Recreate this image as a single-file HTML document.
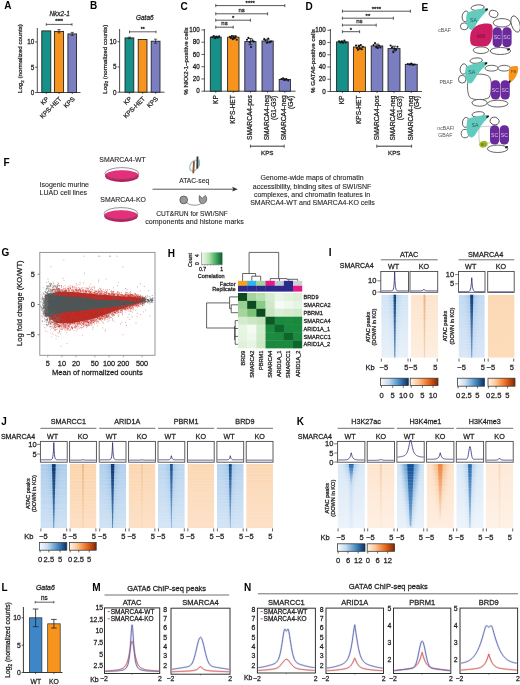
<!DOCTYPE html>
<html><head><meta charset="utf-8"><title>Figure</title>
<style>html,body{margin:0;padding:0;background:#fff;}svg{display:block;}</style></head><body>
<svg width="520" height="685" viewBox="0 0 520 685" font-family="Liberation Sans, Arial, Helvetica, sans-serif" fill="#231f20">
<style>text{stroke:#231f20;stroke-width:0.26px;} text.nc{stroke:none;} text.lt{stroke-width:0.1px;}</style>
<rect width="520" height="685" fill="#fff"/>
<text x="4.30" y="9.40" font-size="10.0" font-weight="bold" fill="#000" class="nc">A</text>
<line x1="37.30" y1="28.00" x2="37.30" y2="92.85" stroke="#231f20" stroke-width="0.8"/>
<line x1="37.30" y1="92.50" x2="80.50" y2="92.50" stroke="#231f20" stroke-width="0.8"/>
<line x1="35.10" y1="92.50" x2="37.30" y2="92.50" stroke="#231f20" stroke-width="0.7"/>
<text x="34.30" y="94.80" font-size="6.4" text-anchor="end">0</text>
<line x1="35.10" y1="67.25" x2="37.30" y2="67.25" stroke="#231f20" stroke-width="0.7"/>
<text x="34.30" y="69.55" font-size="6.4" text-anchor="end">5</text>
<line x1="35.10" y1="42.00" x2="37.30" y2="42.00" stroke="#231f20" stroke-width="0.7"/>
<text x="34.30" y="44.30" font-size="6.4" text-anchor="end">10</text>
<rect x="41.80" y="30.89" width="9.00" height="61.61" fill="#16918a" stroke="#1e1e1e" stroke-width="0.85"/>
<line x1="46.30" y1="92.50" x2="46.30" y2="94.10" stroke="#231f20" stroke-width="0.7"/>
<text x="49.30" y="99.50" font-size="6.4" text-anchor="end" transform="rotate(-45 49.30 99.50)">KP</text>
<rect x="54.40" y="31.40" width="9.20" height="61.10" fill="#f7941d" stroke="#1e1e1e" stroke-width="0.85"/>
<line x1="59.00" y1="92.50" x2="59.00" y2="94.10" stroke="#231f20" stroke-width="0.7"/>
<text x="62.00" y="99.50" font-size="6.4" text-anchor="end" transform="rotate(-45 62.00 99.50)">KPS-HET</text>
<rect x="67.90" y="33.92" width="8.70" height="58.58" fill="#7b7fc1" stroke="#1e1e1e" stroke-width="0.85"/>
<line x1="72.25" y1="92.50" x2="72.25" y2="94.10" stroke="#231f20" stroke-width="0.7"/>
<text x="75.25" y="99.50" font-size="6.4" text-anchor="end" transform="rotate(-45 75.25 99.50)">KPS</text>
<line x1="59.00" y1="29.63" x2="59.00" y2="32.91" stroke="#231f20" stroke-width="0.7"/>
<line x1="57.40" y1="29.63" x2="60.60" y2="29.63" stroke="#231f20" stroke-width="0.7"/>
<line x1="57.40" y1="32.91" x2="60.60" y2="32.91" stroke="#231f20" stroke-width="0.7"/>
<line x1="72.25" y1="32.41" x2="72.25" y2="35.43" stroke="#231f20" stroke-width="0.7"/>
<line x1="70.65" y1="32.41" x2="73.85" y2="32.41" stroke="#231f20" stroke-width="0.7"/>
<line x1="70.65" y1="35.43" x2="73.85" y2="35.43" stroke="#231f20" stroke-width="0.7"/>
<line x1="46.30" y1="24.40" x2="72.00" y2="24.40" stroke="#231f20" stroke-width="0.7"/>
<line x1="46.30" y1="23.20" x2="46.30" y2="25.80" stroke="#231f20" stroke-width="0.7"/>
<line x1="72.00" y1="23.20" x2="72.00" y2="25.80" stroke="#231f20" stroke-width="0.7"/>
<text x="59.10" y="23.40" font-size="5.0" text-anchor="middle">****</text>
<text x="59.60" y="15.60" font-size="6.4" text-anchor="middle" font-style="italic">Nkx2-1</text>
<text x="22.4" y="58.6" font-size="6.2" text-anchor="middle" transform="rotate(-90 22.4 58.6)">Log<tspan font-size="4.4" dy="1.2">2</tspan><tspan dy="-1.2"> (normalized counts)</tspan></text>
<text x="90.00" y="9.40" font-size="10.0" font-weight="bold" fill="#000" class="nc">B</text>
<line x1="119.60" y1="29.00" x2="119.60" y2="92.55" stroke="#231f20" stroke-width="0.8"/>
<line x1="119.60" y1="92.20" x2="164.50" y2="92.20" stroke="#231f20" stroke-width="0.8"/>
<line x1="117.40" y1="92.20" x2="119.60" y2="92.20" stroke="#231f20" stroke-width="0.7"/>
<text x="116.60" y="94.50" font-size="6.4" text-anchor="end">0</text>
<line x1="117.40" y1="66.95" x2="119.60" y2="66.95" stroke="#231f20" stroke-width="0.7"/>
<text x="116.60" y="69.25" font-size="6.4" text-anchor="end">5</text>
<line x1="117.40" y1="41.70" x2="119.60" y2="41.70" stroke="#231f20" stroke-width="0.7"/>
<text x="116.60" y="44.00" font-size="6.4" text-anchor="end">10</text>
<rect x="125.00" y="37.91" width="8.80" height="54.29" fill="#16918a" stroke="#1e1e1e" stroke-width="0.85"/>
<line x1="129.40" y1="92.20" x2="129.40" y2="93.80" stroke="#231f20" stroke-width="0.7"/>
<text x="132.40" y="99.20" font-size="6.4" text-anchor="end" transform="rotate(-45 132.40 99.20)">KP</text>
<rect x="138.20" y="39.43" width="8.80" height="52.77" fill="#f7941d" stroke="#1e1e1e" stroke-width="0.85"/>
<line x1="142.60" y1="92.20" x2="142.60" y2="93.80" stroke="#231f20" stroke-width="0.7"/>
<text x="145.60" y="99.20" font-size="6.4" text-anchor="end" transform="rotate(-45 145.60 99.20)">KPS-HET</text>
<rect x="151.20" y="41.20" width="8.80" height="51.00" fill="#7b7fc1" stroke="#1e1e1e" stroke-width="0.85"/>
<line x1="155.60" y1="92.20" x2="155.60" y2="93.80" stroke="#231f20" stroke-width="0.7"/>
<text x="158.60" y="99.20" font-size="6.4" text-anchor="end" transform="rotate(-45 158.60 99.20)">KPS</text>
<line x1="129.40" y1="37.16" x2="129.40" y2="38.67" stroke="#231f20" stroke-width="0.7"/>
<line x1="127.80" y1="37.16" x2="131.00" y2="37.16" stroke="#231f20" stroke-width="0.7"/>
<line x1="127.80" y1="38.67" x2="131.00" y2="38.67" stroke="#231f20" stroke-width="0.7"/>
<line x1="155.60" y1="39.18" x2="155.60" y2="43.22" stroke="#231f20" stroke-width="0.7"/>
<line x1="154.00" y1="39.18" x2="157.20" y2="39.18" stroke="#231f20" stroke-width="0.7"/>
<line x1="154.00" y1="43.22" x2="157.20" y2="43.22" stroke="#231f20" stroke-width="0.7"/>
<line x1="129.50" y1="31.80" x2="156.00" y2="31.80" stroke="#231f20" stroke-width="0.7"/>
<line x1="129.50" y1="30.60" x2="129.50" y2="33.20" stroke="#231f20" stroke-width="0.7"/>
<line x1="156.00" y1="30.60" x2="156.00" y2="33.20" stroke="#231f20" stroke-width="0.7"/>
<text x="142.80" y="30.60" font-size="5.0" text-anchor="middle">**</text>
<text x="144.80" y="20.20" font-size="6.4" text-anchor="middle" font-style="italic">Gata6</text>
<text x="106.9" y="59.2" font-size="6.2" text-anchor="middle" transform="rotate(-90 106.9 59.2)">Log<tspan font-size="4.4" dy="1.2">2</tspan><tspan dy="-1.2"> (normalized counts)</tspan></text>
<text x="180.60" y="10.00" font-size="10.0" font-weight="bold" fill="#000" class="nc">C</text>
<line x1="204.40" y1="29.00" x2="204.40" y2="91.55" stroke="#231f20" stroke-width="0.8"/>
<line x1="204.40" y1="91.20" x2="295.60" y2="91.20" stroke="#231f20" stroke-width="0.8"/>
<line x1="201.40" y1="91.20" x2="204.40" y2="91.20" stroke="#231f20" stroke-width="0.7"/>
<text x="199.80" y="93.40" font-size="6.3" text-anchor="end">0</text>
<line x1="201.40" y1="78.95" x2="204.40" y2="78.95" stroke="#231f20" stroke-width="0.7"/>
<text x="199.80" y="81.15" font-size="6.3" text-anchor="end">20</text>
<line x1="201.40" y1="66.70" x2="204.40" y2="66.70" stroke="#231f20" stroke-width="0.7"/>
<text x="199.80" y="68.90" font-size="6.3" text-anchor="end">40</text>
<line x1="201.40" y1="54.45" x2="204.40" y2="54.45" stroke="#231f20" stroke-width="0.7"/>
<text x="199.80" y="56.65" font-size="6.3" text-anchor="end">60</text>
<line x1="201.40" y1="42.20" x2="204.40" y2="42.20" stroke="#231f20" stroke-width="0.7"/>
<text x="199.80" y="44.40" font-size="6.3" text-anchor="end">80</text>
<line x1="201.40" y1="29.95" x2="204.40" y2="29.95" stroke="#231f20" stroke-width="0.7"/>
<text x="199.80" y="32.15" font-size="6.3" text-anchor="end">100</text>
<rect x="210.30" y="37.05" width="10.90" height="54.15" fill="#16918a" stroke="#1e1e1e" stroke-width="0.85"/>
<line x1="215.75" y1="91.20" x2="215.75" y2="92.80" stroke="#231f20" stroke-width="0.7"/>
<text x="217.65" y="95.20" font-size="6.6" text-anchor="end" transform="rotate(-90 217.65 95.20)">KP</text>
<line x1="215.75" y1="36.25" x2="215.75" y2="37.86" stroke="#231f20" stroke-width="0.8"/>
<line x1="213.75" y1="36.25" x2="217.75" y2="36.25" stroke="#231f20" stroke-width="0.8"/>
<line x1="213.75" y1="37.86" x2="217.75" y2="37.86" stroke="#231f20" stroke-width="0.8"/>
<circle cx="212.35" cy="37.30" r="1.05" fill="#111"/>
<circle cx="213.71" cy="36.07" r="1.05" fill="#111"/>
<circle cx="215.07" cy="38.22" r="1.05" fill="#111"/>
<circle cx="216.43" cy="36.69" r="1.05" fill="#111"/>
<circle cx="217.79" cy="37.61" r="1.05" fill="#111"/>
<circle cx="219.15" cy="36.38" r="1.05" fill="#111"/>
<rect x="227.60" y="37.18" width="11.40" height="54.02" fill="#f7941d" stroke="#1e1e1e" stroke-width="0.85"/>
<line x1="233.30" y1="91.20" x2="233.30" y2="92.80" stroke="#231f20" stroke-width="0.7"/>
<text x="235.20" y="95.20" font-size="6.6" text-anchor="end" transform="rotate(-90 235.20 95.20)">KPS-HET</text>
<line x1="233.30" y1="35.75" x2="233.30" y2="38.60" stroke="#231f20" stroke-width="0.8"/>
<line x1="231.30" y1="35.75" x2="235.30" y2="35.75" stroke="#231f20" stroke-width="0.8"/>
<line x1="231.30" y1="38.60" x2="235.30" y2="38.60" stroke="#231f20" stroke-width="0.8"/>
<circle cx="229.90" cy="36.69" r="1.05" fill="#111"/>
<circle cx="230.87" cy="37.91" r="1.05" fill="#111"/>
<circle cx="231.84" cy="36.07" r="1.05" fill="#111"/>
<circle cx="232.81" cy="39.14" r="1.05" fill="#111"/>
<circle cx="233.79" cy="36.99" r="1.05" fill="#111"/>
<circle cx="234.76" cy="38.22" r="1.05" fill="#111"/>
<circle cx="235.73" cy="36.38" r="1.05" fill="#111"/>
<circle cx="236.70" cy="39.75" r="1.05" fill="#111"/>
<rect x="244.80" y="41.59" width="11.20" height="49.61" fill="#7b7fc1" stroke="#1e1e1e" stroke-width="0.85"/>
<line x1="250.40" y1="91.20" x2="250.40" y2="92.80" stroke="#231f20" stroke-width="0.7"/>
<text x="252.30" y="95.20" font-size="6.6" text-anchor="end" transform="rotate(-90 252.30 95.20)">SMARCA4-pos</text>
<line x1="250.40" y1="38.45" x2="250.40" y2="44.72" stroke="#231f20" stroke-width="0.8"/>
<line x1="248.40" y1="38.45" x2="252.40" y2="38.45" stroke="#231f20" stroke-width="0.8"/>
<line x1="248.40" y1="44.72" x2="252.40" y2="44.72" stroke="#231f20" stroke-width="0.8"/>
<circle cx="247.00" cy="39.75" r="1.05" fill="#111"/>
<circle cx="248.36" cy="37.91" r="1.05" fill="#111"/>
<circle cx="249.72" cy="42.20" r="1.05" fill="#111"/>
<circle cx="251.08" cy="47.10" r="1.05" fill="#111"/>
<circle cx="252.44" cy="40.36" r="1.05" fill="#111"/>
<circle cx="253.80" cy="41.59" r="1.05" fill="#111"/>
<rect x="262.00" y="40.98" width="11.20" height="50.23" fill="#7b7fc1" stroke="#1e1e1e" stroke-width="0.85"/>
<line x1="267.60" y1="91.20" x2="267.60" y2="92.80" stroke="#231f20" stroke-width="0.7"/>
<text x="269.00" y="95.20" font-size="6.6" text-anchor="end" transform="rotate(-90 269.00 95.20)">SMARCA4-neg</text>
<text x="275.70" y="95.80" font-size="6.6" text-anchor="end" transform="rotate(-90 275.70 95.80)">(G1-G3)</text>
<line x1="267.60" y1="39.24" x2="267.60" y2="42.71" stroke="#231f20" stroke-width="0.8"/>
<line x1="265.60" y1="39.24" x2="269.60" y2="39.24" stroke="#231f20" stroke-width="0.8"/>
<line x1="265.60" y1="42.71" x2="269.60" y2="42.71" stroke="#231f20" stroke-width="0.8"/>
<circle cx="264.20" cy="39.14" r="1.05" fill="#111"/>
<circle cx="265.56" cy="40.36" r="1.05" fill="#111"/>
<circle cx="266.92" cy="42.81" r="1.05" fill="#111"/>
<circle cx="268.28" cy="38.52" r="1.05" fill="#111"/>
<circle cx="269.64" cy="42.20" r="1.05" fill="#111"/>
<circle cx="271.00" cy="41.59" r="1.05" fill="#111"/>
<rect x="279.20" y="79.44" width="11.20" height="11.76" fill="#7b7fc1" stroke="#1e1e1e" stroke-width="0.85"/>
<line x1="284.80" y1="91.20" x2="284.80" y2="92.80" stroke="#231f20" stroke-width="0.7"/>
<text x="286.20" y="95.20" font-size="6.6" text-anchor="end" transform="rotate(-90 286.20 95.20)">SMARCA4-neg</text>
<text x="292.90" y="95.80" font-size="6.6" text-anchor="end" transform="rotate(-90 292.90 95.80)">(G4)</text>
<line x1="284.80" y1="78.61" x2="284.80" y2="80.27" stroke="#231f20" stroke-width="0.8"/>
<line x1="282.80" y1="78.61" x2="286.80" y2="78.61" stroke="#231f20" stroke-width="0.8"/>
<line x1="282.80" y1="80.27" x2="286.80" y2="80.27" stroke="#231f20" stroke-width="0.8"/>
<circle cx="281.40" cy="78.95" r="1.05" fill="#111"/>
<circle cx="283.10" cy="78.34" r="1.05" fill="#111"/>
<circle cx="284.80" cy="79.87" r="1.05" fill="#111"/>
<circle cx="286.50" cy="79.26" r="1.05" fill="#111"/>
<circle cx="288.20" cy="80.48" r="1.05" fill="#111"/>
<line x1="215.75" y1="5.60" x2="284.80" y2="5.60" stroke="#444" stroke-width="0.9"/>
<line x1="215.75" y1="4.10" x2="215.75" y2="7.10" stroke="#444" stroke-width="0.9"/>
<line x1="284.80" y1="4.10" x2="284.80" y2="7.10" stroke="#444" stroke-width="0.9"/>
<text x="250.28" y="5.40" font-size="6.0" text-anchor="middle">****</text>
<line x1="215.75" y1="13.80" x2="267.60" y2="13.80" stroke="#444" stroke-width="0.9"/>
<line x1="215.75" y1="12.30" x2="215.75" y2="15.30" stroke="#444" stroke-width="0.9"/>
<line x1="267.60" y1="12.30" x2="267.60" y2="15.30" stroke="#444" stroke-width="0.9"/>
<text x="241.68" y="11.90" font-size="6.0" text-anchor="middle">ns</text>
<line x1="215.75" y1="20.20" x2="250.40" y2="20.20" stroke="#444" stroke-width="0.9"/>
<line x1="215.75" y1="18.70" x2="215.75" y2="21.70" stroke="#444" stroke-width="0.9"/>
<line x1="250.40" y1="18.70" x2="250.40" y2="21.70" stroke="#444" stroke-width="0.9"/>
<text x="233.07" y="20.00" font-size="6.0" text-anchor="middle">*</text>
<line x1="215.75" y1="27.20" x2="233.20" y2="27.20" stroke="#444" stroke-width="0.9"/>
<line x1="215.75" y1="25.70" x2="215.75" y2="28.70" stroke="#444" stroke-width="0.9"/>
<line x1="233.20" y1="25.70" x2="233.20" y2="28.70" stroke="#444" stroke-width="0.9"/>
<text x="224.47" y="25.30" font-size="6.0" text-anchor="middle">ns</text>
<text x="187.6" y="61" font-size="6.2" text-anchor="middle" transform="rotate(-90 187.6 61)">% NKX2-1–positive cells</text>
<line x1="250.40" y1="146.20" x2="284.20" y2="146.20" stroke="#231f20" stroke-width="0.9"/>
<line x1="250.40" y1="144.60" x2="250.40" y2="147.80" stroke="#231f20" stroke-width="0.7"/>
<line x1="284.20" y1="144.60" x2="284.20" y2="147.80" stroke="#231f20" stroke-width="0.7"/>
<text x="267.30" y="155.20" font-size="6.2" text-anchor="middle">KPS</text>
<text x="305.60" y="10.00" font-size="10.0" font-weight="bold" fill="#000" class="nc">D</text>
<line x1="330.40" y1="29.00" x2="330.40" y2="91.85" stroke="#231f20" stroke-width="0.8"/>
<line x1="330.40" y1="91.50" x2="422.00" y2="91.50" stroke="#231f20" stroke-width="0.8"/>
<line x1="327.40" y1="91.50" x2="330.40" y2="91.50" stroke="#231f20" stroke-width="0.7"/>
<text x="325.80" y="93.70" font-size="6.3" text-anchor="end">0</text>
<line x1="327.40" y1="79.25" x2="330.40" y2="79.25" stroke="#231f20" stroke-width="0.7"/>
<text x="325.80" y="81.45" font-size="6.3" text-anchor="end">20</text>
<line x1="327.40" y1="67.00" x2="330.40" y2="67.00" stroke="#231f20" stroke-width="0.7"/>
<text x="325.80" y="69.20" font-size="6.3" text-anchor="end">40</text>
<line x1="327.40" y1="54.75" x2="330.40" y2="54.75" stroke="#231f20" stroke-width="0.7"/>
<text x="325.80" y="56.95" font-size="6.3" text-anchor="end">60</text>
<line x1="327.40" y1="42.50" x2="330.40" y2="42.50" stroke="#231f20" stroke-width="0.7"/>
<text x="325.80" y="44.70" font-size="6.3" text-anchor="end">80</text>
<line x1="327.40" y1="30.25" x2="330.40" y2="30.25" stroke="#231f20" stroke-width="0.7"/>
<text x="325.80" y="32.45" font-size="6.3" text-anchor="end">100</text>
<rect x="336.60" y="41.89" width="11.60" height="49.61" fill="#16918a" stroke="#1e1e1e" stroke-width="0.85"/>
<line x1="342.40" y1="91.50" x2="342.40" y2="93.10" stroke="#231f20" stroke-width="0.7"/>
<text x="344.30" y="95.50" font-size="6.6" text-anchor="end" transform="rotate(-90 344.30 95.50)">KP</text>
<line x1="342.40" y1="41.04" x2="342.40" y2="42.73" stroke="#231f20" stroke-width="0.8"/>
<line x1="340.40" y1="41.04" x2="344.40" y2="41.04" stroke="#231f20" stroke-width="0.8"/>
<line x1="340.40" y1="42.73" x2="344.40" y2="42.73" stroke="#231f20" stroke-width="0.8"/>
<circle cx="339.00" cy="41.27" r="1.05" fill="#111"/>
<circle cx="340.36" cy="42.50" r="1.05" fill="#111"/>
<circle cx="341.72" cy="41.58" r="1.05" fill="#111"/>
<circle cx="343.08" cy="42.81" r="1.05" fill="#111"/>
<circle cx="344.44" cy="40.66" r="1.05" fill="#111"/>
<circle cx="345.80" cy="42.50" r="1.05" fill="#111"/>
<rect x="353.40" y="47.03" width="12.00" height="44.47" fill="#f7941d" stroke="#1e1e1e" stroke-width="0.85"/>
<line x1="359.40" y1="91.50" x2="359.40" y2="93.10" stroke="#231f20" stroke-width="0.7"/>
<text x="361.30" y="95.50" font-size="6.6" text-anchor="end" transform="rotate(-90 361.30 95.50)">KPS-HET</text>
<line x1="359.40" y1="45.20" x2="359.40" y2="48.87" stroke="#231f20" stroke-width="0.8"/>
<line x1="357.40" y1="45.20" x2="361.40" y2="45.20" stroke="#231f20" stroke-width="0.8"/>
<line x1="357.40" y1="48.87" x2="361.40" y2="48.87" stroke="#231f20" stroke-width="0.8"/>
<circle cx="356.00" cy="45.56" r="1.05" fill="#111"/>
<circle cx="356.97" cy="48.01" r="1.05" fill="#111"/>
<circle cx="357.94" cy="49.85" r="1.05" fill="#111"/>
<circle cx="358.91" cy="46.17" r="1.05" fill="#111"/>
<circle cx="359.89" cy="48.62" r="1.05" fill="#111"/>
<circle cx="360.86" cy="44.95" r="1.05" fill="#111"/>
<circle cx="361.83" cy="49.24" r="1.05" fill="#111"/>
<circle cx="362.80" cy="46.79" r="1.05" fill="#111"/>
<rect x="371.20" y="45.93" width="11.60" height="45.57" fill="#7b7fc1" stroke="#1e1e1e" stroke-width="0.85"/>
<line x1="377.00" y1="91.50" x2="377.00" y2="93.10" stroke="#231f20" stroke-width="0.7"/>
<text x="378.90" y="95.50" font-size="6.6" text-anchor="end" transform="rotate(-90 378.90 95.50)">SMARCA4-pos</text>
<line x1="377.00" y1="44.13" x2="377.00" y2="47.73" stroke="#231f20" stroke-width="0.8"/>
<line x1="375.00" y1="44.13" x2="379.00" y2="44.13" stroke="#231f20" stroke-width="0.8"/>
<line x1="375.00" y1="47.73" x2="379.00" y2="47.73" stroke="#231f20" stroke-width="0.8"/>
<circle cx="373.60" cy="44.95" r="1.05" fill="#111"/>
<circle cx="374.96" cy="43.11" r="1.05" fill="#111"/>
<circle cx="376.32" cy="46.79" r="1.05" fill="#111"/>
<circle cx="377.68" cy="48.01" r="1.05" fill="#111"/>
<circle cx="379.04" cy="45.56" r="1.05" fill="#111"/>
<circle cx="380.40" cy="47.40" r="1.05" fill="#111"/>
<rect x="388.00" y="48.62" width="12.00" height="42.88" fill="#7b7fc1" stroke="#1e1e1e" stroke-width="0.85"/>
<line x1="394.00" y1="91.50" x2="394.00" y2="93.10" stroke="#231f20" stroke-width="0.7"/>
<text x="395.40" y="95.50" font-size="6.6" text-anchor="end" transform="rotate(-90 395.40 95.50)">SMARCA4-neg</text>
<text x="402.10" y="96.10" font-size="6.6" text-anchor="end" transform="rotate(-90 402.10 96.10)">(G1-G3)</text>
<line x1="394.00" y1="46.21" x2="394.00" y2="51.04" stroke="#231f20" stroke-width="0.8"/>
<line x1="392.00" y1="46.21" x2="396.00" y2="46.21" stroke="#231f20" stroke-width="0.8"/>
<line x1="392.00" y1="51.04" x2="396.00" y2="51.04" stroke="#231f20" stroke-width="0.8"/>
<circle cx="390.60" cy="45.56" r="1.05" fill="#111"/>
<circle cx="391.96" cy="47.40" r="1.05" fill="#111"/>
<circle cx="393.32" cy="52.30" r="1.05" fill="#111"/>
<circle cx="394.68" cy="48.62" r="1.05" fill="#111"/>
<circle cx="396.04" cy="49.85" r="1.05" fill="#111"/>
<circle cx="397.40" cy="46.79" r="1.05" fill="#111"/>
<rect x="405.30" y="64.31" width="11.90" height="27.19" fill="#7b7fc1" stroke="#1e1e1e" stroke-width="0.85"/>
<line x1="411.25" y1="91.50" x2="411.25" y2="93.10" stroke="#231f20" stroke-width="0.7"/>
<text x="412.65" y="95.50" font-size="6.6" text-anchor="end" transform="rotate(-90 412.65 95.50)">SMARCA4-neg</text>
<text x="419.35" y="96.10" font-size="6.6" text-anchor="end" transform="rotate(-90 419.35 96.10)">(G4)</text>
<line x1="411.25" y1="63.80" x2="411.25" y2="64.81" stroke="#231f20" stroke-width="0.8"/>
<line x1="409.25" y1="63.80" x2="413.25" y2="63.80" stroke="#231f20" stroke-width="0.8"/>
<line x1="409.25" y1="64.81" x2="413.25" y2="64.81" stroke="#231f20" stroke-width="0.8"/>
<circle cx="407.85" cy="63.94" r="1.05" fill="#111"/>
<circle cx="409.55" cy="64.55" r="1.05" fill="#111"/>
<circle cx="411.25" cy="63.63" r="1.05" fill="#111"/>
<circle cx="412.95" cy="64.86" r="1.05" fill="#111"/>
<circle cx="414.65" cy="64.55" r="1.05" fill="#111"/>
<line x1="342.40" y1="11.20" x2="410.40" y2="11.20" stroke="#444" stroke-width="0.9"/>
<line x1="342.40" y1="9.70" x2="342.40" y2="12.70" stroke="#444" stroke-width="0.9"/>
<line x1="410.40" y1="9.70" x2="410.40" y2="12.70" stroke="#444" stroke-width="0.9"/>
<text x="376.40" y="11.00" font-size="6.0" text-anchor="middle">****</text>
<line x1="342.40" y1="18.20" x2="393.40" y2="18.20" stroke="#444" stroke-width="0.9"/>
<line x1="342.40" y1="16.70" x2="342.40" y2="19.70" stroke="#444" stroke-width="0.9"/>
<line x1="393.40" y1="16.70" x2="393.40" y2="19.70" stroke="#444" stroke-width="0.9"/>
<text x="367.90" y="18.00" font-size="6.0" text-anchor="middle">**</text>
<line x1="342.40" y1="25.10" x2="376.20" y2="25.10" stroke="#444" stroke-width="0.9"/>
<line x1="342.40" y1="23.60" x2="342.40" y2="26.60" stroke="#444" stroke-width="0.9"/>
<line x1="376.20" y1="23.60" x2="376.20" y2="26.60" stroke="#444" stroke-width="0.9"/>
<text x="359.30" y="23.20" font-size="6.0" text-anchor="middle">ns</text>
<line x1="342.40" y1="31.70" x2="359.60" y2="31.70" stroke="#444" stroke-width="0.9"/>
<line x1="342.40" y1="30.20" x2="342.40" y2="33.20" stroke="#444" stroke-width="0.9"/>
<line x1="359.60" y1="30.20" x2="359.60" y2="33.20" stroke="#444" stroke-width="0.9"/>
<text x="351.00" y="31.50" font-size="6.0" text-anchor="middle">*</text>
<text x="314.8" y="61" font-size="6.2" text-anchor="middle" transform="rotate(-90 314.8 61)">% GATA6-positive cells</text>
<line x1="376.80" y1="146.20" x2="411.60" y2="146.20" stroke="#231f20" stroke-width="0.9"/>
<line x1="376.80" y1="144.60" x2="376.80" y2="147.80" stroke="#231f20" stroke-width="0.7"/>
<line x1="411.60" y1="144.60" x2="411.60" y2="147.80" stroke="#231f20" stroke-width="0.7"/>
<text x="394.20" y="155.20" font-size="6.2" text-anchor="middle">KPS</text>
<text x="421.40" y="11.40" font-size="10.0" font-weight="bold" fill="#000" class="nc">E</text>
<ellipse cx="477.6" cy="7.6" rx="6.6" ry="2.7" transform="rotate(-6 477.6 7.6)" fill="#fff" stroke="#555555" stroke-width="0.9"/>
<ellipse cx="465.6" cy="16.4" rx="3.4" ry="5.4" transform="rotate(8 465.6 16.4)" fill="#fff" stroke="#555555" stroke-width="0.9"/>
<ellipse cx="464.2" cy="26.3" rx="3.8" ry="3.5" transform="rotate(0 464.2 26.3)" fill="#fff" stroke="#555555" stroke-width="0.9"/>
<ellipse cx="493.6" cy="13.9" rx="4.4" ry="3.5" transform="rotate(15 493.6 13.9)" fill="#fff" stroke="#555555" stroke-width="0.9"/>
<ellipse cx="502" cy="22.8" rx="8.8" ry="4.2" transform="rotate(0 502 22.8)" fill="#fff" stroke="#555555" stroke-width="0.9"/>
<ellipse cx="515.6" cy="24" rx="4.2" ry="8.4" transform="rotate(-18 515.6 24)" fill="#fff" stroke="#555555" stroke-width="0.9"/>
<ellipse cx="481" cy="50.2" rx="7.8" ry="3.3" transform="rotate(0 481 50.2)" fill="#fff" stroke="#555555" stroke-width="0.9"/>
<ellipse cx="500.4" cy="51" rx="10.2" ry="3.5" transform="rotate(0 500.4 51)" fill="#fff" stroke="#555555" stroke-width="0.9"/>
<ellipse cx="508.6" cy="49.4" rx="1.6" ry="1.0" transform="rotate(-30 508.6 49.4)" fill="#151515"/>
<path d="M467.2,12.6 C472,10.5 480,8.8 485.8,8.2 C487.4,8.4 487.6,9.8 486.4,11.4 C482,15.5 477.6,21 475.2,26.6 C474.4,29 473.8,30.6 471.8,30.2 C468.6,29.4 466.6,26.6 466.2,22.6 C466,19 466.4,15 467.2,12.6 Z" fill="#62cbbd"/>
<ellipse cx="486.6" cy="9.6" rx="1.6" ry="1.0" transform="rotate(-35 486.6 9.6)" fill="#151515"/>
<text x="473.40" y="21.60" font-size="5.2" text-anchor="middle" fill="#1d5e58" class="nc">SA</text>
<path d="M471.4,31.2 C474,27 477.5,24.6 482,23.9 C486,23.4 489.6,23.4 491.4,24.6 C493,26.5 492.8,31 492.2,36 C491.8,41 489.8,45.2 486,46.2 C481,46.8 476,46.6 472.8,45.6 C470.4,44.4 469.8,41 470.2,37 C470.4,34.6 470.6,32.6 471.4,31.2 Z" fill="#cc1d63"/>
<text x="481.00" y="37.80" font-size="5.2" text-anchor="middle" fill="#6a0f33" class="nc">ARI</text>
<rect x="492.6" y="27.3" width="9.3" height="19.9" rx="4.3" fill="#6a2a9c"/>
<text x="497.25" y="39.15" font-size="5.2" text-anchor="middle" fill="#d9c8ec" class="nc">SC</text>
<rect x="502.3" y="27.3" width="9.3" height="19.9" rx="4.3" fill="#6a2a9c"/>
<text x="506.95" y="39.15" font-size="5.2" text-anchor="middle" fill="#d9c8ec" class="nc">SC</text>
<ellipse cx="476.2" cy="60.6" rx="6.2" ry="2.7" transform="rotate(-5 476.2 60.6)" fill="#fff" stroke="#555555" stroke-width="0.9"/>
<ellipse cx="463.6" cy="69" rx="3.4" ry="5.2" transform="rotate(8 463.6 69)" fill="#fff" stroke="#555555" stroke-width="0.9"/>
<ellipse cx="462.2" cy="79.2" rx="3.8" ry="3.9" transform="rotate(0 462.2 79.2)" fill="#fff" stroke="#555555" stroke-width="0.9"/>
<ellipse cx="491.6" cy="68.2" rx="6.6" ry="2.9" transform="rotate(0 491.6 68.2)" fill="#fff" stroke="#555555" stroke-width="0.9"/>
<ellipse cx="504.2" cy="68.2" rx="6.2" ry="2.9" transform="rotate(0 504.2 68.2)" fill="#fff" stroke="#555555" stroke-width="0.9"/>
<path d="M469.6,76.6 C474,73.6 484.6,73 489.2,76.6 C492.4,80.4 492,92.6 489,97.6 C484,100.6 473,100.4 469.6,97.2 C466.8,92.6 466.8,81 469.6,76.6 Z" fill="#fff" stroke="#444" stroke-width="0.8"/>
<ellipse cx="479.6" cy="102.8" rx="7.6" ry="3.4" transform="rotate(0 479.6 102.8)" fill="#fff" stroke="#555555" stroke-width="0.9"/>
<ellipse cx="497.8" cy="103.6" rx="10.2" ry="3.4" transform="rotate(0 497.8 103.6)" fill="#fff" stroke="#555555" stroke-width="0.9"/>
<path d="M466.2,66.6 C471,64.4 479,62.6 485,61.8 C486.8,62 487,63.6 485.8,65.2 C481,69.6 477,75 474.4,79.6 C473,82 471.6,83.8 469.8,83.4 C467.2,82.4 465.4,79.6 465.2,75.6 C465,72 465.4,68.6 466.2,66.6 Z" fill="#62cbbd"/>
<ellipse cx="486" cy="63.4" rx="1.6" ry="1.0" transform="rotate(-35 486 63.4)" fill="#151515"/>
<text x="471.80" y="74.00" font-size="5.2" text-anchor="middle" fill="#1d5e58" class="nc">SA</text>
<path d="M509.8,67 C512.6,66.2 516,65.8 517.8,66.4 C518.8,68.4 518,72 516.4,75.6 C514.8,79 512.4,81.6 509.8,82.6 C508.4,80 508.2,74 509.8,67 Z" fill="#f7941d"/>
<ellipse cx="509.4" cy="82" rx="1.6" ry="1.0" transform="rotate(-60 509.4 82)" fill="#151515"/>
<text x="513.60" y="73.20" font-size="4.4" text-anchor="middle" fill="#7a4400" class="nc">PB</text>
<rect x="490.8" y="80.2" width="9.3" height="19.2" rx="4.3" fill="#6a2a9c"/>
<text x="495.45" y="91.70" font-size="5.2" text-anchor="middle" fill="#d9c8ec" class="nc">SC</text>
<rect x="500.5" y="80.2" width="9.3" height="19.2" rx="4.3" fill="#6a2a9c"/>
<text x="505.15" y="91.70" font-size="5.2" text-anchor="middle" fill="#d9c8ec" class="nc">SC</text>
<ellipse cx="478.2" cy="114.4" rx="6.2" ry="2.7" transform="rotate(-5 478.2 114.4)" fill="#fff" stroke="#555555" stroke-width="0.9"/>
<ellipse cx="465.8" cy="122.4" rx="3.3" ry="5" transform="rotate(8 465.8 122.4)" fill="#fff" stroke="#555555" stroke-width="0.9"/>
<ellipse cx="465" cy="133.6" rx="3.8" ry="4.2" transform="rotate(0 465 133.6)" fill="#fff" stroke="#555555" stroke-width="0.9"/>
<ellipse cx="494.6" cy="121" rx="4.6" ry="3.8" transform="rotate(12 494.6 121)" fill="#fff" stroke="#555555" stroke-width="0.9"/>
<path d="M479.4,127.2 C483,126.2 488,126 491,126.6 L491,142.6 C487,143.6 482,143.4 479.6,142.4 C478.6,138 478.6,131 479.4,127.2 Z" fill="#fff" stroke="#999" stroke-width="0.5"/>
<ellipse cx="497.6" cy="148.8" rx="10.2" ry="3.7" transform="rotate(0 497.6 148.8)" fill="#fff" stroke="#555555" stroke-width="0.9"/>
<ellipse cx="506.6" cy="147.2" rx="1.6" ry="1.0" transform="rotate(-30 506.6 147.2)" fill="#151515"/>
<path d="M467.6,119 C472.6,117 480.4,115.6 486.6,115 C488.4,115.2 488.6,116.8 487.2,118.4 C482.6,122.8 479,128.6 476.6,132.6 C475,135.4 473.4,137.6 471.2,137.4 C468.6,136.6 466.8,133.6 466.6,129.4 C466.4,125.6 466.8,121.4 467.6,119 Z" fill="#62cbbd"/>
<ellipse cx="487.6" cy="116.6" rx="1.6" ry="1.0" transform="rotate(-35 487.6 116.6)" fill="#151515"/>
<text x="475.00" y="127.40" font-size="5.2" text-anchor="middle" fill="#1d5e58" class="nc">SA</text>
<rect x="490" y="125.2" width="9.3" height="19.2" rx="4.3" fill="#6a2a9c"/>
<text x="494.65" y="136.70" font-size="5.2" text-anchor="middle" fill="#d9c8ec" class="nc">SC</text>
<rect x="499.7" y="125.2" width="9.3" height="19.2" rx="4.3" fill="#6a2a9c"/>
<text x="504.35" y="136.70" font-size="5.2" text-anchor="middle" fill="#d9c8ec" class="nc">SC</text>
<ellipse cx="483.4" cy="144.2" rx="4.3" ry="3.4" transform="rotate(-15 483.4 144.2)" fill="#a9b92e"/>
<text x="483.40" y="145.80" font-size="3.8" text-anchor="middle" fill="#556010" class="nc">BD</text>
<text x="444.60" y="31.80" font-size="5.2" text-anchor="middle" fill="#555" class="nc">cBAF</text>
<text x="446.20" y="84.40" font-size="5.2" text-anchor="middle" fill="#555" class="nc">PBAF</text>
<text x="445.80" y="130.40" font-size="5.2" text-anchor="middle" fill="#555" class="nc">ncBAF/</text>
<text x="445.40" y="137.20" font-size="5.2" text-anchor="middle" fill="#555" class="nc">GBAF</text>
<text x="3.40" y="166.00" font-size="10.0" font-weight="bold" fill="#000" class="nc">F</text>
<text x="39.60" y="186.60" font-size="7.0" class="lt">Isogenic murine</text>
<text x="39.60" y="195.00" font-size="7.0" class="lt">LUAD cell lines</text>
<text x="122.50" y="161.90" font-size="6.9" text-anchor="middle" class="lt">SMARCA4-WT</text>
<text x="123.10" y="201.90" font-size="6.9" text-anchor="middle" class="lt">SMARCA4-KO</text>
<ellipse cx="121.9" cy="176.3" rx="16.7" ry="5.6" fill="#b51c5a"/>
<ellipse cx="121.9" cy="175.2" rx="16.5" ry="5.0" fill="#e3307b"/>
<ellipse cx="121.9" cy="173.6" rx="16.9" ry="6.0" fill="none" stroke="#4a4a4a" stroke-width="0.6"/>
<ellipse cx="121" cy="216.3" rx="16.7" ry="5.6" fill="#b51c5a"/>
<ellipse cx="121" cy="215.2" rx="16.5" ry="5.0" fill="#e3307b"/>
<ellipse cx="121" cy="213.6" rx="16.9" ry="6.0" fill="none" stroke="#4a4a4a" stroke-width="0.6"/>
<text x="194.20" y="183.20" font-size="6.7" text-anchor="middle" class="lt">ATAC-seq</text>
<line x1="152.50" y1="189.20" x2="233.50" y2="189.20" stroke="#444" stroke-width="0.9"/>
<path d="M237.8,189.2 L232.2,186.8 L233.2,189.2 L232.2,191.6 Z" fill="#333"/>
<ellipse cx="194.4" cy="165.6" rx="6.0" ry="4.0" transform="rotate(-55 194.4 165.6)" fill="none" stroke="#aec6c2" stroke-width="1.4"/>
<line x1="194.00" y1="161.20" x2="193.30" y2="173.20" stroke="#93502f" stroke-width="1.8"/>
<line x1="197.50" y1="156.60" x2="197.30" y2="168.40" stroke="#28403d" stroke-width="1.9"/>
<line x1="199.20" y1="159.50" x2="199.40" y2="166.00" stroke="#6fa7a0" stroke-width="0.8"/>
<circle cx="183.7" cy="199.9" r="3.9" fill="#999" stroke="#333" stroke-width="0.6"/>
<path d="M199.5,195.6 L202.2,198.4 L205.2,195.4 C207.5,197.5 207.2,202.5 203.4,203.6 C200.5,204.4 198.4,201.5 199.5,195.6 Z" fill="#999" stroke="#333" stroke-width="0.6"/>
<path d="M186.4,202.4 C190,206 198,206 201.2,203.4" fill="none" stroke="#333" stroke-width="0.5"/>
<text x="192.00" y="216.20" font-size="6.65" text-anchor="middle" class="lt">CUT&amp;RUN for SWI/SNF</text>
<text x="194.50" y="224.30" font-size="7.1" text-anchor="middle" class="lt">components and histone marks</text>
<text x="312.10" y="180.10" font-size="7.0" text-anchor="middle" class="lt">Genome-wide maps of chromatin</text>
<text x="312.10" y="188.50" font-size="7.0" text-anchor="middle" class="lt">accessibility, binding sites of SWI/SNF</text>
<text x="312.10" y="196.60" font-size="7.0" text-anchor="middle" class="lt">complexes, and chromatin features in</text>
<text x="312.50" y="205.30" font-size="7.0" text-anchor="middle" class="lt">SMARCA4-WT and SMARCA4-KO cells</text>
<text x="1.60" y="256.30" font-size="10.0" font-weight="bold" fill="#000" class="nc">G</text>
<clipPath id="gclip"><rect x="39.8" y="252.4" width="115.2" height="102.9"/></clipPath>
<g clip-path="url(#gclip)">
<path d="M45.00,294.50 L45.50,294.50 L46.00,294.50 L46.50,294.50 L47.00,294.50 L47.50,294.50 L48.00,294.50 L48.50,294.50 L49.00,294.50 L49.50,294.31 L50.00,294.12 L50.50,293.94 L51.00,293.75 L51.50,293.56 L52.00,293.38 L52.50,293.19 L53.00,293.00 L53.50,292.82 L54.00,292.65 L54.50,292.48 L55.00,292.30 L55.50,292.12 L56.00,291.95 L56.50,291.78 L57.00,291.60 L57.50,291.61 L58.00,291.62 L58.50,291.62 L59.00,291.63 L59.50,291.64 L60.00,291.65 L60.50,291.65 L61.00,291.66 L61.50,291.67 L62.00,291.68 L62.50,291.68 L63.00,291.69 L63.50,291.70 L64.00,291.71 L64.50,291.72 L65.00,291.72 L65.50,291.73 L66.00,291.74 L66.50,291.75 L67.00,291.75 L67.50,291.76 L68.00,291.77 L68.50,291.78 L69.00,291.78 L69.50,291.79 L70.00,291.80 L70.50,291.84 L71.00,291.89 L71.50,291.93 L72.00,291.98 L72.50,292.02 L73.00,292.06 L73.50,292.11 L74.00,292.15 L74.50,292.19 L75.00,292.24 L75.50,292.28 L76.00,292.32 L76.50,292.37 L77.00,292.41 L77.50,292.46 L78.00,292.50 L78.50,292.54 L79.00,292.59 L79.50,292.63 L80.00,292.68 L80.50,292.72 L81.00,292.76 L81.50,292.81 L82.00,292.85 L82.50,292.89 L83.00,292.94 L83.50,292.98 L84.00,293.02 L84.50,293.07 L85.00,293.11 L85.50,293.16 L86.00,293.20 L86.50,293.26 L87.00,293.31 L87.50,293.37 L88.00,293.42 L88.50,293.48 L89.00,293.53 L89.50,293.59 L90.00,293.64 L90.50,293.70 L91.00,293.76 L91.50,293.81 L92.00,293.87 L92.50,293.92 L93.00,293.98 L93.50,294.03 L94.00,294.09 L94.50,294.14 L95.00,294.20 L95.50,294.24 L96.00,294.27 L96.50,294.31 L97.00,294.35 L97.50,294.39 L98.00,294.43 L98.50,294.46 L99.00,294.50 L99.50,294.54 L100.00,294.57 L100.50,294.61 L101.00,294.65 L101.50,294.69 L102.00,294.72 L102.50,294.76 L103.00,294.80 L103.50,294.84 L104.00,294.88 L104.50,294.91 L105.00,294.95 L105.50,294.99 L106.00,295.02 L106.50,295.06 L107.00,295.10 L107.50,295.14 L108.00,295.18 L108.50,295.21 L109.00,295.25 L109.50,295.29 L110.00,295.32 L110.50,295.36 L111.00,295.40 L111.50,295.44 L112.00,295.48 L112.50,295.51 L113.00,295.55 L113.50,295.59 L114.00,295.62 L114.50,295.66 L115.00,295.70 L115.50,295.74 L116.00,295.77 L116.50,295.81 L117.00,295.85 L117.50,295.89 L118.00,295.93 L118.50,295.96 L119.00,296.00 L119.50,296.03 L120.00,296.07 L120.50,296.10 L121.00,296.13 L121.50,296.17 L122.00,296.20 L122.50,296.23 L123.00,296.27 L123.50,296.30 L124.00,296.33 L124.50,296.37 L125.00,296.40 L125.50,296.43 L126.00,296.47 L126.50,296.50 L127.00,296.53 L127.50,296.57 L128.00,296.60 L128.50,296.63 L129.00,296.67 L129.50,296.70 L130.00,296.73 L130.50,296.77 L131.00,296.80 L131.50,296.83 L132.00,296.87 L132.50,296.90 L133.00,296.93 L133.50,296.97 L134.00,297.00 L134.50,297.03 L135.00,297.07 L135.50,297.10 L136.00,297.13 L136.50,297.17 L137.00,297.20 L137.50,297.34 L138.00,297.47 L138.50,297.61 L139.00,297.75 L139.50,297.89 L140.00,298.02 L140.50,298.16 L141.00,298.30 L141.50,298.44 L142.00,298.57 L142.50,298.71 L143.00,298.85 L143.50,298.99 L144.00,299.12 L144.50,299.26 L145.00,299.40 L145.00,300.60 L144.50,300.80 L144.00,301.00 L143.50,301.20 L143.00,301.40 L142.50,301.60 L142.00,301.80 L141.50,302.00 L141.00,302.20 L140.50,302.40 L140.00,302.60 L139.50,302.80 L139.00,303.00 L138.50,303.20 L138.00,303.40 L137.50,303.60 L137.00,303.80 L136.50,303.96 L136.00,304.12 L135.50,304.28 L135.00,304.43 L134.50,304.59 L134.00,304.75 L133.50,304.91 L133.00,305.07 L132.50,305.23 L132.00,305.38 L131.50,305.54 L131.00,305.70 L130.50,305.86 L130.00,306.02 L129.50,306.18 L129.00,306.33 L128.50,306.49 L128.00,306.65 L127.50,306.81 L127.00,306.97 L126.50,307.12 L126.00,307.28 L125.50,307.44 L125.00,307.60 L124.50,307.76 L124.00,307.92 L123.50,308.07 L123.00,308.23 L122.50,308.39 L122.00,308.55 L121.50,308.71 L121.00,308.87 L120.50,309.02 L120.00,309.18 L119.50,309.34 L119.00,309.50 L118.50,309.69 L118.00,309.88 L117.50,310.06 L117.00,310.25 L116.50,310.44 L116.00,310.62 L115.50,310.81 L115.00,311.00 L114.50,311.19 L114.00,311.38 L113.50,311.56 L113.00,311.75 L112.50,311.94 L112.00,312.12 L111.50,312.31 L111.00,312.50 L110.50,312.69 L110.00,312.88 L109.50,313.06 L109.00,313.25 L108.50,313.44 L108.00,313.62 L107.50,313.81 L107.00,314.00 L106.50,314.19 L106.00,314.38 L105.50,314.56 L105.00,314.75 L104.50,314.94 L104.00,315.12 L103.50,315.31 L103.00,315.50 L102.50,315.69 L102.00,315.88 L101.50,316.06 L101.00,316.25 L100.50,316.44 L100.00,316.62 L99.50,316.81 L99.00,317.00 L98.50,317.19 L98.00,317.38 L97.50,317.56 L97.00,317.75 L96.50,317.94 L96.00,318.12 L95.50,318.31 L95.00,318.50 L94.50,318.61 L94.00,318.72 L93.50,318.83 L93.00,318.94 L92.50,319.06 L92.00,319.17 L91.50,319.28 L91.00,319.39 L90.50,319.50 L90.00,319.61 L89.50,319.72 L89.00,319.83 L88.50,319.94 L88.00,320.06 L87.50,320.17 L87.00,320.28 L86.50,320.39 L86.00,320.50 L85.50,320.59 L85.00,320.69 L84.50,320.78 L84.00,320.88 L83.50,320.97 L83.00,321.06 L82.50,321.16 L82.00,321.25 L81.50,321.34 L81.00,321.44 L80.50,321.53 L80.00,321.62 L79.50,321.72 L79.00,321.81 L78.50,321.91 L78.00,322.00 L77.50,322.09 L77.00,322.19 L76.50,322.28 L76.00,322.38 L75.50,322.47 L75.00,322.56 L74.50,322.66 L74.00,322.75 L73.50,322.84 L73.00,322.94 L72.50,323.03 L72.00,323.12 L71.50,323.22 L71.00,323.31 L70.50,323.41 L70.00,323.50 L69.50,323.48 L69.00,323.46 L68.50,323.45 L68.00,323.43 L67.50,323.41 L67.00,323.39 L66.50,323.38 L66.00,323.36 L65.50,323.34 L65.00,323.32 L64.50,323.30 L64.00,323.29 L63.50,323.27 L63.00,323.25 L62.50,323.23 L62.00,323.21 L61.50,323.20 L61.00,323.18 L60.50,323.16 L60.00,323.14 L59.50,323.12 L59.00,323.11 L58.50,323.09 L58.00,323.07 L57.50,323.05 L57.00,323.04 L56.50,323.02 L56.00,323.00 L55.50,322.62 L55.00,322.25 L54.50,321.88 L54.00,321.50 L53.50,321.12 L53.00,320.75 L52.50,320.38 L52.00,320.00 L51.50,319.42 L51.00,318.83 L50.50,318.25 L50.00,317.67 L49.50,317.08 L49.00,316.50 L48.50,316.50 L48.00,316.50 L47.50,316.50 L47.00,316.50 L46.50,316.50 L46.00,316.50 L45.50,316.50 L45.00,316.50 Z" fill="#c4261f"/>
<path d="M83.7 294.0h0M92.4 294.1h0M57.9 294.1h0M51.7 318.4h0M119.2 306.4h0M51.5 293.6h0M59.1 292.3h0M83.5 294.5h0M63.6 313.6h0M75.1 320.6h0M58.8 291.8h0M56.5 294.8h0M87.4 295.8h0M120.0 298.8h0M97.3 313.3h0M119.7 308.0h0M88.7 318.3h0M83.0 317.7h0M105.6 311.1h0M63.6 291.7h0M51.1 293.6h0M92.8 312.1h0M115.4 298.9h0M138.9 299.5h0M67.9 293.0h0M67.2 322.0h0M62.2 292.2h0M134.0 300.2h0M93.0 298.0h0M91.0 318.0h0M112.2 309.9h0M115.4 297.3h0M76.0 295.2h0M136.8 303.7h0M65.5 318.6h0M110.1 312.6h0M111.0 312.2h0M103.1 296.3h0M86.6 314.5h0M65.5 321.7h0M67.3 293.9h0M111.1 308.3h0M114.1 296.0h0M59.3 295.4h0M105.1 310.5h0M133.5 304.0h0M58.9 294.3h0M125.3 306.3h0M71.5 293.0h0M122.9 306.1h0M95.5 310.1h0M93.4 312.3h0M77.1 294.9h0M86.5 311.0h0M126.3 300.2h0M117.7 296.4h0M84.6 314.2h0M74.2 295.2h0M130.4 305.8h0M86.8 313.4h0M52.5 293.6h0M113.5 310.7h0M59.6 291.6h0M110.2 309.6h0M50.4 316.9h0M100.2 297.6h0M107.1 312.2h0M81.8 297.1h0M52.8 318.5h0M68.5 291.8h0M78.7 320.3h0M61.5 294.5h0M138.5 302.8h0M126.5 305.5h0M69.9 293.5h0M88.7 310.8h0M81.2 320.3h0M86.8 318.2h0M70.3 321.1h0M126.3 305.4h0M62.6 321.9h0M131.8 304.1h0M67.5 314.7h0M138.6 303.0h0M51.1 316.6h0M138.1 303.3h0M107.4 311.2h0M125.9 297.8h0M118.8 306.9h0M63.3 323.3h0M118.0 309.8h0M60.6 294.5h0M68.0 323.0h0M87.5 315.1h0M89.5 296.3h0M103.0 297.0h0M103.9 296.8h0M63.7 321.6h0M102.2 299.0h0M84.1 297.2h0M125.1 299.6h0M111.5 297.0h0M73.3 311.8h0M95.1 297.2h0M114.8 309.1h0M123.9 307.0h0M71.6 316.5h0M79.1 310.8h0M100.5 311.1h0M115.2 296.7h0M94.9 294.4h0M99.7 295.3h0M115.0 306.5h0M93.6 310.5h0M114.6 297.8h0M137.3 298.9h0M125.3 299.1h0M129.9 300.6h0M126.7 305.1h0M84.7 315.3h0M106.2 310.5h0M139.7 302.5h0M52.3 293.4h0M87.5 294.1h0M71.2 312.9h0M64.1 292.7h0M127.6 306.3h0M139.0 300.6h0M83.3 320.5h0M70.5 317.0h0M71.4 322.2h0M63.1 294.2h0M61.4 319.4h0M92.1 309.4h0M119.4 307.9h0M124.7 306.6h0M91.8 297.5h0M112.0 307.8h0M89.5 295.0h0M51.7 317.4h0M93.5 296.5h0M100.5 311.8h0M115.2 307.9h0M114.9 296.8h0M80.4 311.6h0M98.6 312.4h0M81.1 315.8h0M136.8 297.7h0M112.7 299.3h0M73.6 295.7h0M112.9 308.8h0M78.6 313.2h0M104.0 314.7h0M52.2 318.0h0M110.4 296.3h0M61.9 294.1h0M53.4 294.3h0M50.5 293.9h0M89.4 318.8h0M94.2 314.0h0M103.6 314.6h0M128.6 305.1h0M118.4 309.3h0M128.3 298.1h0M126.2 305.4h0M64.4 321.9h0M98.9 315.6h0M71.6 318.7h0M138.9 302.9h0M130.2 305.0h0M72.7 314.8h0M133.0 304.7h0M102.0 299.4h0M58.9 294.9h0M109.7 311.3h0M66.2 317.2h0M86.6 311.1h0M98.5 315.2h0M99.8 296.1h0M92.6 313.8h0M73.6 315.0h0M131.4 304.9h0M77.3 292.6h0M84.7 315.2h0M123.0 300.4h0M80.1 294.4h0M94.1 296.4h0M138.5 303.0h0M125.8 306.8h0M121.9 307.9h0M91.7 318.4h0M75.9 312.3h0M64.0 291.8h0M58.6 314.5h0M129.6 304.8h0M51.5 318.8h0M95.0 298.9h0M116.0 307.2h0M116.4 307.2h0M138.8 299.4h0M139.4 302.3h0M61.6 322.9h0M52.9 293.7h0M65.9 314.0h0M64.1 320.0h0M63.4 315.2h0M76.2 317.8h0M65.5 319.6h0M96.4 297.2h0M92.1 296.6h0M59.8 295.5h0M52.3 318.4h0M121.3 306.5h0M132.3 304.0h0M79.4 294.7h0M111.0 308.2h0M50.6 317.0h0M111.2 310.5h0M82.9 320.6h0M118.5 298.2h0M134.5 304.1h0M113.4 298.0h0M107.5 296.3h0M82.7 311.4h0M87.8 295.6h0M128.5 300.2h0M107.9 310.5h0M131.4 305.0h0M102.6 315.2h0M131.3 304.5h0M106.7 299.7h0M58.5 321.3h0M52.8 293.8h0M139.9 302.5h0M71.3 296.5h0M101.2 310.9h0M87.9 296.4h0M100.4 297.5h0M85.4 297.0h0M72.1 317.8h0M126.0 306.4h0M61.5 316.8h0M135.7 299.1h0M59.9 317.5h0M50.3 293.8h0M78.8 294.1h0M123.5 308.0h0M97.0 317.7h0M122.2 306.9h0M119.9 297.1h0M120.6 306.1h0M80.9 293.3h0M133.8 304.0h0M106.3 297.0h0M132.5 298.8h0M97.4 295.8h0M134.4 300.4h0M68.8 312.2h0M92.2 298.6h0M50.9 317.5h0M137.7 303.4h0M115.4 297.2h0M54.1 294.4h0M116.4 297.0h0M137.1 303.7h0M117.6 297.8h0M134.6 303.7h0M50.7 293.6h0M112.4 299.3h0M86.1 319.8h0M121.1 306.6h0M76.8 292.7h0M71.5 311.4h0M56.8 293.1h0M105.9 295.9h0M98.5 295.5h0M104.1 311.0h0M122.3 306.2h0M115.2 296.7h0M60.4 319.4h0M99.0 314.9h0M74.0 293.9h0M105.8 313.0h0M66.3 292.4h0M82.9 297.0h0M130.5 305.7h0M59.5 315.3h0M138.0 303.0h0M65.7 315.1h0M102.8 309.7h0M88.7 314.1h0M84.7 320.3h0M97.8 298.2h0M55.8 315.6h0M74.5 312.8h0M100.5 298.4h0M73.8 312.9h0M132.1 297.9h0M55.5 292.5h0M65.6 294.1h0M90.4 310.1h0M98.9 295.5h0M129.5 305.0h0M94.2 311.1h0M95.3 295.4h0M82.3 313.2h0M137.4 297.8h0M55.0 319.8h0M75.7 316.6h0M111.3 311.6h0M108.4 310.7h0M116.8 297.1h0M98.6 308.6h0M122.2 308.3h0M127.1 305.4h0M120.3 299.7h0M110.8 311.8h0M136.0 299.5h0M55.9 320.8h0M118.3 296.0h0M123.3 306.2h0M99.5 315.7h0M58.0 320.7h0M99.7 312.2h0M64.6 293.1h0M69.4 319.9h0M118.2 297.1h0M112.3 297.0h0M119.2 297.4h0M68.6 314.2h0M125.1 307.3h0M101.2 314.7h0M95.5 299.1h0M118.3 308.5h0M132.6 304.9h0M127.6 297.4h0M139.0 302.9h0M125.8 305.1h0M118.7 300.0h0M128.8 305.3h0M113.7 298.4h0M121.8 305.9h0M63.7 319.6h0M125.7 300.1h0M89.0 314.3h0M130.8 305.3h0M66.1 294.3h0M51.0 318.5h0M135.6 300.0h0M119.7 308.9h0M62.4 319.5h0M64.6 293.2h0M124.3 300.4h0M128.8 298.0h0M62.0 293.3h0M113.3 296.9h0M130.9 297.2h0M120.4 307.4h0M139.8 302.5h0M71.9 314.4h0M132.7 299.1h0M110.4 311.8h0M80.5 318.9h0M115.2 297.7h0M65.0 317.9h0M119.4 299.6h0M95.1 297.5h0M134.2 301.0h0M124.2 307.4h0M70.3 293.8h0M79.3 320.7h0M70.3 318.3h0M81.0 294.0h0M95.7 318.2h0M129.7 304.8h0M126.5 307.0h0M107.6 310.1h0M104.5 308.9h0M96.4 314.1h0M112.5 297.6h0M87.7 320.1h0M74.3 317.1h0M53.6 292.9h0M81.4 295.4h0M107.9 312.2h0M121.9 305.6h0M123.3 306.6h0M108.3 295.6h0M136.6 303.6h0M71.6 294.1h0M92.2 294.2h0M88.9 310.8h0M78.4 315.1h0M115.9 306.6h0M134.7 303.7h0M66.1 319.2h0M96.9 294.7h0M89.2 319.1h0M122.6 308.3h0M107.7 299.1h0M121.9 305.8h0M120.8 306.6h0M101.6 296.0h0M93.5 311.9h0M96.9 311.7h0M116.6 306.6h0M51.1 293.7h0M90.3 318.2h0M59.2 314.8h0M107.6 296.2h0M112.5 297.5h0M55.1 315.3h0M63.9 315.3h0M87.8 315.7h0M122.9 306.9h0M82.7 312.4h0M85.0 313.2h0M126.3 306.0h0M113.5 298.6h0M83.6 311.8h0M111.9 299.7h0M115.8 309.5h0M123.2 308.1h0M130.9 304.9h0M133.4 304.1h0M74.8 316.1h0M73.3 312.3h0M66.5 294.7h0M61.9 293.8h0M62.3 314.5h0M128.7 304.8h0M110.8 311.5h0M69.2 318.6h0M93.0 316.6h0M128.0 298.6h0M125.1 307.3h0M115.6 310.4h0M131.3 299.3h0M84.9 318.8h0M50.1 317.4h0M99.2 310.8h0M55.5 295.0h0M85.0 294.1h0M52.3 293.4h0M64.2 315.8h0M126.4 305.8h0M105.1 311.9h0M60.0 317.0h0M91.8 317.5h0M54.3 317.0h0M121.3 299.5h0M117.0 307.1h0M138.5 302.7h0M99.5 310.0h0M92.0 312.8h0M95.4 297.0h0M107.0 295.7h0M138.2 303.3h0M128.7 305.1h0M78.2 292.9h0M95.2 294.5h0M86.7 294.6h0M53.6 293.5h0M79.2 316.2h0M59.4 291.9h0M96.5 311.2h0M126.3 297.6h0M107.3 312.4h0M72.6 317.0h0M128.8 305.2h0M138.3 300.3h0M65.9 312.5h0M79.7 295.7h0M84.2 297.3h0M113.3 309.1h0M85.0 317.0h0M124.2 306.6h0M102.7 295.8h0M67.7 312.5h0M68.3 292.6h0M75.3 320.9h0M63.6 319.8h0M72.3 312.4h0M104.7 312.7h0M69.9 295.3h0M115.7 296.3h0M55.9 293.8h0M56.9 318.1h0M103.3 308.8h0M101.6 297.3h0M78.5 311.3h0M137.3 303.2h0M101.4 298.6h0M83.3 320.3h0M123.0 305.9h0M98.3 311.1h0M50.9 293.6h0M60.9 315.5h0M68.2 292.5h0M100.3 315.6h0M89.9 316.1h0M87.5 319.4h0M81.2 318.0h0M85.8 315.6h0M70.6 322.7h0M97.9 299.2h0M52.1 319.1h0M104.6 311.6h0M81.3 319.1h0M117.8 309.0h0M58.2 294.3h0M80.1 316.4h0M75.2 319.9h0M134.0 304.7h0M135.8 304.0h0M70.9 295.5h0M105.7 310.6h0M107.1 299.5h0M82.6 293.3h0M65.1 295.6h0M88.3 297.0h0M139.5 298.7h0M60.9 295.4h0M74.4 322.7h0M126.7 305.2h0M65.7 317.5h0M120.2 307.9h0M56.7 294.9h0M60.1 313.5h0M136.4 303.5h0M86.2 295.6h0M105.8 298.7h0M123.1 306.4h0M129.3 297.0h0M117.9 296.5h0M107.0 296.1h0M61.8 318.6h0M85.0 296.1h0M89.0 319.6h0M109.0 308.1h0M115.5 299.7h0M107.0 310.0h0M119.3 307.7h0M66.1 292.8h0M114.6 310.7h0M64.8 294.3h0M74.3 312.9h0M139.4 300.6h0M58.5 319.9h0M63.5 321.9h0M131.5 300.4h0M75.6 316.7h0M80.2 311.1h0M116.3 298.6h0M62.3 292.2h0M88.0 319.8h0M94.1 318.3h0M111.6 309.3h0M135.3 303.7h0M105.1 313.0h0M74.6 296.1h0M119.7 308.1h0M112.1 309.1h0M114.5 307.8h0M129.9 304.5h0M137.8 303.0h0M84.9 294.2h0M63.3 293.5h0M83.5 320.9h0M127.4 306.4h0M135.5 304.2h0M62.8 291.8h0M104.0 296.0h0M83.9 310.5h0M131.8 300.1h0M104.2 295.8h0M120.6 306.1h0M90.4 318.5h0M108.0 310.4h0M56.2 320.6h0M135.9 303.8h0M126.0 297.4h0M94.6 313.8h0M80.3 310.8h0M111.8 310.6h0M107.0 313.5h0M75.0 315.7h0M99.6 299.5h0M97.4 309.9h0M56.2 294.9h0M115.1 295.9h0M104.9 310.4h0M72.6 317.4h0M115.1 307.2h0M84.0 316.0h0M62.4 314.1h0M61.4 313.6h0M117.1 298.2h0M58.1 294.9h0M115.4 309.0h0M95.0 296.8h0M79.2 313.6h0M90.4 296.8h0M77.7 317.3h0M80.5 315.5h0M73.3 295.6h0M63.8 318.8h0M137.6 303.0h0M122.8 307.0h0M104.4 309.1h0M76.7 318.6h0M124.7 306.2h0M80.6 313.7h0M130.7 304.6h0M96.3 309.4h0M126.6 306.0h0M93.4 296.5h0M64.9 293.7h0M97.2 297.7h0M62.0 313.4h0M130.6 305.6h0M50.2 317.5h0M54.5 316.0h0M69.0 319.3h0M107.6 295.8h0M71.4 316.8h0M126.8 304.9h0M77.6 293.2h0M112.1 307.5h0M103.5 310.6h0M129.6 304.6h0M131.0 304.7h0M130.8 300.6h0M99.0 299.1h0M62.3 320.0h0M92.3 295.1h0M85.6 297.2h0M62.1 322.2h0M96.5 295.3h0M58.5 294.0h0M109.0 310.5h0M130.1 305.0h0M119.3 307.8h0M103.4 297.3h0M63.9 322.0h0M79.2 319.1h0M78.4 321.3h0M124.2 307.6h0M129.5 305.3h0M117.1 307.2h0M68.5 292.6h0M88.8 297.1h0M137.1 303.6h0M105.3 309.0h0M72.8 294.4h0M76.3 295.5h0M115.1 296.8h0M114.2 296.6h0M139.0 302.6h0M118.6 306.8h0M137.7 303.1h0M93.3 318.1h0M133.8 304.0h0M99.8 297.4h0M66.4 322.3h0M67.1 292.7h0M138.5 302.9h0M131.6 299.9h0M50.0 293.5h0M53.4 318.3h0M128.0 305.1h0M108.3 295.9h0M113.6 307.2h0M80.1 295.6h0M55.5 294.3h0M100.8 298.6h0M130.4 298.5h0M66.2 292.4h0M98.2 314.2h0M116.5 299.0h0M121.0 298.1h0M80.4 319.1h0M83.4 310.7h0M121.9 299.0h0M75.4 319.3h0M51.3 293.6h0M89.4 294.3h0M98.4 297.8h0M115.7 310.5h0M108.3 295.7h0M63.7 322.6h0M50.6 318.2h0M114.6 308.1h0M62.7 291.8h0M94.7 314.8h0M94.8 317.5h0M119.7 298.8h0M81.6 310.6h0M93.1 318.0h0M128.3 305.6h0" fill="none" stroke="#7a6a68" stroke-width="0.7" stroke-linecap="round" opacity="0.45"/>
<path d="M45.00,299.00 L45.50,297.87 L46.00,296.73 L46.50,295.60 L47.00,295.10 L47.50,294.60 L48.00,294.10 L48.50,293.60 L49.00,293.40 L49.50,293.20 L50.00,293.00 L50.50,293.20 L51.00,293.40 L51.50,293.60 L52.00,293.80 L52.50,294.00 L53.00,294.20 L53.50,294.40 L54.00,294.60 L54.50,294.80 L55.00,295.00 L55.50,295.20 L56.00,295.40 L56.50,295.44 L57.00,295.49 L57.50,295.53 L58.00,295.57 L58.50,295.61 L59.00,295.66 L59.50,295.70 L60.00,295.74 L60.50,295.79 L61.00,295.83 L61.50,295.87 L62.00,295.91 L62.50,295.96 L63.00,296.00 L63.50,296.04 L64.00,296.09 L64.50,296.13 L65.00,296.17 L65.50,296.21 L66.00,296.26 L66.50,296.30 L67.00,296.34 L67.50,296.39 L68.00,296.43 L68.50,296.47 L69.00,296.51 L69.50,296.56 L70.00,296.60 L70.50,296.63 L71.00,296.66 L71.50,296.69 L72.00,296.73 L72.50,296.76 L73.00,296.79 L73.50,296.82 L74.00,296.85 L74.50,296.88 L75.00,296.91 L75.50,296.94 L76.00,296.98 L76.50,297.01 L77.00,297.04 L77.50,297.07 L78.00,297.10 L78.50,297.13 L79.00,297.16 L79.50,297.19 L80.00,297.23 L80.50,297.26 L81.00,297.29 L81.50,297.32 L82.00,297.35 L82.50,297.38 L83.00,297.41 L83.50,297.44 L84.00,297.48 L84.50,297.51 L85.00,297.54 L85.50,297.57 L86.00,297.60 L86.50,297.70 L87.00,297.80 L87.50,297.90 L88.00,298.00 L88.50,298.10 L89.00,298.20 L89.50,298.30 L90.00,298.40 L90.50,298.50 L91.00,298.60 L91.50,298.70 L92.00,298.80 L92.50,298.90 L93.00,299.00 L93.50,299.10 L94.00,299.20 L94.50,299.30 L95.00,299.40 L95.50,299.42 L96.00,299.43 L96.50,299.45 L97.00,299.47 L97.50,299.48 L98.00,299.50 L98.50,299.52 L99.00,299.53 L99.50,299.55 L100.00,299.57 L100.50,299.58 L101.00,299.60 L101.50,299.62 L102.00,299.63 L102.50,299.65 L103.00,299.67 L103.50,299.68 L104.00,299.70 L104.50,299.72 L105.00,299.73 L105.50,299.75 L106.00,299.77 L106.50,299.78 L107.00,299.80 L107.50,299.82 L108.00,299.83 L108.50,299.85 L109.00,299.87 L109.50,299.88 L110.00,299.90 L110.50,299.92 L111.00,299.93 L111.50,299.95 L112.00,299.97 L112.50,299.98 L113.00,300.00 L113.50,300.02 L114.00,300.03 L114.50,300.05 L115.00,300.07 L115.50,300.08 L116.00,300.10 L116.50,300.12 L117.00,300.13 L117.50,300.15 L118.00,300.17 L118.50,300.18 L119.00,300.20 L119.50,300.24 L120.00,300.29 L120.50,300.33 L121.00,300.38 L121.50,300.42 L122.00,300.47 L122.50,300.51 L123.00,300.56 L123.50,300.60 L124.00,300.64 L124.50,300.69 L125.00,300.73 L125.50,300.78 L126.00,300.82 L126.50,300.87 L127.00,300.91 L127.50,300.96 L128.00,301.00 L128.50,301.04 L129.00,301.09 L129.50,301.13 L130.00,301.18 L130.50,301.22 L131.00,301.27 L131.50,301.31 L132.00,301.36 L132.50,301.40 L133.00,301.44 L133.50,301.49 L134.00,301.53 L134.50,301.58 L135.00,301.62 L135.50,301.67 L136.00,301.71 L136.50,301.76 L137.00,301.80 L137.50,301.69 L138.00,301.57 L138.50,301.46 L139.00,301.34 L139.50,301.23 L140.00,301.11 L140.50,301.00 L141.00,300.89 L141.50,300.77 L142.00,300.66 L142.50,300.54 L143.00,300.43 L143.50,300.31 L144.00,300.20 L144.50,300.20 L145.00,300.20 L145.00,300.60 L144.50,300.60 L144.00,300.60 L143.50,300.79 L143.00,300.97 L142.50,301.16 L142.00,301.34 L141.50,301.53 L141.00,301.71 L140.50,301.90 L140.00,302.09 L139.50,302.27 L139.00,302.46 L138.50,302.64 L138.00,302.83 L137.50,303.01 L137.00,303.20 L136.50,303.28 L136.00,303.36 L135.50,303.43 L135.00,303.51 L134.50,303.59 L134.00,303.67 L133.50,303.74 L133.00,303.82 L132.50,303.90 L132.00,303.98 L131.50,304.06 L131.00,304.13 L130.50,304.21 L130.00,304.29 L129.50,304.37 L129.00,304.44 L128.50,304.52 L128.00,304.60 L127.50,304.68 L127.00,304.76 L126.50,304.83 L126.00,304.91 L125.50,304.99 L125.00,305.07 L124.50,305.14 L124.00,305.22 L123.50,305.30 L123.00,305.38 L122.50,305.46 L122.00,305.53 L121.50,305.61 L121.00,305.69 L120.50,305.77 L120.00,305.84 L119.50,305.92 L119.00,306.00 L118.50,306.06 L118.00,306.12 L117.50,306.19 L117.00,306.25 L116.50,306.31 L116.00,306.38 L115.50,306.44 L115.00,306.50 L114.50,306.56 L114.00,306.62 L113.50,306.69 L113.00,306.75 L112.50,306.81 L112.00,306.88 L111.50,306.94 L111.00,307.00 L110.50,307.06 L110.00,307.12 L109.50,307.19 L109.00,307.25 L108.50,307.31 L108.00,307.38 L107.50,307.44 L107.00,307.50 L106.50,307.56 L106.00,307.62 L105.50,307.69 L105.00,307.75 L104.50,307.81 L104.00,307.88 L103.50,307.94 L103.00,308.00 L102.50,308.06 L102.00,308.12 L101.50,308.19 L101.00,308.25 L100.50,308.31 L100.00,308.38 L99.50,308.44 L99.00,308.50 L98.50,308.56 L98.00,308.62 L97.50,308.69 L97.00,308.75 L96.50,308.81 L96.00,308.88 L95.50,308.94 L95.00,309.00 L94.50,309.07 L94.00,309.13 L93.50,309.20 L93.00,309.27 L92.50,309.33 L92.00,309.40 L91.50,309.47 L91.00,309.53 L90.50,309.60 L90.00,309.67 L89.50,309.73 L89.00,309.80 L88.50,309.87 L88.00,309.93 L87.50,310.00 L87.00,310.07 L86.50,310.13 L86.00,310.20 L85.50,310.24 L85.00,310.28 L84.50,310.32 L84.00,310.36 L83.50,310.40 L83.00,310.44 L82.50,310.48 L82.00,310.52 L81.50,310.57 L81.00,310.61 L80.50,310.65 L80.00,310.69 L79.50,310.73 L79.00,310.77 L78.50,310.81 L78.00,310.85 L77.50,310.89 L77.00,310.93 L76.50,310.97 L76.00,311.01 L75.50,311.05 L75.00,311.09 L74.50,311.13 L74.00,311.18 L73.50,311.22 L73.00,311.26 L72.50,311.30 L72.00,311.34 L71.50,311.38 L71.00,311.42 L70.50,311.46 L70.00,311.50 L69.50,311.59 L69.00,311.68 L68.50,311.77 L68.00,311.86 L67.50,311.95 L67.00,312.04 L66.50,312.12 L66.00,312.21 L65.50,312.30 L65.00,312.39 L64.50,312.48 L64.00,312.57 L63.50,312.66 L63.00,312.75 L62.50,312.84 L62.00,312.93 L61.50,313.02 L61.00,313.11 L60.50,313.20 L60.00,313.29 L59.50,313.38 L59.00,313.46 L58.50,313.55 L58.00,313.64 L57.50,313.73 L57.00,313.82 L56.50,313.91 L56.00,314.00 L55.50,314.25 L55.00,314.50 L54.50,314.75 L54.00,315.00 L53.50,315.25 L53.00,315.50 L52.50,315.75 L52.00,316.00 L51.50,316.25 L51.00,316.50 L50.50,316.75 L50.00,317.00 L49.50,316.87 L49.00,316.73 L48.50,316.60 L48.00,316.15 L47.50,315.70 L47.00,315.25 L46.50,314.80 L46.00,313.53 L45.50,312.27 L45.00,311.00 Z" fill="#4e5656" filter="url(#gsoft)"/>
<path d="M46.7 308.9h0M43.4 298.1h0M44.8 318.9h0M46.9 317.8h0M45.7 306.4h0M44.7 313.3h0M46.2 305.5h0M46.3 292.5h0M45.2 299.4h0M44.1 293.3h0M43.5 313.8h0M44.6 308.2h0M42.4 296.7h0M44.3 306.7h0M43.9 301.6h0M46.3 297.3h0M43.0 300.1h0M47.6 294.9h0M45.3 300.8h0M45.9 305.8h0M44.2 306.2h0M48.0 311.6h0M44.7 302.7h0M45.7 316.4h0M45.0 300.7h0M43.8 312.7h0M45.6 309.9h0M46.2 304.9h0M44.4 304.9h0M47.5 302.8h0M46.0 298.3h0M44.5 301.7h0M45.5 303.6h0M47.4 308.1h0M47.0 312.4h0M45.2 304.1h0M43.4 307.7h0M46.9 311.2h0M44.9 312.4h0M45.4 303.9h0M43.9 314.3h0M45.2 309.0h0M46.8 299.0h0M47.0 299.5h0M47.3 300.1h0M46.4 311.2h0M45.4 306.3h0M41.6 310.3h0M46.6 299.4h0M43.7 307.7h0M44.8 314.0h0M46.5 314.7h0M47.2 311.3h0M44.1 311.9h0M45.2 291.6h0M47.8 309.9h0M47.9 303.1h0M47.1 311.7h0M47.1 300.6h0M45.2 306.2h0M45.0 303.8h0M47.1 297.4h0M46.4 301.4h0M47.9 294.3h0M44.8 305.9h0M42.4 313.4h0M44.1 306.1h0M46.1 292.8h0M43.8 307.8h0M41.8 315.9h0M44.3 298.5h0M44.4 312.6h0M45.6 310.2h0M45.1 301.1h0M46.8 308.4h0M40.5 306.9h0M44.3 301.2h0M45.4 303.1h0M46.1 296.4h0M47.0 300.4h0M45.2 311.4h0M43.5 311.3h0M44.8 311.0h0M46.7 312.6h0M44.8 310.9h0M47.7 293.2h0M47.3 303.6h0M41.4 308.4h0M45.3 306.9h0M44.6 307.1h0M43.2 311.1h0M43.3 312.4h0M44.4 313.7h0M44.9 300.7h0M44.9 307.1h0M45.2 305.1h0M46.3 311.3h0M42.4 298.7h0M42.0 309.7h0M46.2 300.6h0M42.5 311.1h0M46.4 297.3h0M46.2 305.7h0M47.2 306.3h0M42.9 308.6h0M44.4 302.8h0M44.9 309.4h0M42.6 304.5h0M45.7 299.7h0M47.2 300.4h0M44.9 301.1h0M46.5 302.4h0M47.1 312.4h0M47.2 304.2h0M47.4 318.5h0M47.2 311.1h0M43.5 314.9h0M46.6 304.0h0M43.8 313.1h0M46.2 308.3h0M42.4 308.4h0M45.7 305.5h0M44.7 312.4h0M44.6 310.8h0M43.3 300.2h0M44.6 298.4h0M44.2 310.7h0M46.6 302.8h0M46.2 302.4h0M43.9 306.3h0M42.1 299.6h0M48.0 304.0h0M43.4 301.2h0M47.6 319.4h0M44.6 305.6h0M45.6 303.4h0M44.7 296.9h0M44.4 302.4h0M46.0 311.8h0M46.8 305.5h0M40.6 305.8h0M46.0 300.3h0M46.3 296.9h0M46.8 299.2h0M43.6 299.0h0M46.2 305.1h0M44.0 308.5h0M43.3 294.0h0M47.0 300.6h0M42.1 321.0h0M43.7 307.1h0M44.3 306.0h0M45.8 309.8h0M44.1 305.0h0M45.3 300.0h0M43.7 301.3h0M46.2 303.4h0M42.3 299.2h0M45.3 310.9h0M45.4 302.8h0M41.5 307.2h0M45.0 297.9h0M42.4 297.4h0M43.5 303.0h0M45.3 299.3h0M44.3 302.7h0M45.9 301.8h0M44.4 315.9h0M46.1 309.3h0M43.3 305.6h0M46.6 304.4h0M43.9 299.3h0M45.7 305.5h0M47.8 310.9h0M44.1 308.5h0M44.9 306.7h0M45.6 303.7h0M43.5 307.7h0M45.3 306.5h0M45.8 303.9h0M45.1 296.2h0M43.7 310.9h0M43.7 303.8h0M44.0 300.9h0M44.9 315.6h0M44.0 302.4h0M45.1 302.4h0M44.4 302.2h0M43.4 305.6h0M45.2 307.8h0M45.8 319.4h0M46.4 306.8h0M45.8 311.0h0M42.6 321.6h0M46.5 306.3h0M43.6 305.3h0M46.4 324.3h0M45.6 303.8h0M44.7 303.7h0M45.3 302.6h0M45.9 294.3h0M45.9 294.8h0M45.7 314.2h0M47.7 296.7h0M46.3 300.5h0M45.5 302.4h0M47.6 294.2h0M45.0 310.7h0M46.1 303.5h0M42.9 302.5h0M46.4 307.4h0M44.9 306.2h0M44.4 296.2h0M44.5 314.5h0M45.1 302.4h0M45.0 303.0h0M46.0 307.0h0M44.9 310.3h0M46.4 301.6h0M42.6 305.1h0M46.6 300.7h0M47.6 308.8h0M48.1 311.4h0M45.0 299.1h0M43.2 303.1h0M44.8 307.9h0M45.4 297.3h0M47.3 305.7h0M46.9 306.4h0M46.2 304.1h0M43.1 307.0h0M47.7 306.8h0M45.8 306.6h0M44.3 318.2h0M43.0 303.5h0M45.1 300.4h0M43.1 309.3h0M44.8 299.1h0M46.0 306.9h0M47.6 293.2h0M46.2 296.5h0M47.5 306.8h0M45.7 312.6h0M44.2 294.7h0M45.8 307.1h0M47.6 305.9h0M44.1 300.5h0M47.3 309.0h0M45.0 311.5h0M46.2 300.7h0M47.4 292.3h0M46.0 303.0h0M44.7 306.6h0M44.6 302.0h0M46.1 315.2h0M39.7 301.6h0M45.4 301.7h0M47.6 303.5h0M45.5 309.3h0M45.9 309.7h0M44.2 307.9h0M43.0 308.1h0M47.9 313.3h0M47.6 300.1h0M44.6 309.0h0M46.0 297.3h0M45.3 301.9h0M46.9 302.7h0M44.6 321.3h0M46.9 301.0h0M45.6 296.2h0M47.1 303.4h0M42.0 302.3h0M46.3 316.5h0M47.9 308.2h0M46.2 308.3h0M44.3 305.0h0M43.0 298.7h0M47.3 305.5h0M45.0 304.3h0M45.4 306.7h0M41.5 307.2h0M47.7 312.4h0M44.0 298.4h0M46.6 302.0h0M47.4 305.7h0M47.2 298.2h0M45.1 307.3h0M45.3 310.1h0M47.4 302.2h0M47.8 304.2h0M46.5 313.8h0M44.5 311.6h0M45.5 292.4h0M44.0 308.6h0M43.8 313.6h0M41.0 301.6h0M44.0 312.5h0M44.5 302.6h0M44.5 304.1h0M46.5 301.7h0M46.1 296.4h0M46.1 308.7h0M46.9 305.0h0M47.4 286.4h0M41.9 298.2h0M43.1 287.8h0M45.0 303.7h0M47.3 310.6h0M46.4 311.1h0M45.8 302.9h0M45.3 291.6h0M44.7 300.4h0M43.9 307.1h0M42.9 315.8h0M46.8 306.1h0M46.3 297.7h0M45.1 316.2h0M47.0 298.4h0M43.1 306.6h0M42.0 295.0h0M46.1 305.5h0M45.6 302.0h0M46.4 306.7h0M48.0 304.4h0M46.3 298.7h0M45.1 310.3h0M45.9 289.9h0M45.3 301.8h0M44.7 313.5h0M47.3 304.8h0M45.7 305.9h0M46.4 312.3h0M43.9 303.4h0M46.2 307.6h0M44.1 299.7h0M43.7 293.1h0M45.6 304.8h0M42.8 317.1h0M45.9 311.7h0M43.6 307.5h0M44.8 302.1h0M42.8 308.9h0M45.6 295.6h0M47.5 293.8h0M46.6 316.7h0M47.5 304.8h0M44.2 303.8h0M44.1 308.9h0M45.5 307.3h0M59.1 295.3h0M49.7 299.1h0M50.2 285.7h0M52.5 290.5h0M58.8 288.6h0M51.7 290.7h0M55.5 321.0h0M52.6 288.0h0M58.2 319.1h0M52.2 291.8h0M46.7 324.8h0M56.9 290.1h0M50.2 326.6h0M59.9 321.7h0M59.3 289.6h0M57.2 287.3h0M50.8 286.9h0M53.4 324.7h0M55.8 320.6h0M49.6 321.9h0M51.5 313.9h0M55.4 317.0h0M55.6 323.6h0M50.7 294.5h0M59.5 321.7h0M53.3 310.4h0M59.1 319.4h0M50.7 283.3h0M48.6 323.5h0M55.1 319.7h0M48.4 299.3h0M46.7 282.5h0M53.8 286.6h0M56.8 289.3h0M53.7 322.2h0M51.6 284.2h0M53.7 286.5h0M47.7 296.7h0M55.6 291.3h0M59.3 285.3h0M59.9 315.1h0M51.4 295.0h0M52.3 291.1h0M56.4 289.7h0M59.4 311.7h0M50.4 318.5h0M58.8 285.6h0M46.2 290.2h0M55.7 320.3h0M55.3 292.8h0M53.5 321.3h0M49.1 286.4h0M59.7 323.1h0M49.3 315.7h0M48.4 322.3h0M58.5 320.6h0M50.0 294.1h0M57.5 287.1h0M58.2 288.8h0M57.0 316.7h0M56.5 318.1h0M55.1 293.7h0M46.9 288.9h0M58.7 285.6h0M55.4 317.5h0M47.8 324.7h0M46.6 292.6h0M47.3 319.7h0M48.3 293.1h0M58.3 319.5h0M51.8 290.7h0M49.9 283.3h0M53.9 298.8h0M52.7 314.8h0M56.0 318.1h0M57.4 290.6h0M57.7 317.5h0M50.6 292.0h0M53.3 313.1h0M55.6 314.9h0M50.9 291.5h0M58.0 291.7h0M55.0 319.4h0M48.3 285.5h0M46.9 320.4h0M52.8 316.5h0M57.0 320.6h0M49.9 283.8h0M53.0 282.3h0M48.5 288.2h0M57.4 318.0h0M56.8 294.7h0M51.7 322.0h0M51.9 315.9h0M59.8 325.3h0M52.1 289.6h0M46.8 320.2h0M53.0 319.6h0M52.8 284.9h0M50.5 317.6h0M49.4 319.0h0M58.4 324.5h0M59.4 316.7h0M51.9 321.2h0M49.5 319.3h0M47.6 316.1h0M58.1 320.8h0M56.1 319.2h0M54.1 316.6h0M55.2 291.6h0M57.5 290.0h0M58.7 321.2h0M55.3 286.4h0M49.4 291.9h0M51.1 310.4h0M48.0 286.3h0M47.3 319.2h0M51.1 322.1h0M48.5 296.3h0M54.3 320.5h0M47.2 287.7h0M54.4 295.0h0M49.2 294.3h0M53.2 314.0h0M48.4 281.7h0M55.0 315.0h0M50.5 314.2h0M47.0 285.6h0M59.3 294.4h0M46.6 314.5h0M49.7 311.8h0M59.5 290.5h0M49.4 318.8h0M55.7 316.1h0M56.1 287.8h0M49.8 319.3h0M46.6 322.2h0M58.3 291.4h0M57.1 313.3h0M48.7 290.6h0M47.5 320.6h0M48.8 290.8h0M49.0 288.8h0M54.3 285.7h0M51.2 313.0h0M46.5 293.6h0M59.2 317.1h0M54.0 291.0h0M54.7 285.7h0M50.9 316.0h0M57.7 292.4h0M54.2 288.9h0M57.8 318.8h0M50.3 286.4h0M48.7 317.7h0M51.2 290.1h0M59.7 293.2h0M48.9 318.5h0M57.7 317.9h0M50.4 326.6h0M46.9 319.9h0M60.0 317.7h0M58.3 324.7h0M47.8 316.8h0M49.8 320.5h0M52.0 292.2h0M56.8 319.6h0M46.6 317.0h0M60.0 291.5h0M49.4 284.0h0M50.3 294.0h0M46.3 315.7h0M54.2 316.5h0M53.2 285.9h0M56.8 286.4h0M48.6 322.1h0M50.1 290.0h0M57.8 318.8h0M53.0 318.1h0M48.9 290.6h0M50.5 284.6h0M57.0 289.3h0M48.2 286.8h0M56.2 287.8h0M50.5 290.0h0M50.0 324.6h0M50.3 317.6h0M48.2 293.5h0M52.8 287.1h0M49.3 318.3h0M54.2 295.3h0M55.4 321.3h0M50.7 323.7h0M55.0 319.4h0M46.4 319.5h0M53.3 320.5h0M47.0 288.4h0M53.3 318.9h0M50.5 319.5h0M46.1 320.5h0M57.7 314.2h0M50.7 289.3h0M54.3 293.9h0M54.6 291.1h0M48.7 313.2h0M49.2 319.1h0M54.2 316.4h0M47.1 288.7h0M50.7 286.0h0M58.6 317.0h0M51.1 292.6h0M47.6 292.9h0M55.4 323.0h0M59.8 326.2h0M57.7 284.4h0M47.5 319.8h0M51.8 294.7h0M59.4 289.0h0M48.3 324.5h0M59.5 292.0h0M50.6 319.0h0M57.3 320.7h0M52.5 290.3h0M56.5 288.3h0M56.5 292.8h0M58.0 290.7h0M50.2 315.7h0M47.2 287.9h0M59.5 320.4h0M55.3 286.9h0M48.8 289.5h0M50.2 323.5h0M56.8 317.9h0M55.7 291.0h0M53.7 283.4h0M48.0 279.1h0M59.2 318.1h0M49.3 286.0h0M47.8 291.9h0M46.3 286.3h0M47.9 321.0h0M57.3 321.8h0M47.0 314.9h0M51.0 285.7h0M56.6 319.9h0M48.9 313.5h0M47.3 325.7h0M52.4 322.1h0M49.6 288.2h0M50.9 284.7h0M47.3 315.2h0M48.8 291.2h0M47.8 291.4h0M55.6 320.5h0M52.9 287.7h0M58.1 323.9h0M59.5 291.7h0M46.2 288.7h0M47.9 294.3h0M55.8 286.0h0" fill="none" stroke="#6a6e6e" stroke-width="0.9" stroke-linecap="round" opacity="0.7"/>
<path d="M42.4 320.8h0M45.6 322.0h0M47.1 322.3h0M48.4 323.0h0M50.3 323.4h0M51.7 324.2h0M52.8 325.2h0M54.6 325.8h0M55.9 326.2h0M57.7 326.9h0M59.1 327.5h0M60.6 328.1h0M62.1 328.6h0M44.9 324.5h0M46.4 324.9h0M47.8 325.6h0M49.2 326.7h0M51.1 326.8h0M52.6 327.8h0M53.7 328.2h0M55.1 329.1h0M56.5 329.5h0M59.5 330.8h0M61.1 331.7h0M44.3 327.5h0M45.8 327.9h0M50.2 329.9h0M53.1 331.0h0M57.6 332.8h0M59.0 333.4h0M60.8 334.2h0M44.9 331.0h0M46.3 331.3h0M47.9 332.1h0M50.9 333.1h0M52.6 333.7h0M53.8 334.5h0M55.6 335.2h0M56.6 336.0h0M58.5 336.5h0M51.5 336.9h0M56.1 338.7h0" fill="none" stroke="#b85048" stroke-width="0.75" stroke-linecap="round" opacity="0.55"/>
<path d="M62.0 323.1h0M92.6 320.6h0M91.0 322.1h0M71.2 322.3h0M140.1 297.3h0M70.5 288.7h0M71.6 291.2h0M51.1 323.1h0M111.3 290.6h0M81.3 321.0h0M139.8 296.9h0M106.0 317.0h0M98.0 318.7h0M89.2 293.5h0M117.2 311.6h0M124.5 309.3h0M96.5 291.5h0M106.5 293.8h0M97.7 317.0h0M71.5 326.6h0M105.0 295.7h0M49.6 321.6h0M135.0 304.8h0M90.3 291.5h0M104.3 292.1h0M82.6 320.7h0M108.4 293.3h0M105.7 314.0h0M126.3 306.7h0M57.1 285.3h0M73.2 289.6h0M64.5 326.0h0M75.5 325.2h0M67.2 291.9h0M98.5 290.2h0M64.5 327.1h0M101.8 290.6h0M70.6 324.2h0M104.9 294.4h0M142.9 301.9h0M132.3 294.4h0M73.5 291.1h0M52.7 326.0h0M133.2 304.9h0M98.4 294.1h0M91.0 291.9h0M113.6 294.6h0M136.3 297.0h0M80.8 322.3h0M114.4 312.3h0M82.4 321.5h0M71.8 327.4h0M65.5 324.3h0M130.6 293.9h0M77.2 328.1h0M62.1 329.5h0M125.4 308.3h0M85.7 324.5h0M103.8 316.5h0M129.3 296.9h0M89.8 293.3h0M59.0 325.6h0M143.1 301.4h0M58.7 326.5h0M50.0 319.1h0M79.4 289.6h0M143.1 301.7h0M144.1 301.0h0M113.2 293.6h0M92.4 319.2h0M140.3 297.7h0M131.2 307.3h0M81.4 325.5h0M51.0 291.7h0M77.2 329.4h0M97.6 318.1h0M141.1 298.5h0M80.0 284.2h0M138.2 297.9h0M127.0 306.8h0M121.4 310.0h0M118.3 312.1h0M55.2 323.9h0M131.6 294.9h0M81.9 288.7h0M104.3 294.5h0M62.4 291.5h0M87.9 326.2h0M49.7 323.3h0M115.6 310.9h0M97.0 294.4h0M137.0 305.7h0M111.7 294.0h0M64.5 324.3h0M79.2 323.0h0M120.4 309.9h0M136.0 305.3h0M70.1 323.7h0M54.1 322.0h0M65.0 327.3h0M144.2 300.8h0M142.1 298.6h0M130.7 305.4h0M143.2 298.3h0M91.0 294.1h0M142.1 298.4h0M88.6 293.6h0M51.0 321.4h0M130.0 296.2h0M105.8 292.7h0M125.7 309.7h0M132.0 305.3h0M86.2 288.7h0M121.5 310.2h0M122.8 309.5h0M79.2 324.8h0M100.3 292.0h0M87.7 320.7h0M96.8 319.8h0M75.9 323.1h0M129.5 307.6h0M88.7 319.0h0M78.6 289.8h0M88.3 322.2h0M120.2 308.4h0M111.1 314.9h0M88.5 324.2h0M131.1 308.3h0M107.7 295.8h0M101.8 291.6h0M96.0 291.9h0M90.0 293.3h0M50.9 324.7h0M115.8 312.1h0M69.1 322.7h0M99.8 293.9h0M120.5 295.1h0M75.2 327.3h0M103.4 293.6h0M70.6 329.9h0M130.8 294.8h0M90.9 321.2h0M67.4 328.3h0M137.6 307.3h0M74.4 323.2h0M84.0 322.4h0M118.7 309.8h0M96.8 293.0h0M54.4 324.4h0M117.3 310.1h0M108.5 295.3h0M58.2 290.2h0M65.4 290.6h0M69.6 327.2h0M106.6 314.1h0M132.2 297.0h0M105.3 318.4h0M63.8 328.5h0M63.1 327.1h0M93.9 318.8h0M53.2 292.8h0M121.2 308.2h0M113.3 292.1h0M72.6 286.7h0M106.3 293.0h0M54.9 289.2h0M134.4 296.4h0M118.9 312.8h0M143.7 297.5h0M94.5 292.7h0M52.9 322.6h0M117.6 310.9h0M99.9 293.8h0M86.3 321.7h0M61.6 325.9h0M90.2 288.9h0M81.0 291.6h0M59.2 332.7h0M144.8 301.5h0M136.0 306.6h0M64.2 290.2h0M104.8 295.7h0M112.2 294.9h0M121.6 310.3h0M63.4 325.2h0M144.0 299.0h0M139.0 303.6h0M126.7 292.9h0M104.8 315.0h0M84.1 325.3h0M88.0 289.7h0M63.4 323.4h0M137.0 294.5h0M58.6 326.6h0M59.4 289.8h0M131.5 305.9h0M132.6 295.3h0M76.5 326.8h0M133.0 307.3h0M140.6 302.8h0M128.0 306.0h0M123.7 309.2h0M88.2 321.7h0M131.6 294.4h0M78.0 323.7h0M135.1 303.3h0M101.7 318.9h0M128.4 307.1h0M110.1 294.9h0M102.3 319.1h0M110.8 312.8h0M88.0 323.2h0M114.0 315.5h0M94.0 321.3h0M121.7 294.7h0M83.4 289.6h0M65.7 288.8h0M145.8 298.3h0M120.7 312.3h0M118.4 295.6h0M118.5 292.1h0M141.4 296.2h0M129.9 292.6h0M100.8 290.2h0M143.1 298.0h0M60.5 290.4h0M95.5 321.0h0M57.5 286.5h0M98.3 321.9h0M86.5 324.8h0M99.5 288.3h0M96.8 323.4h0M69.8 326.2h0M144.9 301.2h0M143.0 298.1h0M130.7 296.3h0M117.5 295.4h0M107.1 314.9h0M108.1 294.2h0M74.9 291.0h0M94.6 293.8h0M116.3 311.8h0M80.6 324.3h0M79.6 288.2h0M61.4 292.0h0M117.2 310.5h0M70.9 285.8h0M108.7 293.1h0M115.0 312.4h0M51.2 289.2h0M123.7 308.1h0M59.0 290.8h0M139.6 302.9h0M99.0 291.7h0M83.2 324.6h0M133.4 295.0h0M109.2 316.0h0M136.1 304.6h0M54.2 322.8h0M102.0 293.1h0M100.4 293.7h0M112.5 312.2h0M130.9 305.9h0M115.2 296.3h0M62.8 323.9h0M81.5 328.0h0M131.4 296.5h0M75.2 322.3h0M107.6 290.6h0M85.8 321.7h0M93.6 320.3h0M88.6 322.3h0M94.7 293.7h0M59.8 291.6h0M75.3 326.0h0M128.5 296.0h0M72.3 323.6h0M137.9 297.7h0M82.6 327.3h0M91.2 293.6h0M128.2 296.2h0M54.4 326.4h0M65.7 326.1h0M143.6 299.9h0M86.2 323.2h0M81.6 325.5h0M125.1 295.0h0M119.2 295.8h0M101.6 321.2h0M85.5 290.2h0M113.7 310.7h0M129.1 307.9h0M87.5 320.4h0M86.9 287.7h0M144.3 301.8h0M124.2 308.5h0M66.0 326.5h0M139.8 302.2h0M116.0 311.6h0M60.6 323.7h0M103.3 323.1h0M50.2 319.4h0M76.0 285.2h0M79.9 327.1h0M97.7 293.2h0M68.5 326.6h0M63.7 326.5h0M119.9 292.8h0M73.7 291.2h0M61.6 287.5h0M126.8 306.8h0M105.0 317.3h0M68.0 329.7h0M121.4 295.2h0M106.3 294.0h0M86.0 293.5h0M144.7 299.5h0M82.7 323.5h0M129.3 296.1h0M106.5 313.9h0M73.7 291.7h0M141.8 303.5h0M131.8 305.1h0M60.8 325.2h0M128.5 296.5h0M73.7 291.0h0M68.5 326.0h0M75.0 324.8h0M138.4 305.4h0M89.9 287.4h0M129.6 294.4h0M69.8 324.6h0M138.7 305.8h0M90.0 292.4h0M106.7 292.0h0M83.9 320.0h0M124.4 295.5h0M66.1 290.6h0M76.7 283.5h0M87.4 319.4h0M130.7 309.0h0M139.7 304.1h0M95.3 292.0h0M106.2 315.6h0M132.9 304.2h0M125.7 309.9h0M104.7 293.2h0M102.4 316.7h0M96.0 319.6h0M127.6 294.7h0M80.5 291.0h0M79.8 322.0h0M145.6 301.3h0M110.2 313.3h0M143.0 303.9h0M65.5 325.8h0M57.1 291.4h0M95.6 320.3h0M133.7 305.1h0M138.8 304.0h0M91.9 293.9h0M121.7 309.6h0M106.1 315.2h0M68.2 288.9h0M105.9 294.4h0M142.4 298.8h0M119.2 296.9h0M49.9 318.1h0M128.3 295.4h0M96.6 294.2h0M112.4 294.1h0M139.5 296.0h0M51.2 290.8h0M90.9 322.6h0M127.0 307.9h0M97.6 292.1h0M104.8 316.8h0M114.5 311.6h0M127.2 306.5h0M71.5 289.8h0M138.8 304.1h0M111.3 294.6h0M49.8 318.1h0M81.8 323.4h0M133.4 297.4h0M111.6 295.6h0M142.1 301.6h0M66.7 332.8h0M104.7 294.6h0M93.8 322.2h0M68.3 326.9h0M72.6 289.0h0M63.7 324.1h0M117.3 291.8h0M114.5 294.7h0M98.8 292.6h0M105.6 292.6h0M79.1 292.2h0M97.6 316.4h0M74.7 286.7h0M58.9 324.2h0M143.9 298.6h0M55.0 323.7h0M101.2 293.4h0M77.7 322.2h0M135.0 296.3h0M92.9 293.4h0M111.1 312.8h0M66.1 327.9h0M63.2 327.5h0M53.2 290.3h0M113.5 294.1h0M121.4 292.5h0M76.8 290.9h0M73.1 292.1h0M93.1 320.3h0M108.7 315.6h0M129.5 306.5h0M107.7 292.3h0M100.6 317.6h0M122.2 294.6h0M94.7 293.2h0M65.3 327.8h0M93.4 322.6h0M56.7 323.8h0M132.0 294.6h0M102.3 319.8h0M55.7 289.6h0M119.4 293.1h0M133.4 308.0h0M109.8 312.6h0M142.6 298.0h0M131.2 295.0h0M140.4 303.9h0M58.4 289.9h0M79.2 322.0h0M101.3 318.1h0M105.3 294.7h0M83.5 291.9h0M62.0 290.4h0M84.2 291.1h0M133.1 295.7h0M68.0 286.6h0M144.6 298.1h0M95.6 292.2h0M62.1 290.6h0M120.9 311.0h0M104.6 295.1h0M132.3 296.3h0M129.9 295.3h0M96.3 319.6h0M90.8 323.8h0M83.6 324.4h0M114.5 294.6h0M87.5 326.0h0M92.6 320.5h0M72.6 323.5h0M98.2 321.4h0M138.0 305.9h0M102.6 316.2h0M65.0 328.3h0M91.5 320.3h0M78.4 292.2h0M91.9 321.0h0M104.0 317.1h0M71.7 327.4h0M112.5 320.3h0M74.4 323.5h0M66.5 325.4h0M90.5 292.5h0M65.5 327.5h0M76.4 290.7h0M144.2 298.4h0M109.0 293.8h0M91.9 324.2h0M86.6 291.5h0M92.5 319.9h0M92.6 294.6h0M124.3 296.2h0M103.0 316.9h0M139.0 297.8h0M58.9 289.5h0M94.1 320.4h0M135.1 306.1h0M63.4 286.8h0M127.7 296.4h0M134.1 296.3h0M85.3 292.5h0M120.9 295.4h0M65.9 290.5h0M93.5 320.5h0M141.3 301.8h0M119.2 294.4h0M87.2 322.3h0M72.4 290.8h0M136.8 304.6h0M140.4 297.4h0M88.7 322.3h0M77.0 289.1h0M66.0 289.5h0M142.1 302.5h0M55.4 330.2h0M117.9 292.0h0M88.6 291.8h0M120.1 308.9h0M101.6 316.9h0M143.4 300.3h0M64.6 325.8h0M105.7 294.4h0M117.1 294.1h0M83.8 293.0h0M138.5 296.2h0M103.8 295.0h0M82.8 292.0h0M100.3 315.8h0M49.5 320.4h0M128.5 296.5h0M59.7 286.0h0M145.4 302.2h0M85.0 290.3h0M88.9 291.3h0M72.1 291.9h0M93.3 318.9h0M128.4 296.6h0M125.2 295.1h0M136.9 305.6h0M99.7 320.0h0M111.0 291.6h0M94.8 290.9h0M90.8 292.2h0M58.4 327.0h0M101.9 290.3h0M99.8 293.9h0M106.4 317.0h0M59.8 326.2h0M71.7 290.4h0M104.6 315.0h0M75.8 322.8h0M75.1 326.4h0M100.8 288.3h0M117.5 295.1h0M112.9 312.0h0M89.1 322.2h0M78.7 290.3h0M143.4 300.9h0M125.6 308.9h0M59.4 330.7h0M119.8 308.9h0M61.1 329.2h0M55.3 290.6h0M142.3 301.8h0M107.7 313.6h0M139.0 296.8h0M114.9 293.5h0M60.3 289.6h0M64.7 291.7h0M57.7 288.7h0M105.0 295.2h0M74.7 327.5h0M95.0 294.6h0M67.0 327.8h0M90.7 320.3h0M83.4 327.0h0M140.4 298.9h0M80.2 293.6h0M99.5 291.2h0M136.2 304.9h0M117.0 309.2h0M126.4 306.8h0M93.3 319.7h0M132.1 307.4h0M99.1 291.7h0M104.8 293.2h0M135.7 295.7h0M89.9 325.3h0M61.3 286.0h0M110.9 294.9h0M129.5 295.1h0M63.8 324.1h0M51.4 328.2h0M123.7 297.2h0M88.4 323.0h0M105.5 294.7h0M130.6 291.6h0M126.9 295.1h0M57.1 326.0h0M53.1 292.2h0M109.2 314.3h0M65.6 324.9h0M144.9 300.8h0M79.1 323.3h0M125.1 294.8h0M64.6 291.5h0M137.7 304.0h0M79.7 322.1h0M125.6 308.0h0M70.3 329.8h0M57.1 291.5h0M118.3 315.3h0M101.4 294.2h0M69.8 325.9h0M76.9 290.6h0M124.8 308.3h0M78.5 293.2h0M67.7 288.4h0M113.8 295.0h0M130.2 307.5h0M62.3 323.7h0M101.3 292.5h0M101.7 315.7h0M100.7 293.5h0M136.5 295.0h0M54.0 287.2h0M106.6 316.5h0M55.3 325.2h0M75.3 289.7h0M117.5 310.0h0M67.5 323.4h0M64.8 291.5h0M135.2 297.9h0M130.4 294.8h0M128.4 306.9h0M139.7 305.0h0M81.8 287.9h0M84.7 326.1h0M140.4 297.8h0M103.9 294.7h0M107.2 315.2h0M89.7 323.6h0M109.7 313.5h0M93.1 322.5h0M106.2 316.0h0M61.6 290.2h0M96.5 291.5h0M73.7 291.3h0M113.3 296.2h0M65.5 288.0h0M127.4 294.7h0M129.9 310.9h0M101.1 318.1h0M50.7 319.2h0M130.9 311.5h0M98.7 292.7h0M65.9 292.0h0M109.1 295.5h0M114.3 312.5h0M130.3 306.0h0M75.4 290.1h0M56.6 322.8h0M130.0 306.9h0M97.9 290.0h0M82.7 320.5h0M102.5 293.8h0M117.3 293.3h0M112.8 295.8h0M126.7 295.3h0M128.6 295.4h0M58.2 325.7h0M125.2 295.1h0M69.2 325.1h0M136.2 306.1h0M128.3 296.0h0M90.5 320.0h0M63.6 289.1h0M142.8 296.0h0M143.2 297.4h0M130.6 295.4h0M108.8 318.7h0M124.0 295.9h0M96.4 319.7h0M56.3 288.9h0M90.3 320.3h0M136.3 296.0h0M102.9 291.8h0M118.9 295.5h0M138.3 297.4h0M59.2 291.8h0M51.6 322.6h0M77.2 326.5h0M91.6 323.6h0M79.6 322.1h0M54.0 327.5h0M115.6 313.4h0M145.5 299.4h0M124.2 307.8h0M52.9 323.7h0M99.1 317.3h0M119.1 309.6h0M73.9 322.3h0M89.0 290.5h0M87.1 325.6h0M97.8 320.1h0M141.6 297.4h0M120.7 294.6h0M75.1 291.9h0M114.2 312.0h0M140.8 297.8h0M128.0 295.6h0M112.8 291.6h0M130.7 306.5h0M108.6 314.3h0M133.0 295.9h0M87.6 321.5h0M132.0 307.3h0M58.6 288.8h0M139.5 302.4h0M93.5 292.7h0M124.5 307.1h0M140.1 298.1h0M114.2 294.8h0M122.7 295.1h0M108.6 295.5h0M83.8 292.0h0M59.9 288.7h0M68.3 290.6h0M133.5 305.3h0M62.6 329.2h0M70.3 288.3h0M113.7 314.0h0M75.4 328.0h0M121.5 308.6h0M136.5 305.5h0M50.6 320.4h0M137.1 295.5h0M115.8 296.3h0M139.5 297.0h0M126.1 295.1h0M122.1 294.7h0M56.3 324.3h0M82.6 290.7h0M106.7 315.5h0M100.9 320.3h0M109.3 294.4h0M95.0 321.5h0M88.8 325.3h0M69.9 288.8h0M73.4 323.4h0M80.2 291.1h0M138.1 304.8h0M126.5 296.2h0M86.6 325.8h0M65.3 326.4h0M105.5 315.9h0M89.3 290.9h0M117.0 294.4h0M91.2 319.1h0M65.3 323.0h0M69.3 330.2h0M65.0 285.6h0M113.0 292.2h0M137.2 304.6h0M68.7 328.1h0M126.2 294.5h0M140.9 304.4h0M56.0 323.4h0M76.3 290.0h0M109.0 314.0h0M54.2 289.4h0M53.1 292.8h0M58.4 291.2h0M124.7 308.7h0M70.4 288.2h0M142.7 304.9h0M89.2 291.1h0M92.8 321.9h0M106.8 317.3h0M77.4 291.3h0M84.1 320.8h0M70.2 324.3h0M65.4 291.3h0M111.6 313.2h0M85.4 321.3h0M118.8 310.8h0M132.2 309.0h0M76.2 323.9h0M62.7 291.4h0M124.2 296.0h0M49.4 317.4h0M125.1 309.4h0M108.0 293.6h0M91.0 293.6h0M117.5 310.2h0M117.4 295.9h0M59.9 291.0h0M115.6 294.4h0M127.5 307.8h0M140.4 302.6h0M123.0 295.3h0M103.0 293.3h0M79.2 328.4h0M118.6 310.5h0M67.8 329.8h0M70.0 290.2h0M97.4 293.7h0M72.7 286.1h0M142.7 303.5h0M104.7 292.1h0M104.0 293.9h0M104.8 318.2h0M134.8 305.4h0M92.0 321.6h0M54.1 324.3h0M132.7 296.0h0M64.2 288.6h0M76.4 291.2h0M57.5 289.6h0M130.2 296.3h0M79.0 291.6h0M50.2 319.7h0M98.0 318.2h0M139.5 296.5h0M90.4 319.1h0M91.3 319.2h0M142.6 301.7h0M130.3 297.1h0M66.3 290.1h0M97.9 317.4h0M130.3 296.3h0M88.7 321.9h0M143.8 299.5h0M139.1 302.9h0M71.8 328.1h0M61.0 329.3h0M57.6 323.6h0M101.5 293.5h0M118.3 295.0h0M139.4 297.0h0M130.6 296.8h0M129.9 308.3h0M78.7 290.2h0M139.9 298.5h0M53.9 290.0h0M142.7 299.2h0M142.5 303.7h0M137.3 295.6h0M134.7 297.1h0M78.6 292.8h0M74.6 288.0h0M124.8 307.7h0M135.1 297.8h0M144.4 304.2h0M61.9 289.8h0M142.1 297.6h0M61.3 286.0h0M75.5 288.1h0M93.3 322.8h0M79.0 290.2h0M77.4 292.3h0M97.4 326.0h0M125.3 294.3h0M127.1 307.5h0M108.9 294.6h0M57.8 325.2h0M126.9 308.9h0M126.1 307.9h0M83.6 326.2h0M58.9 326.1h0M145.9 296.1h0M113.6 294.0h0M99.1 319.1h0M135.6 296.7h0M80.9 289.9h0M113.8 312.3h0M64.7 329.4h0M113.1 291.8h0M103.1 319.0h0M94.4 287.3h0M121.2 308.6h0M61.6 327.8h0M119.2 309.2h0M67.0 324.8h0M100.1 318.6h0M65.0 292.1h0M112.6 315.2h0M51.4 319.0h0M58.1 326.5h0M106.6 291.3h0M110.8 294.1h0M141.7 302.5h0M60.6 326.2h0M118.3 295.1h0M137.6 304.9h0M69.8 289.8h0M118.2 294.4h0M119.0 309.0h0M145.4 300.8h0M87.3 319.5h0M140.0 296.6h0M119.1 311.9h0M89.8 322.0h0M143.8 302.6h0M55.6 325.5h0M105.5 290.0h0M138.7 297.3h0M117.6 294.8h0M84.2 290.8h0M68.7 288.1h0M109.5 293.6h0M55.4 327.4h0M99.3 317.4h0M98.4 316.5h0M128.9 295.1h0M90.6 292.7h0M85.8 321.5h0M107.6 295.6h0M76.3 323.6h0M102.8 315.3h0M99.3 318.4h0M54.6 326.2h0M92.8 286.9h0M69.6 323.6h0M81.8 327.8h0M52.5 322.3h0M65.2 290.7h0M50.7 321.6h0M128.2 296.3h0M132.3 294.8h0M86.2 290.4h0M105.8 318.0h0M110.2 295.1h0M99.1 323.0h0M138.1 303.6h0M138.8 296.4h0M113.0 314.5h0M79.8 321.6h0M77.4 323.8h0M103.8 316.9h0M99.9 293.5h0M114.8 312.6h0M63.6 323.5h0M72.7 287.7h0M86.8 325.0h0M101.8 317.2h0M61.2 326.9h0M141.5 297.9h0M86.9 323.1h0M82.7 291.3h0M136.4 295.4h0M126.5 306.4h0M87.2 321.8h0M57.5 323.2h0M90.8 319.1h0M83.5 324.2h0M90.0 319.9h0M58.9 288.4h0M69.5 287.8h0M64.5 325.9h0M108.9 312.6h0M92.9 289.9h0M51.3 283.6h0M112.5 313.6h0M61.7 324.6h0M71.9 325.1h0M59.4 328.1h0M84.5 321.0h0M85.5 321.6h0M138.5 296.6h0M78.0 285.1h0M91.7 325.6h0M142.7 296.5h0M94.5 292.6h0M139.9 306.6h0M111.3 294.9h0M96.7 291.0h0M143.0 298.1h0M92.6 318.9h0M106.8 315.8h0M137.3 297.0h0M99.3 317.4h0M80.8 327.4h0M111.3 291.5h0M78.4 321.9h0M85.3 324.7h0M106.9 295.7h0M116.9 312.9h0M121.8 312.7h0M130.4 309.0h0M72.4 290.9h0M85.7 320.8h0M102.1 315.0h0M83.3 320.0h0M134.5 296.5h0M86.5 325.9h0M75.8 291.0h0M90.5 289.5h0M98.6 290.9h0M68.5 289.9h0M119.3 294.0h0M142.3 303.4h0M78.6 287.4h0M94.3 324.1h0M77.5 292.9h0M90.4 322.3h0M74.2 323.6h0M101.8 295.4h0M99.4 319.0h0M99.8 318.7h0M129.4 306.3h0M80.8 291.2h0M110.4 311.8h0M108.1 314.9h0M66.0 326.6h0M126.6 307.4h0M87.7 290.7h0M134.9 304.7h0M110.8 313.5h0M105.0 316.0h0M61.7 286.0h0M95.0 319.2h0M115.2 311.0h0M65.5 289.9h0M132.0 295.8h0M74.5 323.8h0M100.4 294.3h0M86.0 291.5h0M99.5 294.1h0M64.0 291.7h0M81.4 322.0h0M52.6 289.7h0M78.1 292.0h0M135.5 304.2h0M128.7 296.4h0M59.5 322.1h0M59.7 326.2h0M76.1 289.7h0M79.4 292.6h0M130.7 306.2h0M65.7 290.1h0M123.6 308.9h0M125.9 312.1h0M94.6 288.3h0M54.4 289.5h0M97.5 293.5h0M134.7 297.0h0M56.8 324.4h0M104.4 319.2h0M86.1 292.7h0M103.3 316.2h0M58.8 326.3h0M89.4 291.1h0M128.8 309.4h0M91.7 320.2h0M93.4 293.0h0M62.7 326.4h0M124.7 296.3h0M50.7 318.6h0M133.6 296.7h0M96.1 294.0h0M77.0 290.5h0M63.1 291.9h0M68.2 289.1h0M125.4 296.0h0M85.8 325.5h0M131.8 294.3h0M128.8 307.6h0M99.5 318.8h0M84.6 323.9h0M145.0 297.8h0M91.9 292.6h0M80.3 289.2h0M56.5 292.1h0M56.3 326.8h0M136.7 303.5h0M101.7 316.2h0M128.8 295.3h0M56.0 323.3h0M126.3 307.0h0M93.1 320.7h0M136.1 305.7h0M129.8 307.8h0M109.4 320.2h0M73.3 287.3h0M74.0 330.5h0M132.2 297.1h0M137.7 296.4h0M66.3 290.6h0M91.7 291.4h0M105.1 314.7h0M136.2 303.8h0M98.9 319.6h0M139.8 296.7h0M80.7 290.4h0M73.0 327.7h0M97.4 318.3h0M83.1 321.6h0M93.8 293.1h0M133.0 296.3h0M84.9 293.3h0M84.0 292.3h0M127.5 292.5h0M88.4 291.9h0M56.1 290.1h0M107.4 316.4h0M59.5 324.9h0M112.9 294.8h0M75.0 325.9h0M107.0 316.3h0M61.9 324.9h0M80.5 292.6h0M122.2 308.7h0M74.0 290.1h0M68.1 289.9h0M89.8 293.3h0M86.4 292.6h0M99.1 316.0h0M99.8 318.1h0M94.9 319.1h0M100.3 319.2h0M138.4 295.2h0M65.5 291.0h0M117.5 296.2h0M56.7 322.5h0M108.3 315.9h0M122.1 312.0h0M88.8 320.0h0M53.5 289.4h0M140.0 301.8h0M81.2 324.2h0M82.9 323.0h0M55.9 324.6h0M83.6 323.2h0M85.6 291.5h0M113.5 291.7h0M100.2 292.5h0M83.1 290.7h0M127.2 308.3h0M58.6 283.1h0M130.0 295.5h0M86.7 291.4h0M88.7 324.9h0M54.2 322.2h0M103.0 321.9h0M76.1 289.7h0M107.7 317.3h0M129.1 296.4h0M83.8 323.8h0M101.7 292.1h0M134.8 293.7h0M94.7 321.3h0M91.3 293.3h0M101.8 291.2h0M138.2 306.0h0M140.3 301.9h0M85.9 293.3h0M102.8 318.0h0M145.2 302.1h0M145.2 300.0h0M110.0 317.4h0M128.2 311.0h0M106.0 319.8h0M132.4 306.1h0M62.9 290.8h0M102.1 294.9h0M106.1 295.0h0M91.8 322.5h0M84.9 319.8h0M145.3 301.7h0M108.1 294.6h0M123.2 295.5h0M72.3 323.2h0M102.3 319.0h0M117.8 295.8h0M90.1 322.7h0M66.3 291.2h0M84.5 320.9h0M72.6 327.8h0M89.3 291.9h0M69.2 285.9h0M87.1 288.5h0M135.6 304.4h0M97.5 317.9h0M76.9 291.2h0M117.3 309.2h0M127.2 296.1h0M117.2 292.6h0M137.4 297.2h0M96.5 293.8h0M79.6 289.5h0M90.1 319.7h0M107.3 289.4h0M86.9 320.5h0M118.5 312.0h0M122.0 310.5h0M77.5 325.0h0M132.0 308.6h0M67.5 327.0h0M115.2 313.3h0M87.2 293.5h0M68.8 291.6h0M133.8 305.5h0M114.7 312.8h0M85.3 291.4h0M87.3 324.8h0M115.1 312.3h0M83.1 289.8h0M144.4 300.2h0M79.9 290.7h0M57.7 324.6h0M59.9 323.8h0M143.0 301.1h0M130.9 308.4h0M122.2 307.9h0M140.9 299.2h0M67.3 288.2h0M76.2 287.4h0M137.8 296.9h0M78.8 322.2h0M136.0 296.6h0M77.9 322.5h0M92.5 289.8h0M54.1 323.2h0M53.3 289.5h0M135.9 296.6h0M143.2 302.0h0M70.1 324.2h0M72.3 329.2h0M94.0 287.1h0M96.3 293.5h0M67.1 328.3h0M126.9 310.1h0M96.0 294.2h0M142.7 302.0h0M108.1 313.2h0M95.3 294.3h0M90.6 291.8h0M59.2 290.9h0M122.2 309.9h0M79.4 289.0h0M144.6 299.5h0M130.5 294.4h0M139.6 296.6h0M116.9 311.0h0M82.3 321.0h0M64.9 291.2h0M109.3 318.0h0M108.4 317.0h0M106.2 292.0h0M116.8 293.6h0M61.8 289.6h0M143.0 300.7h0M73.9 290.1h0M90.4 292.5h0M85.0 287.8h0M74.2 291.7h0M77.5 323.1h0M114.3 315.0h0M68.3 326.1h0M70.9 324.0h0M118.7 312.1h0M107.8 314.0h0M142.6 302.0h0M125.1 308.5h0M130.4 296.6h0M59.9 290.9h0M131.9 306.3h0M94.4 319.7h0M91.0 321.4h0M87.6 322.1h0M130.7 293.8h0M81.1 290.8h0M79.4 324.1h0M56.8 325.9h0M111.6 293.0h0M52.9 289.4h0M69.4 290.8h0M106.6 293.3h0M120.2 309.8h0M98.8 295.2h0M107.5 319.0h0M120.0 309.2h0M94.2 322.3h0M78.1 324.6h0M68.9 292.7h0M110.4 317.2h0M111.3 293.3h0M142.7 305.2h0M92.2 324.0h0M123.8 296.4h0M65.8 330.6h0M129.7 307.4h0M78.3 326.7h0M63.3 324.1h0M65.7 323.8h0M101.4 316.6h0M133.0 306.7h0M143.8 298.8h0M56.8 287.1h0M114.0 312.5h0M82.7 324.8h0M132.8 306.5h0M137.6 296.9h0M104.4 320.1h0M105.4 295.7h0M100.7 319.4h0M75.1 328.0h0M133.3 309.8h0M140.5 302.1h0M141.7 304.4h0M72.7 328.0h0M115.2 312.5h0M138.0 294.6h0M88.5 288.3h0M143.6 298.3h0M108.8 315.7h0M131.2 308.9h0M91.8 294.3h0M80.7 323.5h0M109.4 289.4h0M86.8 321.2h0M114.0 312.8h0M55.8 327.6h0M97.5 293.4h0M59.9 325.9h0M70.7 287.4h0M59.9 325.8h0M78.3 292.9h0M115.1 293.6h0M95.2 293.6h0M125.3 308.4h0M60.5 291.8h0M57.9 288.4h0M111.5 317.5h0M74.4 322.5h0M101.1 294.5h0M59.4 331.4h0M88.2 289.2h0M76.2 325.2h0M66.1 291.6h0M76.5 326.3h0M63.2 324.7h0M112.1 315.1h0M96.3 318.0h0M124.5 310.0h0M128.0 308.6h0M77.6 324.0h0M140.5 304.0h0M64.0 280.3h0M86.3 327.6h0M100.0 319.1h0M142.1 298.8h0M104.4 315.9h0M133.6 308.2h0M91.4 289.7h0M135.9 296.8h0M100.1 319.3h0M55.8 327.3h0M112.6 313.0h0M128.8 293.6h0M133.0 305.0h0M144.4 301.5h0M103.3 316.0h0M78.8 289.8h0M100.5 318.3h0M72.5 328.5h0M139.9 298.3h0M113.3 314.4h0M104.3 318.1h0M59.6 291.4h0M91.5 321.5h0M66.7 322.5h0M111.9 294.1h0M76.9 322.0h0M53.8 328.3h0M137.5 297.1h0M85.5 290.6h0M127.7 309.1h0M90.0 321.2h0M134.5 295.2h0M107.3 296.1h0M84.0 322.9h0M68.2 289.9h0M127.8 308.1h0M113.5 294.6h0M136.1 304.0h0M77.6 290.2h0M120.8 296.0h0M107.1 315.0h0M95.3 290.6h0M91.7 322.1h0M122.3 295.9h0M67.7 326.0h0M134.0 295.9h0M113.8 294.7h0M103.9 317.8h0M92.9 292.8h0M83.3 321.4h0M94.6 292.4h0M137.6 298.3h0M120.0 296.7h0M106.1 314.9h0M85.3 292.2h0M128.2 294.6h0M106.8 315.1h0M133.1 305.4h0M115.0 312.7h0M101.3 316.6h0M72.0 289.8h0M142.2 302.8h0M82.4 290.1h0M130.1 306.5h0M76.9 289.0h0M60.9 325.9h0M109.5 314.0h0M112.8 293.6h0M135.4 293.8h0M49.3 320.8h0M134.1 295.4h0M62.1 323.7h0M64.5 290.8h0M60.8 291.7h0M132.5 305.2h0M116.9 311.4h0M122.1 310.9h0M74.4 326.9h0M110.1 293.8h0M125.4 294.2h0M140.5 301.9h0M54.6 323.8h0M83.4 322.2h0M127.8 308.3h0M108.4 316.6h0M96.9 321.7h0M72.3 323.1h0M66.1 324.8h0M86.5 291.2h0M94.9 320.1h0M54.9 325.2h0M63.9 288.6h0M108.2 295.6h0M64.9 291.0h0M135.5 294.5h0M117.4 296.0h0M125.9 308.5h0M86.7 291.4h0M68.6 328.7h0M106.4 294.9h0M98.0 292.0h0M112.8 316.2h0M91.3 320.5h0M102.3 315.8h0M120.7 310.2h0M144.3 301.9h0M79.7 323.4h0M102.9 295.0h0M59.3 326.2h0M128.7 295.8h0M100.6 289.3h0M90.6 323.9h0M83.5 322.8h0M112.0 314.7h0M123.1 308.4h0M125.0 293.8h0M75.9 289.7h0M69.2 324.9h0M57.2 329.1h0M65.3 291.0h0M73.5 324.4h0M80.8 324.0h0M124.1 308.7h0M70.9 328.3h0M107.3 316.8h0M63.2 290.5h0M122.5 311.1h0M76.1 330.8h0M77.5 323.1h0M60.1 323.7h0M117.9 294.1h0M123.5 308.0h0M122.8 295.3h0M89.1 292.0h0M98.8 291.8h0M109.1 294.9h0M144.6 299.0h0M126.2 292.6h0M72.4 328.3h0M74.7 292.4h0M57.1 322.4h0M145.8 301.4h0M85.0 320.2h0M66.0 325.0h0M141.7 302.9h0M89.2 324.3h0M114.4 295.1h0M140.7 303.7h0M58.7 289.4h0M86.9 292.4h0M76.1 321.5h0M62.8 325.1h0M106.9 317.1h0M91.1 292.2h0M101.4 318.0h0M80.3 292.1h0M113.1 295.4h0M136.9 296.4h0M109.6 316.6h0M54.5 329.8h0M140.4 295.6h0M84.2 294.1h0M63.6 325.4h0M96.4 321.8h0M83.2 291.0h0M58.0 288.3h0M50.1 322.5h0M71.4 323.5h0M88.4 320.0h0M130.8 295.4h0M138.6 302.9h0M126.2 296.9h0M123.4 295.6h0M76.4 292.5h0M66.9 329.9h0M133.9 304.4h0M114.7 295.7h0M82.8 323.4h0M50.1 317.5h0M50.4 322.9h0M135.8 296.1h0M102.5 316.4h0M97.9 318.4h0M94.8 291.1h0M114.9 293.8h0M117.1 313.6h0M54.8 322.4h0M125.6 292.2h0M54.0 326.8h0M75.9 327.1h0M116.7 294.9h0M119.8 295.2h0M135.9 306.1h0M132.9 305.8h0M56.8 323.6h0M67.5 329.0h0M87.7 288.6h0M92.8 290.9h0M91.6 294.1h0M84.1 321.6h0M100.4 318.7h0M51.7 319.6h0M84.8 321.6h0M121.1 294.8h0M123.0 308.5h0M117.3 312.7h0M127.2 295.4h0M64.9 324.6h0M68.3 325.3h0M88.8 323.1h0M85.7 322.4h0M130.0 296.1h0M77.9 325.3h0M87.5 321.7h0M57.2 324.5h0M105.3 315.3h0M55.7 289.8h0M65.9 290.8h0M71.6 327.3h0M126.5 309.2h0M123.2 295.9h0M52.8 322.3h0M114.4 294.4h0M108.8 293.6h0M89.3 286.3h0M97.8 318.5h0M109.9 295.8h0M144.4 299.1h0M81.4 291.3h0M80.4 289.4h0M64.7 322.9h0M132.3 295.4h0M88.9 323.2h0M121.8 295.1h0M116.9 311.2h0M137.6 297.7h0M137.6 297.5h0M54.2 321.3h0M116.4 310.8h0M113.2 294.8h0M102.2 316.0h0M111.4 314.6h0M143.0 301.8h0M119.0 293.6h0M112.6 313.4h0M69.2 326.6h0M122.0 308.9h0M105.7 292.3h0M100.3 291.2h0M145.7 300.8h0M95.3 293.8h0M132.3 305.1h0M122.1 308.7h0M126.9 293.8h0M97.9 317.2h0M79.3 322.0h0M85.1 323.2h0M135.7 310.3h0M97.9 293.2h0M112.6 294.0h0M118.8 296.6h0M82.8 287.9h0M142.7 299.5h0M132.4 295.4h0M80.2 290.7h0M141.4 298.7h0M55.0 323.1h0M120.4 311.1h0M138.5 302.7h0M124.6 296.8h0M117.7 295.0h0M88.3 322.4h0M72.2 286.9h0M76.3 288.2h0M138.7 303.5h0M67.9 324.8h0M62.8 289.4h0M132.6 297.4h0M145.5 299.1h0M81.6 322.5h0M64.1 326.9h0M94.2 320.7h0M57.5 285.4h0M137.7 296.7h0M137.2 297.6h0M68.3 325.2h0M104.1 315.9h0M138.5 305.8h0M95.4 291.8h0M88.9 325.4h0M59.6 326.7h0M145.4 296.6h0M51.0 326.3h0M125.7 296.8h0M55.0 291.2h0M86.7 320.5h0M105.5 294.9h0M144.3 300.9h0M84.3 322.2h0M119.0 314.8h0M61.6 326.1h0M131.7 296.2h0M97.0 320.5h0M54.8 327.7h0M139.9 302.3h0M85.3 321.8h0M77.9 323.9h0M72.6 326.1h0M86.1 291.5h0M94.7 308.1h0M102.6 318.1h0M96.5 316.6h0M59.7 293.0h0M109.8 307.6h0M149.9 316.2h0M134.2 305.5h0M141.1 296.7h0M114.1 321.3h0M113.9 291.3h0M85.2 304.3h0M104.0 298.6h0M105.7 316.8h0M125.5 322.5h0M134.3 294.0h0M63.9 259.9h0M106.1 306.3h0M99.8 301.0h0M121.8 302.8h0M129.5 319.5h0M85.8 318.9h0M69.7 302.9h0M87.7 307.4h0M111.1 297.4h0M118.3 282.2h0M127.9 317.4h0M96.1 311.9h0M73.8 316.6h0M122.9 334.6h0M117.3 310.0h0M118.7 316.5h0M66.3 306.5h0M124.2 301.7h0M105.4 329.9h0M71.6 320.8h0M98.7 281.9h0M66.1 302.3h0M137.0 316.8h0M90.7 284.2h0M121.5 302.5h0M85.2 304.4h0M75.6 312.3h0M109.2 305.3h0M67.2 313.9h0M67.1 343.6h0M108.3 296.2h0M120.8 307.8h0M125.9 294.9h0M122.4 314.8h0M97.6 300.9h0M83.3 299.9h0M89.5 293.7h0M80.0 282.3h0M122.0 322.2h0M103.9 291.5h0M121.5 294.1h0M112.5 302.1h0M92.5 308.6h0M89.5 312.2h0M120.3 303.9h0M91.6 308.8h0M58.3 283.5h0M140.5 314.5h0M60.9 346.1h0M63.9 324.0h0M82.6 335.2h0M113.5 296.2h0M65.2 312.0h0M69.7 321.4h0M72.1 302.6h0M112.5 311.1h0M121.8 303.7h0M76.9 308.2h0M69.9 308.3h0M87.7 321.8h0M87.3 291.0h0M55.4 311.1h0M143.4 311.9h0M106.0 279.1h0M137.6 313.4h0M68.3 288.7h0M93.9 299.0h0M61.2 307.7h0M117.0 310.1h0M132.1 312.2h0M78.7 323.6h0M105.2 331.2h0M145.5 309.9h0M73.2 303.5h0M67.1 324.1h0M71.8 302.8h0M61.5 318.1h0M63.2 278.3h0M72.5 322.8h0M140.1 291.0h0M103.2 289.4h0M67.4 294.4h0M113.4 287.8h0M130.3 251.1h0M148.0 300.5h0M130.9 311.0h0M121.8 307.9h0M53.6 296.4h0" fill="none" stroke="#c8322a" stroke-width="0.8" stroke-linecap="round" opacity="0.65"/>
<path d="M79.5 306.6h0M72.1 297.4h0M67.4 323.5h0M93.1 327.1h0M95.2 302.9h0M99.2 291.4h0M107.0 309.4h0M65.5 320.7h0M71.5 303.4h0M109.6 294.1h0M53.8 289.2h0M59.8 294.9h0M68.6 294.8h0M65.6 307.8h0M102.1 306.8h0M108.3 313.0h0M117.8 285.8h0M91.8 316.4h0M66.6 290.7h0M86.8 322.0h0M140.2 283.7h0M129.1 314.2h0M65.6 296.8h0M112.6 293.0h0M100.5 305.3h0M125.4 288.6h0M137.1 302.3h0M119.7 306.7h0M78.3 304.7h0M97.9 310.7h0M135.3 294.0h0M73.5 309.9h0M124.2 308.8h0M113.4 314.8h0M52.0 307.3h0M74.8 304.4h0M122.8 266.9h0M114.0 315.8h0M102.5 301.1h0M69.7 306.8h0M122.5 313.7h0M76.2 293.5h0M70.0 312.7h0M133.0 297.6h0M83.7 282.9h0M142.6 305.5h0M89.2 312.5h0M68.8 302.0h0M107.0 317.4h0M53.8 311.1h0M53.8 294.1h0M81.6 305.7h0M100.5 310.8h0M102.7 327.9h0M125.8 300.8h0M107.9 321.4h0M131.5 302.8h0M126.1 304.0h0M96.4 309.8h0M91.4 288.0h0M107.4 299.3h0M132.1 316.6h0M89.9 301.5h0M78.1 304.5h0M98.8 280.1h0M51.5 309.1h0M102.7 300.7h0M127.1 289.6h0M144.2 286.5h0M143.0 305.1h0M84.5 273.2h0M90.9 303.2h0M125.0 307.4h0M77.6 318.6h0M67.6 299.2h0M148.5 290.7h0M111.3 292.8h0M112.6 319.1h0M69.2 290.9h0M92.8 329.2h0M136.0 323.1h0M74.0 304.8h0M126.2 325.4h0M120.2 312.4h0M82.9 316.1h0M65.9 309.4h0M71.0 298.5h0M102.6 295.1h0M120.4 324.1h0M51.1 266.7h0M55.6 330.0h0M97.1 321.8h0M96.1 301.4h0M78.1 292.0h0M137.4 286.9h0M82.5 298.1h0M152.7 300.6h0M149.9 303.9h0M144.9 300.6h0M142.8 298.9h0M152.7 302.6h0M150.2 299.4h0M147.3 295.8h0M143.5 299.0h0M142.6 300.4h0M149.9 296.7h0M140.2 299.6h0M150.7 300.6h0M151.4 299.9h0M152.8 300.0h0M150.0 301.2h0M146.5 299.6h0M140.2 295.1h0M145.7 301.7h0M149.5 300.6h0M141.7 300.1h0M146.2 298.0h0M148.4 300.4h0M147.1 301.9h0M142.5 300.6h0M152.9 297.5h0M140.1 301.5h0M140.7 300.1h0M140.0 300.8h0M141.8 302.1h0M152.2 295.5h0M142.6 297.2h0M148.6 300.6h0M148.1 302.1h0M142.1 299.8h0M145.1 299.1h0M147.8 299.5h0M148.6 301.3h0M145.7 299.6h0M142.4 301.1h0M149.7 301.9h0M142.2 300.4h0M152.9 299.0h0M152.8 298.8h0M140.3 298.3h0M145.2 297.9h0M142.2 299.7h0M144.6 300.2h0M140.6 298.2h0M151.3 300.1h0M140.8 299.9h0M148.4 300.0h0M147.0 300.1h0M145.6 299.5h0M142.3 299.7h0M140.1 299.9h0M150.5 298.1h0M141.1 301.0h0M150.8 300.5h0M152.2 300.1h0M147.4 302.3h0M142.5 301.4h0M144.5 299.3h0M152.8 298.3h0M143.5 300.3h0M147.2 299.7h0M144.9 297.4h0M141.3 301.4h0M144.1 302.3h0M152.1 301.3h0M140.4 297.1h0M142.1 299.6h0M140.2 301.9h0M150.8 299.8h0M142.6 298.2h0M143.6 300.8h0M147.3 301.1h0M144.0 303.1h0M146.5 301.5h0M143.0 302.8h0M151.3 299.9h0M144.2 297.5h0M152.0 298.8h0M144.4 301.6h0M142.2 299.9h0M141.3 299.3h0M140.0 300.5h0M151.6 301.6h0M142.7 301.7h0M151.2 302.5h0M149.9 298.6h0M142.9 299.0h0M141.2 301.1h0M142.9 300.2h0M143.6 299.5h0M147.2 301.2h0M144.2 302.4h0M144.9 298.6h0M151.8 299.7h0M145.4 302.0h0M145.8 301.0h0M144.0 298.0h0M140.4 303.1h0M141.7 301.3h0M148.7 301.1h0M143.2 297.6h0M141.8 298.5h0M147.8 302.9h0M142.2 297.4h0M143.3 303.6h0M151.2 298.7h0M152.1 300.1h0M148.1 299.7h0M143.9 298.6h0M144.5 302.8h0M149.7 300.2h0M150.8 299.7h0M152.1 300.5h0M147.6 299.5h0M141.4 300.7h0M153.0 300.3h0M147.9 296.7h0M151.1 300.2h0M149.6 301.6h0M152.4 300.6h0M144.8 300.4h0M152.1 301.6h0M140.4 299.6h0M147.4 299.6h0M148.5 299.4h0M140.5 296.7h0M142.5 298.4h0M150.2 302.4h0M142.0 301.2h0M142.7 302.9h0M148.6 300.4h0M151.3 301.9h0M147.1 299.1h0M148.5 301.2h0M141.7 301.9h0M143.7 299.7h0M84.0 256.2h0M98.5 256.2h0M100.0 256.2h0M109.5 256.2h0M110.5 256.2h0M117.0 256.2h0" fill="none" stroke="#555b5b" stroke-width="0.8" stroke-linecap="round" opacity="0.75"/>
</g>
<defs><filter id="gsoft" x="-5%" y="-20%" width="110%" height="140%"><feGaussianBlur stdDeviation="0.6"/></filter></defs>
<rect x="39.80" y="252.40" width="115.20" height="102.90" fill="none" stroke="#8a8a8a" stroke-width="0.9"/>
<line x1="37.40" y1="274.25" x2="39.80" y2="274.25" stroke="#777" stroke-width="0.8"/>
<text x="34.90" y="276.85" font-size="7.3" text-anchor="end">5</text>
<line x1="37.40" y1="304.50" x2="39.80" y2="304.50" stroke="#777" stroke-width="0.8"/>
<text x="34.90" y="307.10" font-size="7.3" text-anchor="end">0</text>
<line x1="37.40" y1="334.75" x2="39.80" y2="334.75" stroke="#777" stroke-width="0.8"/>
<text x="34.90" y="337.35" font-size="7.3" text-anchor="end">−5</text>
<line x1="47.70" y1="355.30" x2="47.70" y2="357.30" stroke="#888" stroke-width="0.7"/>
<text x="47.70" y="366.20" font-size="7.3" text-anchor="middle">5</text>
<line x1="61.90" y1="355.30" x2="61.90" y2="357.30" stroke="#888" stroke-width="0.7"/>
<text x="61.90" y="366.20" font-size="7.3" text-anchor="middle">10</text>
<line x1="76.10" y1="355.30" x2="76.10" y2="357.30" stroke="#888" stroke-width="0.7"/>
<text x="76.10" y="366.20" font-size="7.3" text-anchor="middle">20</text>
<line x1="94.87" y1="355.30" x2="94.87" y2="357.30" stroke="#888" stroke-width="0.7"/>
<text x="94.87" y="366.20" font-size="7.3" text-anchor="middle">50</text>
<line x1="109.07" y1="355.30" x2="109.07" y2="357.30" stroke="#888" stroke-width="0.7"/>
<text x="109.07" y="366.20" font-size="7.3" text-anchor="middle">100</text>
<line x1="123.27" y1="355.30" x2="123.27" y2="357.30" stroke="#888" stroke-width="0.7"/>
<text x="123.27" y="366.20" font-size="7.3" text-anchor="middle">200</text>
<line x1="142.04" y1="355.30" x2="142.04" y2="357.30" stroke="#888" stroke-width="0.7"/>
<text x="142.04" y="366.20" font-size="7.3" text-anchor="middle">500</text>
<text x="97.40" y="375.00" font-size="7.55" text-anchor="middle">Mean of normalized counts</text>
<text x="21.60" y="303.20" font-size="7.55" text-anchor="middle" transform="rotate(-90 21.60 303.20)">Log fold change (KO/WT)</text>
<text x="167.80" y="257.00" font-size="10.0" font-weight="bold" fill="#000" class="nc">H</text>
<defs><linearGradient id="hkey" x1="0" y1="0" x2="1" y2="0"><stop offset="0" stop-color="#f4fbf2"/><stop offset="0.35" stop-color="#b6e2b0"/><stop offset="0.7" stop-color="#3fa75e"/><stop offset="1" stop-color="#0b5a28"/></linearGradient></defs>
<rect x="201.60" y="252.40" width="20.80" height="12.20" fill="url(#hkey)"/>
<line x1="201.60" y1="252.40" x2="201.60" y2="264.60" stroke="#555" stroke-width="0.5"/>
<line x1="201.60" y1="264.60" x2="222.40" y2="264.60" stroke="#555" stroke-width="0.5"/>
<line x1="202.00" y1="264.60" x2="202.00" y2="265.80" stroke="#555" stroke-width="0.4"/>
<line x1="204.80" y1="264.60" x2="204.80" y2="265.80" stroke="#555" stroke-width="0.4"/>
<line x1="207.60" y1="264.60" x2="207.60" y2="265.80" stroke="#555" stroke-width="0.4"/>
<line x1="210.40" y1="264.60" x2="210.40" y2="265.80" stroke="#555" stroke-width="0.4"/>
<line x1="213.20" y1="264.60" x2="213.20" y2="265.80" stroke="#555" stroke-width="0.4"/>
<line x1="216.00" y1="264.60" x2="216.00" y2="265.80" stroke="#555" stroke-width="0.4"/>
<line x1="218.80" y1="264.60" x2="218.80" y2="265.80" stroke="#555" stroke-width="0.4"/>
<line x1="221.60" y1="264.60" x2="221.60" y2="265.80" stroke="#555" stroke-width="0.4"/>
<text x="191.50" y="260.00" font-size="5.2" text-anchor="middle" transform="rotate(-90 191.50 260.00)">Count</text>
<text x="199.20" y="263.60" font-size="4.8" text-anchor="middle" transform="rotate(-90 199.20 263.60)">0</text>
<text x="199.20" y="255.60" font-size="4.8" text-anchor="middle" transform="rotate(-90 199.20 255.60)">4</text>
<text x="202.60" y="271.00" font-size="5.2" text-anchor="middle">0.7</text>
<text x="221.80" y="271.00" font-size="5.2" text-anchor="middle">1</text>
<text x="211.20" y="277.60" font-size="5.5" text-anchor="middle">Correlation</text>
<text x="235.60" y="286.00" font-size="5.6" text-anchor="end">Factor</text>
<text x="235.60" y="291.10" font-size="5.6" text-anchor="end">Replicate</text>
<rect x="238.00" y="280.80" width="9.47" height="5.30" fill="#f7a21b"/>
<rect x="238.00" y="285.80" width="9.47" height="5.80" fill="#2b2a8c"/>
<rect x="247.17" y="280.80" width="9.47" height="5.30" fill="#33b4ea"/>
<rect x="247.17" y="285.80" width="9.47" height="5.80" fill="#2b2a8c"/>
<rect x="256.34" y="280.80" width="9.47" height="5.30" fill="#a6d49a"/>
<rect x="256.34" y="285.80" width="9.47" height="5.80" fill="#2b2a8c"/>
<rect x="265.51" y="280.80" width="9.47" height="5.30" fill="#e5198a"/>
<rect x="265.51" y="285.80" width="9.47" height="5.80" fill="#2b2a8c"/>
<rect x="274.68" y="280.80" width="9.47" height="5.30" fill="#c2c9d6"/>
<rect x="274.68" y="285.80" width="9.47" height="5.80" fill="#2b2a8c"/>
<rect x="283.85" y="280.80" width="9.47" height="5.30" fill="#2b2a8c"/>
<rect x="283.85" y="285.80" width="9.47" height="5.80" fill="#2b2a8c"/>
<rect x="293.02" y="280.80" width="9.17" height="5.30" fill="#cfd0d4"/>
<rect x="293.02" y="285.80" width="9.17" height="5.80" fill="#e5198a"/>
<rect x="238.00" y="293.00" width="9.47" height="8.21" fill="#0c4a22"/>
<rect x="247.17" y="293.00" width="9.47" height="8.21" fill="#a4d49c"/>
<rect x="256.34" y="293.00" width="9.47" height="8.21" fill="#b8dfb0"/>
<rect x="265.51" y="293.00" width="9.47" height="8.21" fill="#d5ecd0"/>
<rect x="274.68" y="293.00" width="9.47" height="8.21" fill="#e9f5e6"/>
<rect x="283.85" y="293.00" width="9.47" height="8.21" fill="#e2f2de"/>
<rect x="293.02" y="293.00" width="9.17" height="8.21" fill="#deefd9"/>
<rect x="238.00" y="300.91" width="9.47" height="8.21" fill="#99cf93"/>
<rect x="247.17" y="300.91" width="9.47" height="8.21" fill="#0c4a22"/>
<rect x="256.34" y="300.91" width="9.47" height="8.21" fill="#8acb84"/>
<rect x="265.51" y="300.91" width="9.47" height="8.21" fill="#cfe9ca"/>
<rect x="274.68" y="300.91" width="9.47" height="8.21" fill="#f6fbf5"/>
<rect x="283.85" y="300.91" width="9.47" height="8.21" fill="#eef8ec"/>
<rect x="293.02" y="300.91" width="9.17" height="8.21" fill="#e7f4e4"/>
<rect x="238.00" y="308.82" width="9.47" height="8.21" fill="#a4d59d"/>
<rect x="247.17" y="308.82" width="9.47" height="8.21" fill="#7cc277"/>
<rect x="256.34" y="308.82" width="9.47" height="8.21" fill="#0c4a22"/>
<rect x="265.51" y="308.82" width="9.47" height="8.21" fill="#c9e6c3"/>
<rect x="274.68" y="308.82" width="9.47" height="8.21" fill="#dbeed6"/>
<rect x="283.85" y="308.82" width="9.47" height="8.21" fill="#d5ecd0"/>
<rect x="293.02" y="308.82" width="9.17" height="8.21" fill="#d1eacc"/>
<rect x="238.00" y="316.73" width="9.47" height="8.21" fill="#d4ecce"/>
<rect x="247.17" y="316.73" width="9.47" height="8.21" fill="#cbe8c5"/>
<rect x="256.34" y="316.73" width="9.47" height="8.21" fill="#c2e3bb"/>
<rect x="265.51" y="316.73" width="9.47" height="8.21" fill="#0e5727"/>
<rect x="274.68" y="316.73" width="9.47" height="8.21" fill="#1b8a3e"/>
<rect x="283.85" y="316.73" width="9.47" height="8.21" fill="#1c8b3f"/>
<rect x="293.02" y="316.73" width="9.17" height="8.21" fill="#1a893d"/>
<rect x="238.00" y="324.64" width="9.47" height="8.21" fill="#e8f5e5"/>
<rect x="247.17" y="324.64" width="9.47" height="8.21" fill="#f5fbf3"/>
<rect x="256.34" y="324.64" width="9.47" height="8.21" fill="#d2ebcc"/>
<rect x="265.51" y="324.64" width="9.47" height="8.21" fill="#1b8a3e"/>
<rect x="274.68" y="324.64" width="9.47" height="8.21" fill="#0f662d"/>
<rect x="283.85" y="324.64" width="9.47" height="8.21" fill="#1b893e"/>
<rect x="293.02" y="324.64" width="9.17" height="8.21" fill="#1b893e"/>
<rect x="238.00" y="332.55" width="9.47" height="8.21" fill="#e5f3e1"/>
<rect x="247.17" y="332.55" width="9.47" height="8.21" fill="#eff8ec"/>
<rect x="256.34" y="332.55" width="9.47" height="8.21" fill="#cfe9c9"/>
<rect x="265.51" y="332.55" width="9.47" height="8.21" fill="#1c8b3f"/>
<rect x="274.68" y="332.55" width="9.47" height="8.21" fill="#1b893e"/>
<rect x="283.85" y="332.55" width="9.47" height="8.21" fill="#0f662d"/>
<rect x="293.02" y="332.55" width="9.17" height="8.21" fill="#1b893e"/>
<rect x="238.00" y="340.46" width="9.47" height="7.91" fill="#dff1da"/>
<rect x="247.17" y="340.46" width="9.47" height="7.91" fill="#e6f4e3"/>
<rect x="256.34" y="340.46" width="9.47" height="7.91" fill="#cbe7c5"/>
<rect x="265.51" y="340.46" width="9.47" height="7.91" fill="#1a893d"/>
<rect x="274.68" y="340.46" width="9.47" height="7.91" fill="#1b893e"/>
<rect x="283.85" y="340.46" width="9.47" height="7.91" fill="#1b893e"/>
<rect x="293.02" y="340.46" width="9.17" height="7.91" fill="#0f662d"/>
<text x="303.60" y="298.95" font-size="5.6">BRD9</text>
<text x="303.60" y="306.87" font-size="5.6">SMARCA2</text>
<text x="303.60" y="314.77" font-size="5.6">PBRM1</text>
<text x="303.60" y="322.69" font-size="5.6">SMARCA4</text>
<text x="303.60" y="330.59" font-size="5.6">ARID1A_1</text>
<text x="303.60" y="338.50" font-size="5.6">SMARCC1</text>
<text x="303.60" y="346.41" font-size="5.6">ARID1A_2</text>
<text x="244.59" y="350.60" font-size="5.6" text-anchor="end" transform="rotate(-90 244.59 350.60)">BRD9</text>
<text x="253.75" y="350.60" font-size="5.6" text-anchor="end" transform="rotate(-90 253.75 350.60)">SMARCA2</text>
<text x="262.92" y="350.60" font-size="5.6" text-anchor="end" transform="rotate(-90 262.92 350.60)">PBRM1</text>
<text x="272.09" y="350.60" font-size="5.6" text-anchor="end" transform="rotate(-90 272.09 350.60)">SMARCA4</text>
<text x="281.26" y="350.60" font-size="5.6" text-anchor="end" transform="rotate(-90 281.26 350.60)">ARID1A_1</text>
<text x="290.44" y="350.60" font-size="5.6" text-anchor="end" transform="rotate(-90 290.44 350.60)">SMARCC1</text>
<text x="299.60" y="350.60" font-size="5.6" text-anchor="end" transform="rotate(-90 299.60 350.60)">ARID1A_2</text>
<line x1="206.60" y1="302.90" x2="206.60" y2="328.00" stroke="#333" stroke-width="0.75"/>
<line x1="206.60" y1="302.90" x2="229.60" y2="302.90" stroke="#333" stroke-width="0.75"/>
<line x1="229.60" y1="296.90" x2="229.60" y2="308.70" stroke="#333" stroke-width="0.75"/>
<line x1="229.60" y1="296.90" x2="238.00" y2="296.90" stroke="#333" stroke-width="0.75"/>
<line x1="229.60" y1="308.70" x2="231.20" y2="308.70" stroke="#333" stroke-width="0.75"/>
<line x1="231.20" y1="304.80" x2="231.20" y2="312.70" stroke="#333" stroke-width="0.75"/>
<line x1="231.20" y1="304.80" x2="238.00" y2="304.80" stroke="#333" stroke-width="0.75"/>
<line x1="231.20" y1="312.70" x2="238.00" y2="312.70" stroke="#333" stroke-width="0.75"/>
<line x1="206.60" y1="328.00" x2="235.20" y2="328.00" stroke="#333" stroke-width="0.75"/>
<line x1="235.20" y1="320.60" x2="235.20" y2="344.30" stroke="#333" stroke-width="0.75"/>
<line x1="235.20" y1="320.60" x2="238.00" y2="320.60" stroke="#333" stroke-width="0.75"/>
<line x1="234.60" y1="328.50" x2="238.00" y2="328.50" stroke="#333" stroke-width="0.75"/>
<line x1="234.60" y1="326.00" x2="234.60" y2="340.00" stroke="#333" stroke-width="0.75"/>
<line x1="234.60" y1="336.40" x2="238.00" y2="336.40" stroke="#333" stroke-width="0.75"/>
<line x1="235.20" y1="344.30" x2="238.00" y2="344.30" stroke="#333" stroke-width="0.75"/>
<line x1="249.10" y1="252.40" x2="278.70" y2="252.40" stroke="#333" stroke-width="0.75"/>
<line x1="249.10" y1="252.40" x2="249.10" y2="273.50" stroke="#333" stroke-width="0.75"/>
<line x1="242.60" y1="273.50" x2="255.60" y2="273.50" stroke="#333" stroke-width="0.75"/>
<line x1="242.60" y1="273.50" x2="242.60" y2="280.80" stroke="#333" stroke-width="0.75"/>
<line x1="255.60" y1="273.50" x2="255.60" y2="276.20" stroke="#333" stroke-width="0.75"/>
<line x1="251.80" y1="276.20" x2="260.70" y2="276.20" stroke="#333" stroke-width="0.75"/>
<line x1="251.80" y1="276.20" x2="251.80" y2="280.80" stroke="#333" stroke-width="0.75"/>
<line x1="260.70" y1="276.20" x2="260.70" y2="280.80" stroke="#333" stroke-width="0.75"/>
<line x1="278.70" y1="252.40" x2="278.70" y2="278.60" stroke="#333" stroke-width="0.75"/>
<line x1="270.30" y1="278.60" x2="286.80" y2="278.60" stroke="#333" stroke-width="0.75"/>
<line x1="270.30" y1="278.60" x2="270.30" y2="280.80" stroke="#333" stroke-width="0.75"/>
<line x1="279.50" y1="278.60" x2="279.50" y2="280.80" stroke="#333" stroke-width="0.75"/>
<line x1="286.80" y1="278.60" x2="286.80" y2="279.30" stroke="#333" stroke-width="0.75"/>
<line x1="286.80" y1="279.30" x2="297.60" y2="279.30" stroke="#333" stroke-width="0.75"/>
<line x1="288.80" y1="279.30" x2="288.80" y2="280.80" stroke="#333" stroke-width="0.75"/>
<line x1="297.60" y1="279.30" x2="297.60" y2="280.80" stroke="#333" stroke-width="0.75"/>
<defs>
<filter id="bl" x="-50%" y="-5%" width="200%" height="110%"><feGaussianBlur stdDeviation="0.9 0.3"/></filter>
<filter id="bl2" x="-50%" y="-5%" width="200%" height="110%"><feGaussianBlur stdDeviation="2.2 0.5"/></filter>
<linearGradient id="cbB" x1="0" x2="1"><stop offset="0" stop-color="#f7fbff"/><stop offset="0.3" stop-color="#c6dbef"/><stop offset="0.65" stop-color="#4a90c8"/><stop offset="1" stop-color="#08306b"/></linearGradient>
<linearGradient id="cbO" x1="0" x2="1"><stop offset="0" stop-color="#fff5eb"/><stop offset="0.3" stop-color="#fdc590"/><stop offset="0.65" stop-color="#ee6a1f"/><stop offset="1" stop-color="#7f2704"/></linearGradient>
</defs>
<defs>
<filter id="hb1" x="-50%" y="-5%" width="200%" height="110%"><feGaussianBlur stdDeviation="0.45 0.2"/></filter>
<filter id="hb2" x="-50%" y="-5%" width="200%" height="110%"><feGaussianBlur stdDeviation="1.0 0.3"/></filter>
<filter id="hb3" x="-50%" y="-5%" width="200%" height="110%"><feGaussianBlur stdDeviation="2.2 0.5"/></filter>
</defs>
<text x="328.80" y="256.00" font-size="10.0" font-weight="bold" fill="#000" class="nc">I</text>
<text x="373.60" y="268.40" font-size="7.0" text-anchor="end">SMARCA4</text>
<text x="409.20" y="257.00" font-size="7.3" text-anchor="middle">ATAC</text>
<line x1="380.80" y1="259.80" x2="437.70" y2="259.80" stroke="#707070" stroke-width="1.0"/>
<text x="485.60" y="257.00" font-size="7.3" text-anchor="middle">SMARCA4</text>
<line x1="458.50" y1="259.80" x2="514.20" y2="259.80" stroke="#707070" stroke-width="1.0"/>
<text x="393.50" y="268.60" font-size="7.2" text-anchor="middle">WT</text>
<text x="423.90" y="268.60" font-size="7.2" text-anchor="middle">KO</text>
<text x="470.70" y="268.60" font-size="7.2" text-anchor="middle">WT</text>
<text x="500.90" y="268.60" font-size="7.2" text-anchor="middle">KO</text>
<rect x="380.80" y="271.50" width="27.70" height="20.80" fill="#fff" stroke="#4a4a4a" stroke-width="0.9"/>
<path d="M381.40,290.88 L381.73,290.88 L382.06,290.88 L382.39,290.88 L382.73,290.88 L383.06,290.88 L383.39,290.88 L383.72,290.88 L384.05,290.88 L384.38,290.88 L384.71,290.88 L385.04,290.88 L385.38,290.88 L385.71,290.88 L386.04,290.88 L386.37,290.88 L386.70,290.88 L387.03,290.88 L387.36,290.88 L387.69,290.88 L388.03,290.88 L388.36,290.88 L388.69,290.88 L389.02,290.88 L389.35,290.88 L389.68,290.88 L390.01,290.88 L390.34,290.87 L390.68,290.87 L391.01,290.85 L391.34,290.83 L391.67,290.80 L392.00,290.73 L392.33,290.60 L392.66,290.37 L392.99,289.94 L393.33,289.17 L393.66,287.75 L393.99,285.17 L394.32,280.45 L394.65,271.84 L394.98,280.45 L395.31,285.17 L395.64,287.75 L395.98,289.17 L396.31,289.94 L396.64,290.37 L396.97,290.60 L397.30,290.73 L397.63,290.80 L397.96,290.83 L398.29,290.85 L398.62,290.87 L398.96,290.87 L399.29,290.88 L399.62,290.88 L399.95,290.88 L400.28,290.88 L400.61,290.88 L400.94,290.88 L401.28,290.88 L401.61,290.88 L401.94,290.88 L402.27,290.88 L402.60,290.88 L402.93,290.88 L403.26,290.88 L403.59,290.88 L403.93,290.88 L404.26,290.88 L404.59,290.88 L404.92,290.88 L405.25,290.88 L405.58,290.88 L405.91,290.88 L406.24,290.88 L406.58,290.88 L406.91,290.88 L407.24,290.88 L407.57,290.88 L407.90,290.88" fill="none" stroke="#33357a" stroke-width="0.85"/>
<rect x="410.00" y="271.50" width="27.70" height="20.80" fill="#fff" stroke="#4a4a4a" stroke-width="0.9"/>
<path d="M410.60,290.88 L410.93,290.88 L411.26,290.88 L411.59,290.88 L411.93,290.88 L412.26,290.88 L412.59,290.88 L412.92,290.88 L413.25,290.88 L413.58,290.88 L413.91,290.88 L414.24,290.88 L414.58,290.88 L414.91,290.88 L415.24,290.88 L415.57,290.88 L415.90,290.88 L416.23,290.88 L416.56,290.88 L416.89,290.88 L417.23,290.88 L417.56,290.88 L417.89,290.88 L418.22,290.88 L418.55,290.88 L418.88,290.88 L419.21,290.87 L419.54,290.87 L419.88,290.87 L420.21,290.86 L420.54,290.85 L420.87,290.84 L421.20,290.81 L421.53,290.78 L421.86,290.73 L422.19,290.65 L422.53,290.54 L422.86,290.36 L423.19,290.10 L423.52,289.70 L423.85,289.09 L424.18,289.70 L424.51,290.10 L424.84,290.36 L425.18,290.54 L425.51,290.65 L425.84,290.73 L426.17,290.78 L426.50,290.81 L426.83,290.84 L427.16,290.85 L427.49,290.86 L427.83,290.87 L428.16,290.87 L428.49,290.87 L428.82,290.88 L429.15,290.88 L429.48,290.88 L429.81,290.88 L430.14,290.88 L430.48,290.88 L430.81,290.88 L431.14,290.88 L431.47,290.88 L431.80,290.88 L432.13,290.88 L432.46,290.88 L432.79,290.88 L433.12,290.88 L433.46,290.88 L433.79,290.88 L434.12,290.88 L434.45,290.88 L434.78,290.88 L435.11,290.88 L435.44,290.88 L435.78,290.88 L436.11,290.88 L436.44,290.88 L436.77,290.88 L437.10,290.88" fill="none" stroke="#33357a" stroke-width="0.85"/>
<rect x="458.50" y="271.50" width="26.50" height="20.80" fill="#fff" stroke="#4a4a4a" stroke-width="0.9"/>
<path d="M459.10,291.71 L459.42,291.71 L459.73,291.71 L460.05,291.71 L460.37,291.71 L460.68,291.71 L461.00,291.71 L461.31,291.71 L461.63,291.71 L461.95,291.71 L462.26,291.71 L462.58,291.71 L462.90,291.71 L463.21,291.71 L463.53,291.71 L463.84,291.71 L464.16,291.71 L464.48,291.71 L464.79,291.71 L465.11,291.71 L465.43,291.71 L465.74,291.71 L466.06,291.70 L466.37,291.70 L466.69,291.70 L467.01,291.69 L467.32,291.67 L467.64,291.65 L467.96,291.62 L468.27,291.58 L468.59,291.51 L468.90,291.40 L469.22,291.23 L469.54,290.98 L469.85,290.60 L470.17,290.01 L470.49,289.12 L470.80,287.77 L471.12,285.70 L471.43,282.54 L471.75,277.73 L472.07,282.54 L472.38,285.70 L472.70,287.77 L473.02,289.12 L473.33,290.01 L473.65,290.60 L473.96,290.98 L474.28,291.23 L474.60,291.40 L474.91,291.51 L475.23,291.58 L475.55,291.62 L475.86,291.65 L476.18,291.67 L476.49,291.69 L476.81,291.70 L477.13,291.70 L477.44,291.70 L477.76,291.71 L478.08,291.71 L478.39,291.71 L478.71,291.71 L479.02,291.71 L479.34,291.71 L479.66,291.71 L479.97,291.71 L480.29,291.71 L480.61,291.71 L480.92,291.71 L481.24,291.71 L481.55,291.71 L481.87,291.71 L482.19,291.71 L482.50,291.71 L482.82,291.71 L483.14,291.71 L483.45,291.71 L483.77,291.71 L484.08,291.71 L484.40,291.71" fill="none" stroke="#33357a" stroke-width="0.85"/>
<rect x="487.70" y="271.50" width="26.50" height="20.80" fill="#fff" stroke="#4a4a4a" stroke-width="0.9"/>
<path d="M488.30,291.90 L488.62,291.90 L488.93,291.90 L489.25,291.90 L489.56,291.90 L489.88,291.90 L490.20,291.90 L490.51,291.90 L490.83,291.90 L491.15,291.90 L491.46,291.90 L491.78,291.90 L492.10,291.90 L492.41,291.90 L492.73,291.90 L493.04,291.90 L493.36,291.90 L493.68,291.90 L493.99,291.90 L494.31,291.90 L494.62,291.90 L494.94,291.90 L495.26,291.90 L495.57,291.90 L495.89,291.90 L496.21,291.90 L496.52,291.90 L496.84,291.90 L497.16,291.90 L497.47,291.90 L497.79,291.90 L498.10,291.90 L498.42,291.90 L498.74,291.90 L499.05,291.90 L499.37,291.90 L499.69,291.90 L500.00,291.90 L500.32,291.90 L500.63,291.90 L500.95,291.90 L501.27,291.90 L501.58,291.90 L501.90,291.90 L502.22,291.90 L502.53,291.90 L502.85,291.90 L503.16,291.90 L503.48,291.90 L503.80,291.90 L504.11,291.90 L504.43,291.90 L504.75,291.90 L505.06,291.90 L505.38,291.90 L505.69,291.90 L506.01,291.90 L506.33,291.90 L506.64,291.90 L506.96,291.90 L507.28,291.90 L507.59,291.90 L507.91,291.90 L508.22,291.90 L508.54,291.90 L508.86,291.90 L509.17,291.90 L509.49,291.90 L509.81,291.90 L510.12,291.90 L510.44,291.90 L510.75,291.90 L511.07,291.90 L511.39,291.90 L511.70,291.90 L512.02,291.90 L512.34,291.90 L512.65,291.90 L512.97,291.90 L513.28,291.90 L513.60,291.90" fill="none" stroke="#33357a" stroke-width="0.85"/>
<line x1="377.40" y1="280.80" x2="380.80" y2="280.80" stroke="#444" stroke-width="0.7"/>
<text x="376.40" y="283.40" font-size="7.5" text-anchor="end">10</text>
<line x1="377.40" y1="292.00" x2="380.80" y2="292.00" stroke="#444" stroke-width="0.7"/>
<text x="376.40" y="294.60" font-size="7.5" text-anchor="end">0</text>
<line x1="455.10" y1="274.60" x2="458.50" y2="274.60" stroke="#444" stroke-width="0.7"/>
<text x="454.20" y="277.20" font-size="7.5" text-anchor="end">10</text>
<line x1="455.10" y1="283.80" x2="458.50" y2="283.80" stroke="#444" stroke-width="0.7"/>
<text x="454.20" y="286.40" font-size="7.5" text-anchor="end">5</text>
<clipPath id="hc1"><rect x="381.2" y="294.8" width="27.19999999999999" height="63.0"/></clipPath>
<g clip-path="url(#hc1)">
<defs><linearGradient id="vg2" x1="0" y1="0" x2="0" y2="1"><stop offset="0" stop-color="#d2e4f5" stop-opacity="1"/><stop offset="1" stop-color="#e8f1fa" stop-opacity="1"/></linearGradient></defs>
<rect x="381.20" y="294.80" width="27.20" height="63.00" fill="url(#vg2)"/>
<defs><linearGradient id="vg3" x1="0" y1="0" x2="0" y2="1"><stop offset="0" stop-color="#a9cbec" stop-opacity="0.8"/><stop offset="1" stop-color="#cfe1f4" stop-opacity="0.3"/></linearGradient></defs>
<path d="M390.30,292.8 L399.30,292.8 L396.80,357.80 L392.80,357.80 Z" fill="url(#vg3)" filter="url(#hb3)"/>
<defs><linearGradient id="vg4" x1="0" y1="0" x2="0" y2="1"><stop offset="0" stop-color="#0c3a75" stop-opacity="1"/><stop offset="1" stop-color="#4f82b8" stop-opacity="0.8"/></linearGradient></defs>
<path d="M393.50,292.8 L396.10,292.8 L395.40,357.80 L394.20,357.80 Z" fill="url(#vg4)" filter="url(#hb1)"/>
<path d="M381.2 296.3H408.4M381.2 298.9H408.4M381.2 302.6H408.4M381.2 304.5H408.4M381.2 307.5H408.4M381.2 310.6H408.4M381.2 314.6H408.4M381.2 317.6H408.4M381.2 319.3H408.4M381.2 323.5H408.4M381.2 326.0H408.4M381.2 329.3H408.4M381.2 332.0H408.4M381.2 334.6H408.4M381.2 337.3H408.4M381.2 341.3H408.4M381.2 343.6H408.4M381.2 347.2H408.4M381.2 350.0H408.4M381.2 352.7H408.4M381.2 356.4H408.4" stroke="#fff" stroke-width="0.6" opacity="0.18"/>
</g>
<clipPath id="hc5"><rect x="410.8" y="294.8" width="27.399999999999977" height="63.0"/></clipPath>
<g clip-path="url(#hc5)">
<defs><linearGradient id="vg6" x1="0" y1="0" x2="0" y2="1"><stop offset="0" stop-color="#fde4cc" stop-opacity="1"/><stop offset="1" stop-color="#fdeedf" stop-opacity="1"/></linearGradient></defs>
<rect x="410.80" y="294.80" width="27.40" height="63.00" fill="url(#vg6)"/>
<defs><linearGradient id="vg7" x1="0" y1="0" x2="0" y2="1"><stop offset="0" stop-color="#e9b07c" stop-opacity="1"/><stop offset="1" stop-color="#f3caa2" stop-opacity="0.7"/></linearGradient></defs>
<path d="M423.50,292.8 L425.50,292.8 L425.10,357.80 L423.90,357.80 Z" fill="url(#vg7)" filter="url(#hb1)"/>
<path d="M410.8 295.7H438.2M410.8 298.5H438.2M410.8 301.9H438.2M410.8 304.4H438.2M410.8 307.8H438.2M410.8 310.3H438.2M410.8 313.7H438.2M410.8 316.4H438.2M410.8 320.6H438.2M410.8 322.7H438.2M410.8 325.7H438.2M410.8 328.5H438.2M410.8 332.5H438.2M410.8 334.4H438.2M410.8 337.1H438.2M410.8 340.3H438.2M410.8 343.4H438.2M410.8 347.5H438.2M410.8 350.6H438.2M410.8 352.7H438.2M410.8 355.5H438.2" stroke="#fff" stroke-width="0.6" opacity="0.18"/>
</g>
<clipPath id="hc8"><rect x="458.6" y="294.8" width="26.19999999999999" height="63.0"/></clipPath>
<g clip-path="url(#hc8)">
<defs><linearGradient id="vg9" x1="0" y1="0" x2="0" y2="1"><stop offset="0" stop-color="#c3daf1" stop-opacity="1"/><stop offset="1" stop-color="#d9e7f6" stop-opacity="1"/></linearGradient></defs>
<rect x="458.60" y="294.80" width="26.20" height="63.00" fill="url(#vg9)"/>
<defs><linearGradient id="vg10" x1="0" y1="0" x2="0" y2="1"><stop offset="0" stop-color="#9fc5ea" stop-opacity="0.9"/><stop offset="1" stop-color="#c0d8f0" stop-opacity="0.4"/></linearGradient></defs>
<path d="M466.70,292.8 L476.70,292.8 L474.20,357.80 L469.20,357.80 Z" fill="url(#vg10)" filter="url(#hb3)"/>
<defs><linearGradient id="vg11" x1="0" y1="0" x2="0" y2="1"><stop offset="0" stop-color="#08306b" stop-opacity="1"/><stop offset="1" stop-color="#3d74b0" stop-opacity="0.6"/></linearGradient></defs>
<path d="M470.10,292.8 L473.30,292.8 L472.20,357.80 L471.20,357.80 Z" fill="url(#vg11)" filter="url(#hb1)"/>
<path d="M458.6 295.7H484.8M458.6 298.8H484.8M458.6 301.0H484.8M458.6 304.3H484.8M458.6 307.0H484.8M458.6 310.1H484.8M458.6 314.0H484.8M458.6 317.2H484.8M458.6 319.9H484.8M458.6 322.2H484.8M458.6 325.4H484.8M458.6 329.0H484.8M458.6 331.5H484.8M458.6 334.1H484.8M458.6 338.0H484.8M458.6 340.2H484.8M458.6 343.6H484.8M458.6 346.2H484.8M458.6 350.5H484.8M458.6 353.0H484.8M458.6 356.0H484.8" stroke="#fff" stroke-width="0.6" opacity="0.18"/>
</g>
<clipPath id="hc12"><rect x="487.8" y="294.8" width="26.80000000000001" height="63.0"/></clipPath>
<g clip-path="url(#hc12)">
<defs><linearGradient id="vg13" x1="0" y1="0" x2="0" y2="1"><stop offset="0" stop-color="#fcd9b5" stop-opacity="1"/><stop offset="1" stop-color="#fddcbb" stop-opacity="1"/></linearGradient></defs>
<rect x="487.80" y="294.80" width="26.80" height="63.00" fill="url(#vg13)"/>
<path d="M487.8 296.5H514.6M487.8 299.0H514.6M487.8 302.5H514.6M487.8 305.0H514.6M487.8 308.4H514.6M487.8 311.5H514.6M487.8 313.4H514.6M487.8 317.4H514.6M487.8 320.5H514.6M487.8 322.2H514.6M487.8 325.2H514.6M487.8 328.2H514.6M487.8 331.8H514.6M487.8 334.6H514.6M487.8 337.6H514.6M487.8 341.3H514.6M487.8 343.2H514.6M487.8 347.1H514.6M487.8 349.0H514.6M487.8 353.1H514.6M487.8 356.3H514.6" stroke="#fff" stroke-width="0.6" opacity="0.08"/>
</g>
<line x1="381.30" y1="358.60" x2="381.30" y2="361.60" stroke="#333" stroke-width="0.75"/>
<line x1="408.00" y1="358.60" x2="408.00" y2="361.60" stroke="#333" stroke-width="0.75"/>
<line x1="410.50" y1="358.60" x2="410.50" y2="361.60" stroke="#333" stroke-width="0.75"/>
<line x1="437.20" y1="358.60" x2="437.20" y2="361.60" stroke="#333" stroke-width="0.75"/>
<line x1="459.00" y1="358.60" x2="459.00" y2="361.60" stroke="#333" stroke-width="0.75"/>
<line x1="484.50" y1="358.60" x2="484.50" y2="361.60" stroke="#333" stroke-width="0.75"/>
<line x1="488.20" y1="358.60" x2="488.20" y2="361.60" stroke="#333" stroke-width="0.75"/>
<line x1="513.70" y1="358.60" x2="513.70" y2="361.60" stroke="#333" stroke-width="0.75"/>
<text x="365.40" y="370.20" font-size="7.5">Kb</text>
<text x="379.60" y="370.00" font-size="7.5">−5</text>
<text x="408.30" y="370.00" font-size="7.5" text-anchor="end">5</text>
<text x="408.80" y="370.00" font-size="7.5">−5</text>
<text x="437.50" y="370.00" font-size="7.5" text-anchor="end">5</text>
<text x="457.30" y="370.00" font-size="7.5">−5</text>
<text x="484.80" y="370.00" font-size="7.5" text-anchor="end">5</text>
<text x="486.50" y="370.00" font-size="7.5">−5</text>
<text x="514.00" y="370.00" font-size="7.5" text-anchor="end">5</text>
<rect x="380.40" y="378.20" width="27.90" height="7.40" fill="url(#cbB)" stroke="#333" stroke-width="0.75"/>
<line x1="381.52" y1="385.60" x2="381.52" y2="387.80" stroke="#333" stroke-width="0.7"/>
<text x="381.52" y="397.60" font-size="7.6" text-anchor="middle">0</text>
<line x1="392.68" y1="385.60" x2="392.68" y2="387.80" stroke="#333" stroke-width="0.7"/>
<text x="392.68" y="397.60" font-size="7.6" text-anchor="middle">5</text>
<line x1="403.28" y1="385.60" x2="403.28" y2="387.80" stroke="#333" stroke-width="0.7"/>
<text x="403.28" y="397.60" font-size="7.6" text-anchor="middle">10</text>
<rect x="410.20" y="378.20" width="27.80" height="7.40" fill="url(#cbO)" stroke="#333" stroke-width="0.75"/>
<line x1="411.31" y1="385.60" x2="411.31" y2="387.80" stroke="#333" stroke-width="0.7"/>
<text x="411.31" y="397.60" font-size="7.6" text-anchor="middle">0</text>
<line x1="422.43" y1="385.60" x2="422.43" y2="387.80" stroke="#333" stroke-width="0.7"/>
<text x="422.43" y="397.60" font-size="7.6" text-anchor="middle">5</text>
<line x1="433.00" y1="385.60" x2="433.00" y2="387.80" stroke="#333" stroke-width="0.7"/>
<text x="433.00" y="397.60" font-size="7.6" text-anchor="middle">10</text>
<rect x="457.60" y="378.20" width="26.80" height="8.00" fill="url(#cbB)" stroke="#333" stroke-width="0.75"/>
<line x1="458.14" y1="386.20" x2="458.14" y2="388.40" stroke="#333" stroke-width="0.7"/>
<text x="458.14" y="397.60" font-size="7.6" text-anchor="middle">0</text>
<line x1="466.44" y1="386.20" x2="466.44" y2="388.40" stroke="#333" stroke-width="0.7"/>
<text x="466.44" y="397.60" font-size="7.6" text-anchor="middle">2.5</text>
<line x1="477.43" y1="386.20" x2="477.43" y2="388.40" stroke="#333" stroke-width="0.7"/>
<text x="477.43" y="397.60" font-size="7.6" text-anchor="middle">5</text>
<rect x="488.00" y="378.20" width="27.00" height="8.00" fill="url(#cbO)" stroke="#333" stroke-width="0.75"/>
<line x1="488.40" y1="386.20" x2="488.40" y2="388.40" stroke="#333" stroke-width="0.7"/>
<text x="488.00" y="397.60" font-size="7.6" text-anchor="middle">0</text>
<line x1="496.10" y1="386.20" x2="496.10" y2="388.40" stroke="#333" stroke-width="0.7"/>
<text x="496.10" y="397.60" font-size="7.6" text-anchor="middle">2.5</text>
<line x1="507.44" y1="386.20" x2="507.44" y2="388.40" stroke="#333" stroke-width="0.7"/>
<text x="507.44" y="397.60" font-size="7.6" text-anchor="middle">5</text>
<text x="369.60" y="327.00" font-size="5.6" text-anchor="middle" transform="rotate(-90 369.60 327.00)">ATAC peaks</text>
<text x="376.20" y="327.00" font-size="5.6" text-anchor="middle" transform="rotate(-90 376.20 327.00)">(DOWN in KO)</text>
<text x="447.40" y="326.00" font-size="5.6" text-anchor="middle" transform="rotate(-90 447.40 326.00)">ATAC peaks</text>
<text x="454.00" y="326.00" font-size="5.6" text-anchor="middle" transform="rotate(-90 454.00 326.00)">(DOWN in KO)</text>
<text x="1.20" y="424.70" font-size="10.0" font-weight="bold" fill="#000" class="nc">J</text>
<text x="35.20" y="439.00" font-size="7.1" text-anchor="end">SMARCA4</text>
<text x="68.40" y="424.40" font-size="7.2" text-anchor="middle">SMARCC1</text>
<line x1="40.40" y1="428.30" x2="96.40" y2="428.30" stroke="#707070" stroke-width="1.0"/>
<text x="52.60" y="438.80" font-size="7.2" text-anchor="middle">WT</text>
<text x="83.00" y="438.80" font-size="7.2" text-anchor="middle">KO</text>
<text x="127.30" y="424.40" font-size="7.2" text-anchor="middle">ARID1A</text>
<line x1="99.20" y1="428.30" x2="155.40" y2="428.30" stroke="#707070" stroke-width="1.0"/>
<text x="111.40" y="438.80" font-size="7.2" text-anchor="middle">WT</text>
<text x="142.00" y="438.80" font-size="7.2" text-anchor="middle">KO</text>
<text x="186.10" y="424.40" font-size="7.2" text-anchor="middle">PBRM1</text>
<line x1="158.00" y1="428.30" x2="214.20" y2="428.30" stroke="#707070" stroke-width="1.0"/>
<text x="170.20" y="438.80" font-size="7.2" text-anchor="middle">WT</text>
<text x="200.80" y="438.80" font-size="7.2" text-anchor="middle">KO</text>
<text x="244.95" y="424.40" font-size="7.2" text-anchor="middle">BRD9</text>
<line x1="216.90" y1="428.30" x2="273.00" y2="428.30" stroke="#707070" stroke-width="1.0"/>
<text x="229.10" y="438.80" font-size="7.2" text-anchor="middle">WT</text>
<text x="259.60" y="438.80" font-size="7.2" text-anchor="middle">KO</text>
<rect x="40.40" y="441.40" width="26.80" height="20.80" fill="#fff" stroke="#4a4a4a" stroke-width="0.9"/>
<path d="M41.00,459.79 L41.32,459.79 L41.64,459.79 L41.96,459.79 L42.28,459.79 L42.60,459.79 L42.92,459.79 L43.24,459.79 L43.56,459.79 L43.88,459.79 L44.20,459.79 L44.52,459.79 L44.84,459.79 L45.16,459.79 L45.48,459.79 L45.80,459.79 L46.12,459.79 L46.44,459.79 L46.76,459.79 L47.08,459.79 L47.40,459.79 L47.72,459.79 L48.04,459.79 L48.36,459.79 L48.68,459.79 L49.00,459.79 L49.32,459.79 L49.64,459.78 L49.96,459.78 L50.28,459.76 L50.60,459.74 L50.92,459.70 L51.24,459.63 L51.56,459.50 L51.88,459.26 L52.20,458.85 L52.52,458.10 L52.84,456.77 L53.16,454.39 L53.48,450.13 L53.80,442.50 L54.12,450.13 L54.44,454.39 L54.76,456.77 L55.08,458.10 L55.40,458.85 L55.72,459.26 L56.04,459.50 L56.36,459.63 L56.68,459.70 L57.00,459.74 L57.32,459.76 L57.64,459.78 L57.96,459.78 L58.28,459.79 L58.60,459.79 L58.92,459.79 L59.24,459.79 L59.56,459.79 L59.88,459.79 L60.20,459.79 L60.52,459.79 L60.84,459.79 L61.16,459.79 L61.48,459.79 L61.80,459.79 L62.12,459.79 L62.44,459.79 L62.76,459.79 L63.08,459.79 L63.40,459.79 L63.72,459.79 L64.04,459.79 L64.36,459.79 L64.68,459.79 L65.00,459.79 L65.32,459.79 L65.64,459.79 L65.96,459.79 L66.28,459.79 L66.60,459.79" fill="none" stroke="#33357a" stroke-width="0.85"/>
<rect x="69.60" y="441.40" width="26.80" height="20.80" fill="#fff" stroke="#4a4a4a" stroke-width="0.9"/>
<path d="M70.20,460.16 L70.52,460.16 L70.84,460.16 L71.16,460.16 L71.48,460.16 L71.80,460.16 L72.12,460.16 L72.44,460.16 L72.76,460.16 L73.08,460.16 L73.40,460.16 L73.72,460.16 L74.04,460.16 L74.36,460.16 L74.68,460.16 L75.00,460.16 L75.32,460.16 L75.64,460.16 L75.96,460.16 L76.28,460.16 L76.60,460.16 L76.92,460.16 L77.24,460.16 L77.56,460.16 L77.88,460.16 L78.20,460.15 L78.52,460.15 L78.84,460.15 L79.16,460.15 L79.48,460.14 L79.80,460.13 L80.12,460.12 L80.44,460.11 L80.76,460.09 L81.08,460.07 L81.40,460.03 L81.72,459.98 L82.04,459.91 L82.36,459.82 L82.68,459.69 L83.00,459.52 L83.32,459.69 L83.64,459.82 L83.96,459.91 L84.28,459.98 L84.60,460.03 L84.92,460.07 L85.24,460.09 L85.56,460.11 L85.88,460.12 L86.20,460.13 L86.52,460.14 L86.84,460.15 L87.16,460.15 L87.48,460.15 L87.80,460.15 L88.12,460.16 L88.44,460.16 L88.76,460.16 L89.08,460.16 L89.40,460.16 L89.72,460.16 L90.04,460.16 L90.36,460.16 L90.68,460.16 L91.00,460.16 L91.32,460.16 L91.64,460.16 L91.96,460.16 L92.28,460.16 L92.60,460.16 L92.92,460.16 L93.24,460.16 L93.56,460.16 L93.88,460.16 L94.20,460.16 L94.52,460.16 L94.84,460.16 L95.16,460.16 L95.48,460.16 L95.80,460.16" fill="none" stroke="#33357a" stroke-width="0.85"/>
<rect x="99.20" y="441.40" width="26.80" height="20.80" fill="#fff" stroke="#4a4a4a" stroke-width="0.9"/>
<path d="M99.80,459.79 L100.12,459.79 L100.44,459.79 L100.76,459.79 L101.08,459.79 L101.40,459.79 L101.72,459.79 L102.04,459.79 L102.36,459.79 L102.68,459.79 L103.00,459.79 L103.32,459.79 L103.64,459.79 L103.96,459.79 L104.28,459.79 L104.60,459.79 L104.92,459.79 L105.24,459.79 L105.56,459.79 L105.88,459.79 L106.20,459.79 L106.52,459.79 L106.84,459.79 L107.16,459.79 L107.48,459.79 L107.80,459.79 L108.12,459.79 L108.44,459.78 L108.76,459.78 L109.08,459.76 L109.40,459.74 L109.72,459.70 L110.04,459.63 L110.36,459.50 L110.68,459.26 L111.00,458.85 L111.32,458.10 L111.64,456.77 L111.96,454.39 L112.28,450.13 L112.60,442.50 L112.92,450.13 L113.24,454.39 L113.56,456.77 L113.88,458.10 L114.20,458.85 L114.52,459.26 L114.84,459.50 L115.16,459.63 L115.48,459.70 L115.80,459.74 L116.12,459.76 L116.44,459.78 L116.76,459.78 L117.08,459.79 L117.40,459.79 L117.72,459.79 L118.04,459.79 L118.36,459.79 L118.68,459.79 L119.00,459.79 L119.32,459.79 L119.64,459.79 L119.96,459.79 L120.28,459.79 L120.60,459.79 L120.92,459.79 L121.24,459.79 L121.56,459.79 L121.88,459.79 L122.20,459.79 L122.52,459.79 L122.84,459.79 L123.16,459.79 L123.48,459.79 L123.80,459.79 L124.12,459.79 L124.44,459.79 L124.76,459.79 L125.08,459.79 L125.40,459.79" fill="none" stroke="#33357a" stroke-width="0.85"/>
<rect x="128.60" y="441.40" width="26.80" height="20.80" fill="#fff" stroke="#4a4a4a" stroke-width="0.9"/>
<path d="M129.20,460.16 L129.52,460.16 L129.84,460.16 L130.16,460.16 L130.48,460.16 L130.80,460.16 L131.12,460.16 L131.44,460.16 L131.76,460.16 L132.08,460.16 L132.40,460.16 L132.72,460.16 L133.04,460.16 L133.36,460.16 L133.68,460.16 L134.00,460.16 L134.32,460.16 L134.64,460.16 L134.96,460.16 L135.28,460.16 L135.60,460.16 L135.92,460.16 L136.24,460.16 L136.56,460.16 L136.88,460.16 L137.20,460.16 L137.52,460.15 L137.84,460.15 L138.16,460.15 L138.48,460.14 L138.80,460.14 L139.12,460.13 L139.44,460.12 L139.76,460.10 L140.08,460.08 L140.40,460.05 L140.72,460.01 L141.04,459.95 L141.36,459.87 L141.68,459.76 L142.00,459.61 L142.32,459.76 L142.64,459.87 L142.96,459.95 L143.28,460.01 L143.60,460.05 L143.92,460.08 L144.24,460.10 L144.56,460.12 L144.88,460.13 L145.20,460.14 L145.52,460.14 L145.84,460.15 L146.16,460.15 L146.48,460.15 L146.80,460.16 L147.12,460.16 L147.44,460.16 L147.76,460.16 L148.08,460.16 L148.40,460.16 L148.72,460.16 L149.04,460.16 L149.36,460.16 L149.68,460.16 L150.00,460.16 L150.32,460.16 L150.64,460.16 L150.96,460.16 L151.28,460.16 L151.60,460.16 L151.92,460.16 L152.24,460.16 L152.56,460.16 L152.88,460.16 L153.20,460.16 L153.52,460.16 L153.84,460.16 L154.16,460.16 L154.48,460.16 L154.80,460.16" fill="none" stroke="#33357a" stroke-width="0.85"/>
<rect x="158.00" y="441.40" width="26.80" height="20.80" fill="#fff" stroke="#4a4a4a" stroke-width="0.9"/>
<path d="M158.60,459.79 L158.92,459.79 L159.24,459.79 L159.56,459.79 L159.88,459.79 L160.20,459.79 L160.52,459.79 L160.84,459.79 L161.16,459.79 L161.48,459.79 L161.80,459.79 L162.12,459.79 L162.44,459.79 L162.76,459.79 L163.08,459.79 L163.40,459.79 L163.72,459.79 L164.04,459.79 L164.36,459.79 L164.68,459.79 L165.00,459.79 L165.32,459.79 L165.64,459.79 L165.96,459.79 L166.28,459.79 L166.60,459.79 L166.92,459.79 L167.24,459.78 L167.56,459.78 L167.88,459.77 L168.20,459.75 L168.52,459.73 L168.84,459.69 L169.16,459.63 L169.48,459.53 L169.80,459.38 L170.12,459.14 L170.44,458.76 L170.76,458.17 L171.08,457.23 L171.40,455.74 L171.72,457.23 L172.04,458.17 L172.36,458.76 L172.68,459.14 L173.00,459.38 L173.32,459.53 L173.64,459.63 L173.96,459.69 L174.28,459.73 L174.60,459.75 L174.92,459.77 L175.24,459.78 L175.56,459.78 L175.88,459.79 L176.20,459.79 L176.52,459.79 L176.84,459.79 L177.16,459.79 L177.48,459.79 L177.80,459.79 L178.12,459.79 L178.44,459.79 L178.76,459.79 L179.08,459.79 L179.40,459.79 L179.72,459.79 L180.04,459.79 L180.36,459.79 L180.68,459.79 L181.00,459.79 L181.32,459.79 L181.64,459.79 L181.96,459.79 L182.28,459.79 L182.60,459.79 L182.92,459.79 L183.24,459.79 L183.56,459.79 L183.88,459.79 L184.20,459.79" fill="none" stroke="#33357a" stroke-width="0.85"/>
<rect x="187.40" y="441.40" width="26.80" height="20.80" fill="#fff" stroke="#4a4a4a" stroke-width="0.9"/>
<path d="M188.00,460.16 L188.32,460.16 L188.64,460.16 L188.96,460.16 L189.28,460.16 L189.60,460.16 L189.92,460.16 L190.24,460.16 L190.56,460.16 L190.88,460.16 L191.20,460.16 L191.52,460.16 L191.84,460.16 L192.16,460.16 L192.48,460.16 L192.80,460.16 L193.12,460.16 L193.44,460.16 L193.76,460.16 L194.08,460.16 L194.40,460.16 L194.72,460.16 L195.04,460.16 L195.36,460.16 L195.68,460.16 L196.00,460.16 L196.32,460.16 L196.64,460.16 L196.96,460.16 L197.28,460.16 L197.60,460.16 L197.92,460.16 L198.24,460.16 L198.56,460.16 L198.88,460.16 L199.20,460.16 L199.52,460.16 L199.84,460.16 L200.16,460.16 L200.48,460.16 L200.80,460.16 L201.12,460.16 L201.44,460.16 L201.76,460.16 L202.08,460.16 L202.40,460.16 L202.72,460.16 L203.04,460.16 L203.36,460.16 L203.68,460.16 L204.00,460.16 L204.32,460.16 L204.64,460.16 L204.96,460.16 L205.28,460.16 L205.60,460.16 L205.92,460.16 L206.24,460.16 L206.56,460.16 L206.88,460.16 L207.20,460.16 L207.52,460.16 L207.84,460.16 L208.16,460.16 L208.48,460.16 L208.80,460.16 L209.12,460.16 L209.44,460.16 L209.76,460.16 L210.08,460.16 L210.40,460.16 L210.72,460.16 L211.04,460.16 L211.36,460.16 L211.68,460.16 L212.00,460.16 L212.32,460.16 L212.64,460.16 L212.96,460.16 L213.28,460.16 L213.60,460.16" fill="none" stroke="#33357a" stroke-width="0.85"/>
<rect x="216.90" y="441.40" width="26.80" height="20.80" fill="#fff" stroke="#4a4a4a" stroke-width="0.9"/>
<path d="M217.50,459.79 L217.82,459.79 L218.14,459.79 L218.46,459.79 L218.78,459.79 L219.10,459.79 L219.42,459.79 L219.74,459.79 L220.06,459.79 L220.38,459.79 L220.70,459.79 L221.02,459.79 L221.34,459.79 L221.66,459.79 L221.98,459.79 L222.30,459.79 L222.62,459.79 L222.94,459.79 L223.26,459.79 L223.58,459.79 L223.90,459.79 L224.22,459.79 L224.54,459.79 L224.86,459.79 L225.18,459.79 L225.50,459.79 L225.82,459.79 L226.14,459.78 L226.46,459.78 L226.78,459.77 L227.10,459.75 L227.42,459.73 L227.74,459.69 L228.06,459.63 L228.38,459.53 L228.70,459.38 L229.02,459.14 L229.34,458.76 L229.66,458.17 L229.98,457.23 L230.30,455.74 L230.62,457.23 L230.94,458.17 L231.26,458.76 L231.58,459.14 L231.90,459.38 L232.22,459.53 L232.54,459.63 L232.86,459.69 L233.18,459.73 L233.50,459.75 L233.82,459.77 L234.14,459.78 L234.46,459.78 L234.78,459.79 L235.10,459.79 L235.42,459.79 L235.74,459.79 L236.06,459.79 L236.38,459.79 L236.70,459.79 L237.02,459.79 L237.34,459.79 L237.66,459.79 L237.98,459.79 L238.30,459.79 L238.62,459.79 L238.94,459.79 L239.26,459.79 L239.58,459.79 L239.90,459.79 L240.22,459.79 L240.54,459.79 L240.86,459.79 L241.18,459.79 L241.50,459.79 L241.82,459.79 L242.14,459.79 L242.46,459.79 L242.78,459.79 L243.10,459.79" fill="none" stroke="#33357a" stroke-width="0.85"/>
<rect x="246.20" y="441.40" width="26.80" height="20.80" fill="#fff" stroke="#4a4a4a" stroke-width="0.9"/>
<path d="M246.80,460.16 L247.12,460.16 L247.44,460.16 L247.76,460.16 L248.08,460.16 L248.40,460.16 L248.72,460.16 L249.04,460.16 L249.36,460.16 L249.68,460.16 L250.00,460.16 L250.32,460.16 L250.64,460.16 L250.96,460.16 L251.28,460.16 L251.60,460.16 L251.92,460.16 L252.24,460.16 L252.56,460.16 L252.88,460.16 L253.20,460.16 L253.52,460.16 L253.84,460.16 L254.16,460.16 L254.48,460.16 L254.80,460.16 L255.12,460.16 L255.44,460.16 L255.76,460.16 L256.08,460.16 L256.40,460.16 L256.72,460.16 L257.04,460.16 L257.36,460.16 L257.68,460.16 L258.00,460.16 L258.32,460.16 L258.64,460.16 L258.96,460.16 L259.28,460.16 L259.60,460.16 L259.92,460.16 L260.24,460.16 L260.56,460.16 L260.88,460.16 L261.20,460.16 L261.52,460.16 L261.84,460.16 L262.16,460.16 L262.48,460.16 L262.80,460.16 L263.12,460.16 L263.44,460.16 L263.76,460.16 L264.08,460.16 L264.40,460.16 L264.72,460.16 L265.04,460.16 L265.36,460.16 L265.68,460.16 L266.00,460.16 L266.32,460.16 L266.64,460.16 L266.96,460.16 L267.28,460.16 L267.60,460.16 L267.92,460.16 L268.24,460.16 L268.56,460.16 L268.88,460.16 L269.20,460.16 L269.52,460.16 L269.84,460.16 L270.16,460.16 L270.48,460.16 L270.80,460.16 L271.12,460.16 L271.44,460.16 L271.76,460.16 L272.08,460.16 L272.40,460.16" fill="none" stroke="#33357a" stroke-width="0.85"/>
<line x1="37.00" y1="444.40" x2="40.40" y2="444.40" stroke="#444" stroke-width="0.7"/>
<text x="36.60" y="447.00" font-size="7.5" text-anchor="end">10</text>
<line x1="37.00" y1="454.10" x2="40.40" y2="454.10" stroke="#444" stroke-width="0.7"/>
<text x="36.60" y="456.70" font-size="7.5" text-anchor="end">5</text>
<clipPath id="hc14"><rect x="40.4" y="464.0" width="26.800000000000004" height="64.20000000000005"/></clipPath>
<g clip-path="url(#hc14)">
<defs><linearGradient id="vg15" x1="0" y1="0" x2="0" y2="1"><stop offset="0" stop-color="#aecdeb" stop-opacity="1"/><stop offset="1" stop-color="#cfe2f4" stop-opacity="1"/></linearGradient></defs>
<rect x="40.40" y="464.00" width="26.80" height="64.20" fill="url(#vg15)"/>
<defs><linearGradient id="vg16" x1="0" y1="0" x2="0" y2="1"><stop offset="0" stop-color="#8ab8e3" stop-opacity="0.8"/><stop offset="1" stop-color="#b9d5ef" stop-opacity="0.3"/></linearGradient></defs>
<path d="M48.80,462.0 L58.80,462.0 L55.80,528.20 L51.80,528.20 Z" fill="url(#vg16)" filter="url(#hb3)"/>
<defs><linearGradient id="vg17" x1="0" y1="0" x2="0" y2="1"><stop offset="0" stop-color="#08306b" stop-opacity="1"/><stop offset="1" stop-color="#1d5a9c" stop-opacity="0.7"/></linearGradient></defs>
<path d="M51.90,462.0 L55.70,462.0 L54.15,528.20 L53.45,528.20 Z" fill="url(#vg17)" filter="url(#hb1)"/>
<path d="M40.4 464.6H67.2M40.4 467.5H67.2M40.4 471.7H67.2M40.4 474.5H67.2M40.4 477.0H67.2M40.4 479.2H67.2M40.4 482.4H67.2M40.4 485.8H67.2M40.4 489.4H67.2M40.4 491.7H67.2M40.4 495.7H67.2M40.4 498.3H67.2M40.4 500.3H67.2M40.4 504.8H67.2M40.4 506.7H67.2M40.4 510.6H67.2M40.4 513.4H67.2M40.4 516.4H67.2M40.4 518.7H67.2M40.4 522.7H67.2M40.4 524.5H67.2" stroke="#fff" stroke-width="0.6" opacity="0.18"/>
</g>
<line x1="40.90" y1="528.40" x2="40.90" y2="531.40" stroke="#333" stroke-width="0.75"/>
<line x1="66.70" y1="528.40" x2="66.70" y2="531.40" stroke="#333" stroke-width="0.75"/>
<clipPath id="hc18"><rect x="69.6" y="464.0" width="26.799999999999997" height="64.20000000000005"/></clipPath>
<g clip-path="url(#hc18)">
<defs><linearGradient id="vg19" x1="0" y1="0" x2="0" y2="1"><stop offset="0" stop-color="#fbd5ae" stop-opacity="1"/><stop offset="1" stop-color="#fcdfc3" stop-opacity="1"/></linearGradient></defs>
<rect x="69.60" y="464.00" width="26.80" height="64.20" fill="url(#vg19)"/>
<defs><linearGradient id="vg20" x1="0" y1="0" x2="0" y2="1"><stop offset="0" stop-color="#eeb27e" stop-opacity="0.9"/><stop offset="1" stop-color="#f5cba3" stop-opacity="0.5"/></linearGradient></defs>
<path d="M82.00,462.0 L84.00,462.0 L83.70,528.20 L82.30,528.20 Z" fill="url(#vg20)" filter="url(#hb1)"/>
<path d="M69.6 465.3H96.39999999999999M69.6 468.8H96.39999999999999M69.6 471.6H96.39999999999999M69.6 473.5H96.39999999999999M69.6 476.4H96.39999999999999M69.6 480.5H96.39999999999999M69.6 483.5H96.39999999999999M69.6 485.8H96.39999999999999M69.6 489.5H96.39999999999999M69.6 492.2H96.39999999999999M69.6 495.7H96.39999999999999M69.6 498.3H96.39999999999999M69.6 501.6H96.39999999999999M69.6 504.1H96.39999999999999M69.6 507.4H96.39999999999999M69.6 509.8H96.39999999999999M69.6 513.6H96.39999999999999M69.6 515.7H96.39999999999999M69.6 519.5H96.39999999999999M69.6 521.8H96.39999999999999M69.6 524.3H96.39999999999999" stroke="#fff" stroke-width="0.6" opacity="0.18"/>
</g>
<line x1="70.10" y1="528.40" x2="70.10" y2="531.40" stroke="#333" stroke-width="0.75"/>
<line x1="95.90" y1="528.40" x2="95.90" y2="531.40" stroke="#333" stroke-width="0.75"/>
<clipPath id="hc21"><rect x="99.2" y="464.0" width="26.799999999999997" height="64.20000000000005"/></clipPath>
<g clip-path="url(#hc21)">
<defs><linearGradient id="vg22" x1="0" y1="0" x2="0" y2="1"><stop offset="0" stop-color="#b2cfec" stop-opacity="1"/><stop offset="1" stop-color="#d0e3f4" stop-opacity="1"/></linearGradient></defs>
<rect x="99.20" y="464.00" width="26.80" height="64.20" fill="url(#vg22)"/>
<defs><linearGradient id="vg23" x1="0" y1="0" x2="0" y2="1"><stop offset="0" stop-color="#8ab8e3" stop-opacity="0.8"/><stop offset="1" stop-color="#b9d5ef" stop-opacity="0.3"/></linearGradient></defs>
<path d="M107.60,462.0 L117.60,462.0 L114.60,528.20 L110.60,528.20 Z" fill="url(#vg23)" filter="url(#hb3)"/>
<defs><linearGradient id="vg24" x1="0" y1="0" x2="0" y2="1"><stop offset="0" stop-color="#08306b" stop-opacity="1"/><stop offset="1" stop-color="#1d5a9c" stop-opacity="0.7"/></linearGradient></defs>
<path d="M110.80,462.0 L114.40,462.0 L112.95,528.20 L112.25,528.20 Z" fill="url(#vg24)" filter="url(#hb1)"/>
<path d="M99.2 465.6H126.0M99.2 468.1H126.0M99.2 470.6H126.0M99.2 474.1H126.0M99.2 476.3H126.0M99.2 479.7H126.0M99.2 482.6H126.0M99.2 486.2H126.0M99.2 489.3H126.0M99.2 492.2H126.0M99.2 495.1H126.0M99.2 497.6H126.0M99.2 501.0H126.0M99.2 504.6H126.0M99.2 506.8H126.0M99.2 510.3H126.0M99.2 513.6H126.0M99.2 515.6H126.0M99.2 519.1H126.0M99.2 521.9H126.0M99.2 525.3H126.0" stroke="#fff" stroke-width="0.6" opacity="0.18"/>
</g>
<line x1="99.70" y1="528.40" x2="99.70" y2="531.40" stroke="#333" stroke-width="0.75"/>
<line x1="125.50" y1="528.40" x2="125.50" y2="531.40" stroke="#333" stroke-width="0.75"/>
<clipPath id="hc25"><rect x="128.6" y="464.0" width="26.80000000000001" height="64.20000000000005"/></clipPath>
<g clip-path="url(#hc25)">
<defs><linearGradient id="vg26" x1="0" y1="0" x2="0" y2="1"><stop offset="0" stop-color="#fbd7b2" stop-opacity="1"/><stop offset="1" stop-color="#fce0c6" stop-opacity="1"/></linearGradient></defs>
<rect x="128.60" y="464.00" width="26.80" height="64.20" fill="url(#vg26)"/>
<defs><linearGradient id="vg27" x1="0" y1="0" x2="0" y2="1"><stop offset="0" stop-color="#f2be8e" stop-opacity="0.8"/><stop offset="1" stop-color="#f7d2ad" stop-opacity="0.4"/></linearGradient></defs>
<path d="M141.10,462.0 L142.90,462.0 L142.60,528.20 L141.40,528.20 Z" fill="url(#vg27)" filter="url(#hb1)"/>
<path d="M128.6 464.3H155.4M128.6 467.2H155.4M128.6 470.6H155.4M128.6 474.5H155.4M128.6 476.8H155.4M128.6 479.9H155.4M128.6 483.6H155.4M128.6 486.0H155.4M128.6 489.0H155.4M128.6 492.5H155.4M128.6 495.2H155.4M128.6 498.3H155.4M128.6 501.3H155.4M128.6 504.5H155.4M128.6 506.4H155.4M128.6 510.2H155.4M128.6 513.2H155.4M128.6 515.8H155.4M128.6 518.4H155.4M128.6 521.7H155.4M128.6 524.7H155.4" stroke="#fff" stroke-width="0.6" opacity="0.18"/>
</g>
<line x1="129.10" y1="528.40" x2="129.10" y2="531.40" stroke="#333" stroke-width="0.75"/>
<line x1="154.90" y1="528.40" x2="154.90" y2="531.40" stroke="#333" stroke-width="0.75"/>
<clipPath id="hc28"><rect x="158" y="464.0" width="26.80000000000001" height="64.20000000000005"/></clipPath>
<g clip-path="url(#hc28)">
<defs><linearGradient id="vg29" x1="0" y1="0" x2="0" y2="1"><stop offset="0" stop-color="#bcd6ef" stop-opacity="1"/><stop offset="1" stop-color="#d5e6f6" stop-opacity="1"/></linearGradient></defs>
<rect x="158.00" y="464.00" width="26.80" height="64.20" fill="url(#vg29)"/>
<defs><linearGradient id="vg30" x1="0" y1="0" x2="0" y2="1"><stop offset="0" stop-color="#98c0e7" stop-opacity="0.8"/><stop offset="1" stop-color="#c2daf1" stop-opacity="0.3"/></linearGradient></defs>
<path d="M166.90,462.0 L175.90,462.0 L172.90,528.20 L169.90,528.20 Z" fill="url(#vg30)" filter="url(#hb3)"/>
<defs><linearGradient id="vg31" x1="0" y1="0" x2="0" y2="1"><stop offset="0" stop-color="#0f4487" stop-opacity="1"/><stop offset="1" stop-color="#4a85c2" stop-opacity="0.5"/></linearGradient></defs>
<path d="M170.00,462.0 L172.80,462.0 L171.75,528.20 L171.05,528.20 Z" fill="url(#vg31)" filter="url(#hb1)"/>
<path d="M158 465.3H184.8M158 467.2H184.8M158 471.6H184.8M158 473.2H184.8M158 476.2H184.8M158 480.1H184.8M158 483.1H184.8M158 485.3H184.8M158 489.1H184.8M158 492.3H184.8M158 494.6H184.8M158 498.4H184.8M158 501.2H184.8M158 503.3H184.8M158 507.1H184.8M158 510.0H184.8M158 513.3H184.8M158 516.2H184.8M158 519.7H184.8M158 522.4H184.8M158 524.2H184.8" stroke="#fff" stroke-width="0.6" opacity="0.18"/>
</g>
<line x1="158.50" y1="528.40" x2="158.50" y2="531.40" stroke="#333" stroke-width="0.75"/>
<line x1="184.30" y1="528.40" x2="184.30" y2="531.40" stroke="#333" stroke-width="0.75"/>
<clipPath id="hc32"><rect x="187.4" y="464.0" width="26.80000000000001" height="64.20000000000005"/></clipPath>
<g clip-path="url(#hc32)">
<defs><linearGradient id="vg33" x1="0" y1="0" x2="0" y2="1"><stop offset="0" stop-color="#fbd8b4" stop-opacity="1"/><stop offset="1" stop-color="#fce0c6" stop-opacity="1"/></linearGradient></defs>
<rect x="187.40" y="464.00" width="26.80" height="64.20" fill="url(#vg33)"/>
<path d="M187.4 464.8H214.20000000000002M187.4 467.8H214.20000000000002M187.4 471.3H214.20000000000002M187.4 474.5H214.20000000000002M187.4 476.3H214.20000000000002M187.4 480.5H214.20000000000002M187.4 483.3H214.20000000000002M187.4 486.7H214.20000000000002M187.4 488.9H214.20000000000002M187.4 492.1H214.20000000000002M187.4 494.5H214.20000000000002M187.4 497.9H214.20000000000002M187.4 500.2H214.20000000000002M187.4 503.4H214.20000000000002M187.4 507.3H214.20000000000002M187.4 510.1H214.20000000000002M187.4 513.0H214.20000000000002M187.4 515.4H214.20000000000002M187.4 518.2H214.20000000000002M187.4 522.6H214.20000000000002M187.4 524.4H214.20000000000002" stroke="#fff" stroke-width="0.6" opacity="0.18"/>
</g>
<line x1="187.90" y1="528.40" x2="187.90" y2="531.40" stroke="#333" stroke-width="0.75"/>
<line x1="213.70" y1="528.40" x2="213.70" y2="531.40" stroke="#333" stroke-width="0.75"/>
<clipPath id="hc34"><rect x="216.9" y="464.0" width="26.80000000000001" height="64.20000000000005"/></clipPath>
<g clip-path="url(#hc34)">
<defs><linearGradient id="vg35" x1="0" y1="0" x2="0" y2="1"><stop offset="0" stop-color="#b8d3ee" stop-opacity="1"/><stop offset="1" stop-color="#d3e5f5" stop-opacity="1"/></linearGradient></defs>
<rect x="216.90" y="464.00" width="26.80" height="64.20" fill="url(#vg35)"/>
<defs><linearGradient id="vg36" x1="0" y1="0" x2="0" y2="1"><stop offset="0" stop-color="#95bfe6" stop-opacity="0.8"/><stop offset="1" stop-color="#c0d8f0" stop-opacity="0.3"/></linearGradient></defs>
<path d="M225.80,462.0 L234.80,462.0 L231.80,528.20 L228.80,528.20 Z" fill="url(#vg36)" filter="url(#hb3)"/>
<defs><linearGradient id="vg37" x1="0" y1="0" x2="0" y2="1"><stop offset="0" stop-color="#0d4182" stop-opacity="1"/><stop offset="1" stop-color="#4a85c2" stop-opacity="0.5"/></linearGradient></defs>
<path d="M228.80,462.0 L231.80,462.0 L230.65,528.20 L229.95,528.20 Z" fill="url(#vg37)" filter="url(#hb1)"/>
<path d="M216.9 464.3H243.70000000000002M216.9 467.4H243.70000000000002M216.9 471.1H243.70000000000002M216.9 474.1H243.70000000000002M216.9 477.5H243.70000000000002M216.9 480.5H243.70000000000002M216.9 482.3H243.70000000000002M216.9 485.8H243.70000000000002M216.9 489.2H243.70000000000002M216.9 492.1H243.70000000000002M216.9 495.3H243.70000000000002M216.9 497.7H243.70000000000002M216.9 500.7H243.70000000000002M216.9 503.8H243.70000000000002M216.9 507.3H243.70000000000002M216.9 510.1H243.70000000000002M216.9 513.5H243.70000000000002M216.9 516.6H243.70000000000002M216.9 519.8H243.70000000000002M216.9 521.3H243.70000000000002M216.9 525.4H243.70000000000002" stroke="#fff" stroke-width="0.6" opacity="0.18"/>
</g>
<line x1="217.40" y1="528.40" x2="217.40" y2="531.40" stroke="#333" stroke-width="0.75"/>
<line x1="243.20" y1="528.40" x2="243.20" y2="531.40" stroke="#333" stroke-width="0.75"/>
<clipPath id="hc38"><rect x="246.2" y="464.0" width="26.80000000000001" height="64.20000000000005"/></clipPath>
<g clip-path="url(#hc38)">
<defs><linearGradient id="vg39" x1="0" y1="0" x2="0" y2="1"><stop offset="0" stop-color="#fbd7b2" stop-opacity="1"/><stop offset="1" stop-color="#fce0c6" stop-opacity="1"/></linearGradient></defs>
<rect x="246.20" y="464.00" width="26.80" height="64.20" fill="url(#vg39)"/>
<path d="M246.2 464.7H273.0M246.2 467.8H273.0M246.2 470.6H273.0M246.2 473.6H273.0M246.2 477.6H273.0M246.2 479.6H273.0M246.2 483.4H273.0M246.2 485.8H273.0M246.2 488.9H273.0M246.2 492.0H273.0M246.2 494.5H273.0M246.2 497.3H273.0M246.2 501.7H273.0M246.2 504.4H273.0M246.2 507.1H273.0M246.2 509.2H273.0M246.2 512.5H273.0M246.2 515.3H273.0M246.2 519.8H273.0M246.2 522.2H273.0M246.2 524.6H273.0" stroke="#fff" stroke-width="0.6" opacity="0.18"/>
</g>
<line x1="246.70" y1="528.40" x2="246.70" y2="531.40" stroke="#333" stroke-width="0.75"/>
<line x1="272.50" y1="528.40" x2="272.50" y2="531.40" stroke="#333" stroke-width="0.75"/>
<text x="24.20" y="539.00" font-size="7.5">Kb</text>
<text x="39.20" y="538.80" font-size="7.5">−5</text>
<text x="66.60" y="538.80" font-size="7.5" text-anchor="end">5</text>
<text x="68.40" y="538.80" font-size="7.5">−5</text>
<text x="95.80" y="538.80" font-size="7.5" text-anchor="end">5</text>
<text x="98.00" y="538.80" font-size="7.5">−5</text>
<text x="125.40" y="538.80" font-size="7.5" text-anchor="end">5</text>
<text x="127.40" y="538.80" font-size="7.5">−5</text>
<text x="154.80" y="538.80" font-size="7.5" text-anchor="end">5</text>
<text x="156.80" y="538.80" font-size="7.5">−5</text>
<text x="184.20" y="538.80" font-size="7.5" text-anchor="end">5</text>
<text x="186.20" y="538.80" font-size="7.5">−5</text>
<text x="213.60" y="538.80" font-size="7.5" text-anchor="end">5</text>
<text x="215.70" y="538.80" font-size="7.5">−5</text>
<text x="243.10" y="538.80" font-size="7.5" text-anchor="end">5</text>
<text x="245.00" y="538.80" font-size="7.5">−5</text>
<text x="272.40" y="538.80" font-size="7.5" text-anchor="end">5</text>
<rect x="39.60" y="542.60" width="27.20" height="7.60" fill="url(#cbB)" stroke="#333" stroke-width="0.75"/>
<line x1="40.14" y1="550.20" x2="40.14" y2="552.40" stroke="#333" stroke-width="0.7"/>
<text x="40.14" y="562.20" font-size="7.6" text-anchor="middle">0</text>
<line x1="48.85" y1="550.20" x2="48.85" y2="552.40" stroke="#333" stroke-width="0.7"/>
<text x="48.85" y="562.20" font-size="7.6" text-anchor="middle">2.5</text>
<line x1="60.00" y1="550.20" x2="60.00" y2="552.40" stroke="#333" stroke-width="0.7"/>
<text x="60.00" y="562.20" font-size="7.6" text-anchor="middle">5</text>
<rect x="69.40" y="542.60" width="26.80" height="7.60" fill="url(#cbO)" stroke="#333" stroke-width="0.75"/>
<line x1="70.20" y1="550.20" x2="70.20" y2="552.40" stroke="#333" stroke-width="0.7"/>
<text x="70.20" y="562.20" font-size="7.6" text-anchor="middle">0</text>
<line x1="78.78" y1="550.20" x2="78.78" y2="552.40" stroke="#333" stroke-width="0.7"/>
<text x="78.78" y="562.20" font-size="7.6" text-anchor="middle">2.5</text>
<line x1="89.23" y1="550.20" x2="89.23" y2="552.40" stroke="#333" stroke-width="0.7"/>
<text x="89.23" y="562.20" font-size="7.6" text-anchor="middle">5</text>
<text x="29.70" y="493.60" font-size="5.6" text-anchor="middle" transform="rotate(-90 29.70 493.60)">ATAC peaks</text>
<text x="36.30" y="493.60" font-size="5.6" text-anchor="middle" transform="rotate(-90 36.30 493.60)">(DOWN in KO)</text>
<text x="296.80" y="424.50" font-size="10.0" font-weight="bold" fill="#000" class="nc">K</text>
<text x="332.00" y="439.00" font-size="7.1" text-anchor="end">SMARCA4</text>
<text x="366.05" y="424.40" font-size="7.2" text-anchor="middle">H3K27ac</text>
<line x1="337.60" y1="428.30" x2="394.50" y2="428.30" stroke="#707070" stroke-width="1.0"/>
<text x="350.05" y="438.80" font-size="7.2" text-anchor="middle">WT</text>
<text x="380.85" y="438.80" font-size="7.2" text-anchor="middle">KO</text>
<text x="425.40" y="424.40" font-size="7.2" text-anchor="middle">H3K4me1</text>
<line x1="396.90" y1="428.30" x2="453.90" y2="428.30" stroke="#707070" stroke-width="1.0"/>
<text x="409.35" y="438.80" font-size="7.2" text-anchor="middle">WT</text>
<text x="440.25" y="438.80" font-size="7.2" text-anchor="middle">KO</text>
<text x="484.75" y="424.40" font-size="7.2" text-anchor="middle">H3K4me3</text>
<line x1="456.30" y1="428.30" x2="513.20" y2="428.30" stroke="#707070" stroke-width="1.0"/>
<text x="468.75" y="438.80" font-size="7.2" text-anchor="middle">WT</text>
<text x="499.55" y="438.80" font-size="7.2" text-anchor="middle">KO</text>
<rect x="337.60" y="441.40" width="27.30" height="20.80" fill="#fff" stroke="#4a4a4a" stroke-width="0.9"/>
<path d="M338.20,459.98 L338.53,459.98 L338.85,459.97 L339.18,459.97 L339.51,459.97 L339.83,459.97 L340.16,459.97 L340.48,459.97 L340.81,459.97 L341.14,459.97 L341.46,459.97 L341.79,459.97 L342.12,459.97 L342.44,459.96 L342.77,459.96 L343.09,459.95 L343.42,459.95 L343.75,459.94 L344.07,459.93 L344.40,459.92 L344.73,459.91 L345.05,459.89 L345.38,459.87 L345.70,459.84 L346.03,459.80 L346.36,459.76 L346.68,459.70 L347.01,459.63 L347.34,459.54 L347.66,459.42 L347.99,459.28 L348.31,459.09 L348.64,458.86 L348.97,458.57 L349.29,458.20 L349.62,457.74 L349.95,457.15 L350.27,456.41 L350.60,455.47 L350.92,454.29 L351.25,452.80 L351.58,454.29 L351.90,455.47 L352.23,456.41 L352.56,457.15 L352.88,457.74 L353.21,458.20 L353.53,458.57 L353.86,458.86 L354.19,459.09 L354.51,459.28 L354.84,459.42 L355.17,459.54 L355.49,459.63 L355.82,459.70 L356.14,459.76 L356.47,459.80 L356.80,459.84 L357.12,459.87 L357.45,459.89 L357.78,459.91 L358.10,459.92 L358.43,459.93 L358.75,459.94 L359.08,459.95 L359.41,459.95 L359.73,459.96 L360.06,459.96 L360.39,459.97 L360.71,459.97 L361.04,459.97 L361.36,459.97 L361.69,459.97 L362.02,459.97 L362.34,459.97 L362.67,459.97 L363.00,459.97 L363.32,459.97 L363.65,459.97 L363.97,459.98 L364.30,459.98" fill="none" stroke="#33357a" stroke-width="0.85"/>
<rect x="367.20" y="441.40" width="27.30" height="20.80" fill="#fff" stroke="#4a4a4a" stroke-width="0.9"/>
<path d="M367.80,460.34 L368.13,460.34 L368.45,460.34 L368.78,460.34 L369.11,460.34 L369.43,460.34 L369.76,460.34 L370.08,460.34 L370.41,460.34 L370.74,460.34 L371.06,460.34 L371.39,460.34 L371.72,460.34 L372.04,460.34 L372.37,460.34 L372.69,460.34 L373.02,460.34 L373.35,460.34 L373.67,460.33 L374.00,460.33 L374.32,460.33 L374.65,460.33 L374.98,460.32 L375.30,460.32 L375.63,460.31 L375.96,460.30 L376.28,460.29 L376.61,460.28 L376.94,460.26 L377.26,460.24 L377.59,460.22 L377.91,460.19 L378.24,460.15 L378.57,460.10 L378.89,460.04 L379.22,459.97 L379.55,459.88 L379.87,459.77 L380.20,459.63 L380.52,459.46 L380.85,459.24 L381.18,459.46 L381.50,459.63 L381.83,459.77 L382.16,459.88 L382.48,459.97 L382.81,460.04 L383.13,460.10 L383.46,460.15 L383.79,460.19 L384.11,460.22 L384.44,460.24 L384.77,460.26 L385.09,460.28 L385.42,460.29 L385.74,460.30 L386.07,460.31 L386.40,460.32 L386.72,460.32 L387.05,460.33 L387.38,460.33 L387.70,460.33 L388.03,460.33 L388.35,460.34 L388.68,460.34 L389.01,460.34 L389.33,460.34 L389.66,460.34 L389.99,460.34 L390.31,460.34 L390.64,460.34 L390.96,460.34 L391.29,460.34 L391.62,460.34 L391.94,460.34 L392.27,460.34 L392.60,460.34 L392.92,460.34 L393.25,460.34 L393.57,460.34 L393.90,460.34" fill="none" stroke="#33357a" stroke-width="0.85"/>
<rect x="396.90" y="441.40" width="27.30" height="20.80" fill="#fff" stroke="#4a4a4a" stroke-width="0.9"/>
<path d="M397.50,457.10 L397.83,457.07 L398.15,457.04 L398.48,457.02 L398.81,456.99 L399.13,456.95 L399.46,456.92 L399.78,456.88 L400.11,456.83 L400.44,456.79 L400.76,456.73 L401.09,456.68 L401.42,456.62 L401.74,456.55 L402.07,456.47 L402.39,456.39 L402.72,456.29 L403.05,456.19 L403.37,456.07 L403.70,455.93 L404.02,455.78 L404.35,455.61 L404.68,455.41 L405.00,455.18 L405.33,454.92 L405.66,454.61 L405.98,454.26 L406.31,453.84 L406.63,453.34 L406.96,452.76 L407.29,452.06 L407.61,451.23 L407.94,450.25 L408.27,449.08 L408.59,447.73 L408.92,446.19 L409.25,444.52 L409.57,442.84 L409.90,441.35 L410.22,440.30 L410.55,439.92 L410.88,440.30 L411.20,441.35 L411.53,442.84 L411.86,444.52 L412.18,446.19 L412.51,447.73 L412.83,449.08 L413.16,450.25 L413.49,451.23 L413.81,452.06 L414.14,452.76 L414.47,453.34 L414.79,453.84 L415.12,454.26 L415.44,454.61 L415.77,454.92 L416.10,455.18 L416.42,455.41 L416.75,455.61 L417.07,455.78 L417.40,455.93 L417.73,456.07 L418.05,456.19 L418.38,456.29 L418.71,456.39 L419.03,456.47 L419.36,456.55 L419.69,456.62 L420.01,456.68 L420.34,456.73 L420.66,456.79 L420.99,456.83 L421.32,456.88 L421.64,456.92 L421.97,456.95 L422.30,456.99 L422.62,457.02 L422.95,457.04 L423.27,457.07 L423.60,457.10" fill="none" stroke="#33357a" stroke-width="0.85"/>
<rect x="426.60" y="441.40" width="27.30" height="20.80" fill="#fff" stroke="#4a4a4a" stroke-width="0.9"/>
<path d="M427.20,459.24 L427.53,459.24 L427.85,459.24 L428.18,459.24 L428.51,459.24 L428.83,459.24 L429.16,459.24 L429.48,459.24 L429.81,459.24 L430.14,459.24 L430.46,459.23 L430.79,459.23 L431.12,459.23 L431.44,459.23 L431.77,459.22 L432.09,459.22 L432.42,459.22 L432.75,459.21 L433.07,459.20 L433.40,459.19 L433.73,459.18 L434.05,459.16 L434.38,459.14 L434.70,459.12 L435.03,459.09 L435.36,459.04 L435.68,458.99 L436.01,458.93 L436.34,458.85 L436.66,458.74 L436.99,458.61 L437.31,458.45 L437.64,458.24 L437.97,457.98 L438.29,457.65 L438.62,457.23 L438.95,456.70 L439.27,456.04 L439.60,455.20 L439.92,454.14 L440.25,452.80 L440.58,454.14 L440.90,455.20 L441.23,456.04 L441.56,456.70 L441.88,457.23 L442.21,457.65 L442.53,457.98 L442.86,458.24 L443.19,458.45 L443.51,458.61 L443.84,458.74 L444.17,458.85 L444.49,458.93 L444.82,458.99 L445.14,459.04 L445.47,459.09 L445.80,459.12 L446.12,459.14 L446.45,459.16 L446.78,459.18 L447.10,459.19 L447.43,459.20 L447.75,459.21 L448.08,459.22 L448.41,459.22 L448.73,459.22 L449.06,459.23 L449.39,459.23 L449.71,459.23 L450.04,459.23 L450.36,459.24 L450.69,459.24 L451.02,459.24 L451.34,459.24 L451.67,459.24 L452.00,459.24 L452.32,459.24 L452.65,459.24 L452.97,459.24 L453.30,459.24" fill="none" stroke="#33357a" stroke-width="0.85"/>
<rect x="456.30" y="441.40" width="27.30" height="20.80" fill="#fff" stroke="#4a4a4a" stroke-width="0.9"/>
<path d="M456.90,459.24 L457.23,459.24 L457.55,459.24 L457.88,459.24 L458.21,459.24 L458.53,459.24 L458.86,459.24 L459.18,459.24 L459.51,459.24 L459.84,459.24 L460.16,459.24 L460.49,459.24 L460.82,459.24 L461.14,459.24 L461.47,459.24 L461.79,459.24 L462.12,459.24 L462.45,459.24 L462.77,459.24 L463.10,459.24 L463.43,459.24 L463.75,459.24 L464.08,459.24 L464.40,459.24 L464.73,459.24 L465.06,459.24 L465.38,459.24 L465.71,459.23 L466.04,459.21 L466.36,459.16 L466.69,459.04 L467.01,458.80 L467.34,458.35 L467.67,457.58 L467.99,456.40 L468.32,454.75 L468.65,452.71 L468.97,450.51 L469.30,448.49 L469.62,447.06 L469.95,446.54 L470.28,447.06 L470.60,448.49 L470.93,450.51 L471.26,452.71 L471.58,454.75 L471.91,456.40 L472.23,457.58 L472.56,458.35 L472.89,458.80 L473.21,459.04 L473.54,459.16 L473.87,459.21 L474.19,459.23 L474.52,459.24 L474.84,459.24 L475.17,459.24 L475.50,459.24 L475.82,459.24 L476.15,459.24 L476.48,459.24 L476.80,459.24 L477.13,459.24 L477.45,459.24 L477.78,459.24 L478.11,459.24 L478.43,459.24 L478.76,459.24 L479.09,459.24 L479.41,459.24 L479.74,459.24 L480.06,459.24 L480.39,459.24 L480.72,459.24 L481.04,459.24 L481.37,459.24 L481.70,459.24 L482.02,459.24 L482.35,459.24 L482.67,459.24 L483.00,459.24" fill="none" stroke="#33357a" stroke-width="0.85"/>
<rect x="485.90" y="441.40" width="27.30" height="20.80" fill="#fff" stroke="#4a4a4a" stroke-width="0.9"/>
<path d="M486.50,460.16 L486.83,460.16 L487.15,460.16 L487.48,460.16 L487.81,460.16 L488.13,460.16 L488.46,460.16 L488.78,460.16 L489.11,460.16 L489.44,460.16 L489.76,460.16 L490.09,460.16 L490.42,460.16 L490.74,460.16 L491.07,460.16 L491.39,460.16 L491.72,460.16 L492.05,460.16 L492.37,460.15 L492.70,460.15 L493.02,460.15 L493.35,460.15 L493.68,460.14 L494.00,460.14 L494.33,460.13 L494.66,460.13 L494.98,460.12 L495.31,460.10 L495.63,460.08 L495.96,460.06 L496.29,460.03 L496.61,459.98 L496.94,459.93 L497.27,459.86 L497.59,459.76 L497.92,459.64 L498.25,459.48 L498.57,459.26 L498.90,458.98 L499.22,458.62 L499.55,458.14 L499.88,458.62 L500.20,458.98 L500.53,459.26 L500.85,459.48 L501.18,459.64 L501.51,459.76 L501.83,459.86 L502.16,459.93 L502.49,459.98 L502.81,460.03 L503.14,460.06 L503.46,460.08 L503.79,460.10 L504.12,460.12 L504.44,460.13 L504.77,460.13 L505.10,460.14 L505.42,460.14 L505.75,460.15 L506.07,460.15 L506.40,460.15 L506.73,460.15 L507.05,460.16 L507.38,460.16 L507.71,460.16 L508.03,460.16 L508.36,460.16 L508.68,460.16 L509.01,460.16 L509.34,460.16 L509.66,460.16 L509.99,460.16 L510.32,460.16 L510.64,460.16 L510.97,460.16 L511.29,460.16 L511.62,460.16 L511.95,460.16 L512.27,460.16 L512.60,460.16" fill="none" stroke="#33357a" stroke-width="0.85"/>
<line x1="334.20" y1="443.80" x2="337.60" y2="443.80" stroke="#444" stroke-width="0.7"/>
<text x="333.40" y="446.40" font-size="7.5" text-anchor="end">10</text>
<line x1="334.20" y1="453.00" x2="337.60" y2="453.00" stroke="#444" stroke-width="0.7"/>
<text x="333.40" y="455.60" font-size="7.5" text-anchor="end">5</text>
<line x1="334.20" y1="462.00" x2="337.60" y2="462.00" stroke="#444" stroke-width="0.7"/>
<text x="333.40" y="464.60" font-size="7.5" text-anchor="end">0</text>
<clipPath id="hc40"><rect x="337.6" y="464.0" width="27.30000000000001" height="64.20000000000005"/></clipPath>
<g clip-path="url(#hc40)">
<defs><linearGradient id="vg41" x1="0" y1="0" x2="0" y2="1"><stop offset="0" stop-color="#d9e8f6" stop-opacity="1"/><stop offset="1" stop-color="#ecf3fb" stop-opacity="1"/></linearGradient></defs>
<rect x="337.60" y="464.00" width="27.30" height="64.20" fill="url(#vg41)"/>
<defs><linearGradient id="vg42" x1="0" y1="0" x2="0" y2="1"><stop offset="0" stop-color="#a9cbec" stop-opacity="0.9"/><stop offset="1" stop-color="#c6dcf1" stop-opacity="0.6"/></linearGradient></defs>
<path d="M349.65,462.0 L352.85,462.0 L351.85,528.20 L350.65,528.20 Z" fill="url(#vg42)" filter="url(#hb2)"/>
<defs><linearGradient id="vg43" x1="0" y1="0" x2="0" y2="1"><stop offset="0" stop-color="#8fbde6" stop-opacity="0.9"/><stop offset="1" stop-color="#dbe9f6" stop-opacity="0"/></linearGradient></defs>
<path d="M345.25,462.0 L357.25,462.0 L352.25,496.10 L350.25,496.10 Z" fill="url(#vg43)" filter="url(#hb3)"/>
<defs><linearGradient id="vg44" x1="0" y1="0" x2="0" y2="1"><stop offset="0" stop-color="#114f96" stop-opacity="1"/><stop offset="1" stop-color="#6aa2d4" stop-opacity="0"/></linearGradient></defs>
<path d="M348.65,462.0 L353.85,462.0 L351.45,487.11 L351.05,487.11 Z" fill="url(#vg44)" filter="url(#hb1)"/>
<path d="M337.6 465.5H364.90000000000003M337.6 468.4H364.90000000000003M337.6 471.4H364.90000000000003M337.6 474.7H364.90000000000003M337.6 476.7H364.90000000000003M337.6 479.5H364.90000000000003M337.6 482.2H364.90000000000003M337.6 486.7H364.90000000000003M337.6 489.1H364.90000000000003M337.6 491.7H364.90000000000003M337.6 495.0H364.90000000000003M337.6 498.3H364.90000000000003M337.6 500.4H364.90000000000003M337.6 503.3H364.90000000000003M337.6 506.9H364.90000000000003M337.6 510.4H364.90000000000003M337.6 512.5H364.90000000000003M337.6 515.8H364.90000000000003M337.6 519.1H364.90000000000003M337.6 521.9H364.90000000000003M337.6 524.4H364.90000000000003" stroke="#fff" stroke-width="0.6" opacity="0.18"/>
</g>
<line x1="338.10" y1="528.40" x2="338.10" y2="531.40" stroke="#333" stroke-width="0.75"/>
<line x1="364.40" y1="528.40" x2="364.40" y2="531.40" stroke="#333" stroke-width="0.75"/>
<clipPath id="hc45"><rect x="367.2" y="464.0" width="27.30000000000001" height="64.20000000000005"/></clipPath>
<g clip-path="url(#hc45)">
<defs><linearGradient id="vg46" x1="0" y1="0" x2="0" y2="1"><stop offset="0" stop-color="#fde5cf" stop-opacity="1"/><stop offset="1" stop-color="#feefe3" stop-opacity="1"/></linearGradient></defs>
<rect x="367.20" y="464.00" width="27.30" height="64.20" fill="url(#vg46)"/>
<defs><linearGradient id="vg47" x1="0" y1="0" x2="0" y2="1"><stop offset="0" stop-color="#f5c9a0" stop-opacity="0.8"/><stop offset="1" stop-color="#fbe0c8" stop-opacity="0.3"/></linearGradient></defs>
<path d="M379.65,462.0 L382.05,462.0 L381.55,528.20 L380.15,528.20 Z" fill="url(#vg47)" filter="url(#hb1)"/>
<path d="M367.2 464.5H394.5M367.2 467.3H394.5M367.2 470.4H394.5M367.2 474.1H394.5M367.2 477.5H394.5M367.2 479.3H394.5M367.2 483.3H394.5M367.2 486.5H394.5M367.2 488.4H394.5M367.2 492.7H394.5M367.2 494.5H394.5M367.2 497.7H394.5M367.2 501.3H394.5M367.2 503.5H394.5M367.2 507.1H394.5M367.2 510.3H394.5M367.2 513.3H394.5M367.2 516.6H394.5M367.2 518.6H394.5M367.2 521.5H394.5M367.2 524.7H394.5" stroke="#fff" stroke-width="0.6" opacity="0.18"/>
</g>
<line x1="367.70" y1="528.40" x2="367.70" y2="531.40" stroke="#333" stroke-width="0.75"/>
<line x1="394.00" y1="528.40" x2="394.00" y2="531.40" stroke="#333" stroke-width="0.75"/>
<clipPath id="hc48"><rect x="396.9" y="464.0" width="27.30000000000001" height="64.20000000000005"/></clipPath>
<g clip-path="url(#hc48)">
<defs><linearGradient id="vg49" x1="0" y1="0" x2="0" y2="1"><stop offset="0" stop-color="#d3e4f5" stop-opacity="1"/><stop offset="1" stop-color="#e9f2fa" stop-opacity="1"/></linearGradient></defs>
<rect x="396.90" y="464.00" width="27.30" height="64.20" fill="url(#vg49)"/>
<defs><linearGradient id="vg50" x1="0" y1="0" x2="0" y2="1"><stop offset="0" stop-color="#4a8ccc" stop-opacity="0.85"/><stop offset="1" stop-color="#a9cbec" stop-opacity="0.5"/></linearGradient></defs>
<path d="M402.55,462.0 L418.55,462.0 L412.05,528.20 L409.05,528.20 Z" fill="url(#vg50)" filter="url(#hb3)"/>
<defs><linearGradient id="vg51" x1="0" y1="0" x2="0" y2="1"><stop offset="0" stop-color="#0b4a90" stop-opacity="1"/><stop offset="1" stop-color="#4f8cc8" stop-opacity="0.6"/></linearGradient></defs>
<path d="M407.15,462.0 L413.95,462.0 L411.25,526.27 L409.85,526.27 Z" fill="url(#vg51)" filter="url(#hb1)"/>
<path d="M396.9 464.8H424.2M396.9 467.4H424.2M396.9 471.4H424.2M396.9 474.4H424.2M396.9 476.5H424.2M396.9 479.5H424.2M396.9 482.6H424.2M396.9 486.0H424.2M396.9 489.3H424.2M396.9 492.3H424.2M396.9 494.8H424.2M396.9 497.9H424.2M396.9 501.3H424.2M396.9 504.7H424.2M396.9 507.6H424.2M396.9 510.8H424.2M396.9 513.3H424.2M396.9 516.2H424.2M396.9 519.3H424.2M396.9 522.6H424.2M396.9 525.5H424.2" stroke="#fff" stroke-width="0.6" opacity="0.18"/>
</g>
<line x1="397.40" y1="528.40" x2="397.40" y2="531.40" stroke="#333" stroke-width="0.75"/>
<line x1="423.70" y1="528.40" x2="423.70" y2="531.40" stroke="#333" stroke-width="0.75"/>
<clipPath id="hc52"><rect x="426.6" y="464.0" width="27.30000000000001" height="64.20000000000005"/></clipPath>
<g clip-path="url(#hc52)">
<defs><linearGradient id="vg53" x1="0" y1="0" x2="0" y2="1"><stop offset="0" stop-color="#fde2c9" stop-opacity="1"/><stop offset="1" stop-color="#feeee1" stop-opacity="1"/></linearGradient></defs>
<rect x="426.60" y="464.00" width="27.30" height="64.20" fill="url(#vg53)"/>
<defs><linearGradient id="vg54" x1="0" y1="0" x2="0" y2="1"><stop offset="0" stop-color="#f6ae72" stop-opacity="0.8"/><stop offset="1" stop-color="#fbdcc0" stop-opacity="0.2"/></linearGradient></defs>
<path d="M433.75,462.0 L446.75,462.0 L441.45,521.78 L439.05,521.78 Z" fill="url(#vg54)" filter="url(#hb3)"/>
<defs><linearGradient id="vg55" x1="0" y1="0" x2="0" y2="1"><stop offset="0" stop-color="#ea7d34" stop-opacity="1"/><stop offset="1" stop-color="#f6c59a" stop-opacity="0.3"/></linearGradient></defs>
<path d="M437.85,462.0 L442.65,462.0 L440.75,518.57 L439.75,518.57 Z" fill="url(#vg55)" filter="url(#hb1)"/>
<path d="M426.6 464.7H453.90000000000003M426.6 467.2H453.90000000000003M426.6 471.2H453.90000000000003M426.6 473.8H453.90000000000003M426.6 476.4H453.90000000000003M426.6 480.1H453.90000000000003M426.6 482.7H453.90000000000003M426.6 486.4H453.90000000000003M426.6 488.2H453.90000000000003M426.6 492.5H453.90000000000003M426.6 495.1H453.90000000000003M426.6 497.9H453.90000000000003M426.6 501.2H453.90000000000003M426.6 504.4H453.90000000000003M426.6 506.2H453.90000000000003M426.6 510.7H453.90000000000003M426.6 512.4H453.90000000000003M426.6 515.4H453.90000000000003M426.6 518.5H453.90000000000003M426.6 521.9H453.90000000000003M426.6 525.8H453.90000000000003" stroke="#fff" stroke-width="0.6" opacity="0.18"/>
</g>
<line x1="427.10" y1="528.40" x2="427.10" y2="531.40" stroke="#333" stroke-width="0.75"/>
<line x1="453.40" y1="528.40" x2="453.40" y2="531.40" stroke="#333" stroke-width="0.75"/>
<clipPath id="hc56"><rect x="456.3" y="464.0" width="27.30000000000001" height="64.20000000000005"/></clipPath>
<g clip-path="url(#hc56)">
<defs><linearGradient id="vg57" x1="0" y1="0" x2="0" y2="1"><stop offset="0" stop-color="#dbe9f7" stop-opacity="1"/><stop offset="1" stop-color="#edf4fb" stop-opacity="1"/></linearGradient></defs>
<rect x="456.30" y="464.00" width="27.30" height="64.20" fill="url(#vg57)"/>
<defs><linearGradient id="vg58" x1="0" y1="0" x2="0" y2="1"><stop offset="0" stop-color="#a6c9ea" stop-opacity="0.9"/><stop offset="1" stop-color="#d6e6f5" stop-opacity="0.5"/></linearGradient></defs>
<path d="M464.95,462.0 L474.95,462.0 L471.45,528.20 L468.45,528.20 Z" fill="url(#vg58)" filter="url(#hb3)"/>
<defs><linearGradient id="vg59" x1="0" y1="0" x2="0" y2="1"><stop offset="0" stop-color="#1f63aa" stop-opacity="1"/><stop offset="1" stop-color="#7eb0dc" stop-opacity="0.6"/></linearGradient></defs>
<path d="M468.05,462.0 L471.85,462.0 L470.45,528.20 L469.45,528.20 Z" fill="url(#vg59)" filter="url(#hb1)"/>
<path d="M456.3 464.6H483.6M456.3 468.3H483.6M456.3 470.6H483.6M456.3 473.5H483.6M456.3 477.6H483.6M456.3 480.2H483.6M456.3 483.5H483.6M456.3 486.0H483.6M456.3 488.5H483.6M456.3 492.0H483.6M456.3 494.7H483.6M456.3 498.2H483.6M456.3 500.3H483.6M456.3 503.3H483.6M456.3 507.3H483.6M456.3 509.8H483.6M456.3 512.7H483.6M456.3 515.7H483.6M456.3 518.5H483.6M456.3 521.3H483.6M456.3 525.2H483.6" stroke="#fff" stroke-width="0.6" opacity="0.18"/>
</g>
<line x1="456.80" y1="528.40" x2="456.80" y2="531.40" stroke="#333" stroke-width="0.75"/>
<line x1="483.10" y1="528.40" x2="483.10" y2="531.40" stroke="#333" stroke-width="0.75"/>
<clipPath id="hc60"><rect x="485.9" y="464.0" width="27.299999999999955" height="64.20000000000005"/></clipPath>
<g clip-path="url(#hc60)">
<defs><linearGradient id="vg61" x1="0" y1="0" x2="0" y2="1"><stop offset="0" stop-color="#fde9d8" stop-opacity="1"/><stop offset="1" stop-color="#fef1e6" stop-opacity="1"/></linearGradient></defs>
<rect x="485.90" y="464.00" width="27.30" height="64.20" fill="url(#vg61)"/>
<defs><linearGradient id="vg62" x1="0" y1="0" x2="0" y2="1"><stop offset="0" stop-color="#f6d2b0" stop-opacity="0.8"/><stop offset="1" stop-color="#fbe3cf" stop-opacity="0.4"/></linearGradient></defs>
<path d="M498.55,462.0 L500.55,462.0 L500.15,528.20 L498.95,528.20 Z" fill="url(#vg62)" filter="url(#hb1)"/>
<path d="M485.9 464.4H513.1999999999999M485.9 468.0H513.1999999999999M485.9 470.6H513.1999999999999M485.9 473.7H513.1999999999999M485.9 477.5H513.1999999999999M485.9 480.1H513.1999999999999M485.9 483.2H513.1999999999999M485.9 486.0H513.1999999999999M485.9 488.5H513.1999999999999M485.9 491.7H513.1999999999999M485.9 495.4H513.1999999999999M485.9 497.2H513.1999999999999M485.9 501.6H513.1999999999999M485.9 503.8H513.1999999999999M485.9 506.8H513.1999999999999M485.9 509.8H513.1999999999999M485.9 512.4H513.1999999999999M485.9 515.8H513.1999999999999M485.9 518.9H513.1999999999999M485.9 522.4H513.1999999999999M485.9 524.6H513.1999999999999" stroke="#fff" stroke-width="0.6" opacity="0.18"/>
</g>
<line x1="486.40" y1="528.40" x2="486.40" y2="531.40" stroke="#333" stroke-width="0.75"/>
<line x1="512.70" y1="528.40" x2="512.70" y2="531.40" stroke="#333" stroke-width="0.75"/>
<text x="320.60" y="540.00" font-size="7.5">Kb</text>
<text x="336.60" y="539.80" font-size="7.5">−5</text>
<text x="363.70" y="539.80" font-size="7.5" text-anchor="end">5</text>
<text x="366.20" y="539.80" font-size="7.5">−5</text>
<text x="393.30" y="539.80" font-size="7.5" text-anchor="end">5</text>
<text x="395.90" y="539.80" font-size="7.5">−5</text>
<text x="423.00" y="539.80" font-size="7.5" text-anchor="end">5</text>
<text x="425.60" y="539.80" font-size="7.5">−5</text>
<text x="452.70" y="539.80" font-size="7.5" text-anchor="end">5</text>
<text x="455.30" y="539.80" font-size="7.5">−5</text>
<text x="482.40" y="539.80" font-size="7.5" text-anchor="end">5</text>
<text x="484.90" y="539.80" font-size="7.5">−5</text>
<text x="512.00" y="539.80" font-size="7.5" text-anchor="end">5</text>
<rect x="337.60" y="543.80" width="27.40" height="7.50" fill="url(#cbB)" stroke="#333" stroke-width="0.75"/>
<line x1="338.15" y1="551.30" x2="338.15" y2="553.50" stroke="#333" stroke-width="0.7"/>
<text x="338.15" y="562.60" font-size="7.6" text-anchor="middle">0</text>
<line x1="348.01" y1="551.30" x2="348.01" y2="553.50" stroke="#333" stroke-width="0.7"/>
<text x="348.01" y="562.60" font-size="7.6" text-anchor="middle">6</text>
<line x1="358.15" y1="551.30" x2="358.15" y2="553.50" stroke="#333" stroke-width="0.7"/>
<text x="358.15" y="562.60" font-size="7.6" text-anchor="middle">12</text>
<rect x="367.20" y="543.80" width="27.40" height="7.50" fill="url(#cbO)" stroke="#333" stroke-width="0.75"/>
<line x1="367.75" y1="551.30" x2="367.75" y2="553.50" stroke="#333" stroke-width="0.7"/>
<text x="367.75" y="562.60" font-size="7.6" text-anchor="middle">0</text>
<line x1="377.61" y1="551.30" x2="377.61" y2="553.50" stroke="#333" stroke-width="0.7"/>
<text x="377.61" y="562.60" font-size="7.6" text-anchor="middle">6</text>
<line x1="387.75" y1="551.30" x2="387.75" y2="553.50" stroke="#333" stroke-width="0.7"/>
<text x="387.75" y="562.60" font-size="7.6" text-anchor="middle">12</text>
<text x="328.80" y="498.20" font-size="5.6" text-anchor="middle" transform="rotate(-90 328.80 498.20)">ATAC peaks</text>
<text x="335.40" y="498.20" font-size="5.6" text-anchor="middle" transform="rotate(-90 335.40 498.20)">(DOWN in KO)</text>
<text x="1.60" y="591.30" font-size="10.0" font-weight="bold" fill="#000" class="nc">L</text>
<text x="45.40" y="589.60" font-size="6.9" text-anchor="middle" font-style="italic">Gata6</text>
<line x1="35.20" y1="602.20" x2="53.90" y2="602.20" stroke="#231f20" stroke-width="0.7"/>
<line x1="35.20" y1="601.00" x2="35.20" y2="603.40" stroke="#231f20" stroke-width="0.7"/>
<line x1="53.90" y1="601.00" x2="53.90" y2="603.40" stroke="#231f20" stroke-width="0.7"/>
<text x="44.40" y="600.00" font-size="6.3" text-anchor="middle">ns</text>
<line x1="23.40" y1="607.00" x2="23.40" y2="672.85" stroke="#231f20" stroke-width="0.9"/>
<line x1="23.40" y1="672.50" x2="62.50" y2="672.50" stroke="#231f20" stroke-width="0.9"/>
<line x1="21.60" y1="672.50" x2="23.40" y2="672.50" stroke="#231f20" stroke-width="0.7"/>
<text x="20.80" y="674.90" font-size="6.8" text-anchor="end">0</text>
<line x1="21.60" y1="645.15" x2="23.40" y2="645.15" stroke="#231f20" stroke-width="0.7"/>
<text x="20.80" y="647.55" font-size="6.8" text-anchor="end">5</text>
<line x1="21.60" y1="617.80" x2="23.40" y2="617.80" stroke="#231f20" stroke-width="0.7"/>
<text x="20.80" y="620.20" font-size="6.8" text-anchor="end">10</text>
<rect x="29.40" y="617.80" width="12.50" height="54.70" fill="#3d87c8" stroke="#2b2b2b" stroke-width="0.7"/>
<rect x="47.70" y="623.82" width="12.50" height="48.68" fill="#f7941d" stroke="#2b2b2b" stroke-width="0.7"/>
<line x1="35.60" y1="609.00" x2="35.60" y2="626.70" stroke="#231f20" stroke-width="0.8"/>
<line x1="32.80" y1="609.00" x2="38.40" y2="609.00" stroke="#231f20" stroke-width="0.8"/>
<line x1="32.80" y1="626.70" x2="38.40" y2="626.70" stroke="#231f20" stroke-width="0.8"/>
<line x1="53.90" y1="619.40" x2="53.90" y2="628.00" stroke="#231f20" stroke-width="0.8"/>
<line x1="51.10" y1="619.40" x2="56.70" y2="619.40" stroke="#231f20" stroke-width="0.8"/>
<line x1="51.10" y1="628.00" x2="56.70" y2="628.00" stroke="#231f20" stroke-width="0.8"/>
<line x1="35.60" y1="672.50" x2="35.60" y2="674.10" stroke="#231f20" stroke-width="0.7"/>
<line x1="53.90" y1="672.50" x2="53.90" y2="674.10" stroke="#231f20" stroke-width="0.7"/>
<text x="35.90" y="683.60" font-size="6.8" text-anchor="middle">WT</text>
<text x="53.90" y="683.60" font-size="6.8" text-anchor="middle">KO</text>
<text x="10.2" y="640" font-size="6.8" text-anchor="middle" transform="rotate(-90 10.2 640)">Log<tspan font-size="4.8" dy="1.4">2</tspan><tspan dy="-1.4"> (normalized counts)</tspan></text>
<text x="92.20" y="590.50" font-size="10.0" font-weight="bold" fill="#000" class="nc">M</text>
<text x="166.60" y="591.30" font-size="7.5" text-anchor="middle">GATA6 ChIP-seq peaks</text>
<line x1="104.50" y1="595.00" x2="229.20" y2="595.00" stroke="#707070" stroke-width="1.0"/>
<rect x="104.50" y="607.90" width="55.20" height="65.60" fill="#fff" stroke="#333" stroke-width="1.0"/>
<text x="132.10" y="604.60" font-size="7.5" text-anchor="middle">ATAC</text>
<text x="103.20" y="610.10" font-size="6.9" text-anchor="end">15</text>
<text x="103.20" y="621.70" font-size="6.9" text-anchor="end">12.5</text>
<text x="103.20" y="633.30" font-size="6.9" text-anchor="end">10</text>
<text x="103.20" y="644.90" font-size="6.9" text-anchor="end">7.5</text>
<text x="103.20" y="656.50" font-size="6.9" text-anchor="end">5</text>
<text x="103.20" y="668.10" font-size="6.9" text-anchor="end">2.5</text>
<path d="M105.30,670.92 L105.90,670.89 L106.49,670.86 L107.09,670.83 L107.68,670.80 L108.28,670.77 L108.87,670.74 L109.47,670.70 L110.06,670.66 L110.66,670.63 L111.26,670.58 L111.85,670.54 L112.45,670.49 L113.04,670.44 L113.64,670.39 L114.23,670.33 L114.83,670.27 L115.42,670.20 L116.02,670.12 L116.62,670.04 L117.21,669.95 L117.81,669.85 L118.40,669.73 L119.00,669.61 L119.59,669.46 L120.19,669.29 L120.78,669.10 L121.38,668.88 L121.98,668.62 L122.57,668.32 L123.17,667.96 L123.76,667.53 L124.36,667.01 L124.95,666.38 L125.55,665.61 L126.14,664.65 L126.74,663.45 L127.34,661.96 L127.93,660.09 L128.53,657.78 L129.12,654.96 L129.72,651.67 L130.31,648.11 L130.91,644.72 L131.50,642.19 L132.10,641.24 L132.70,642.19 L133.29,644.72 L133.89,648.11 L134.48,651.67 L135.08,654.96 L135.67,657.78 L136.27,660.09 L136.86,661.96 L137.46,663.45 L138.06,664.65 L138.65,665.61 L139.25,666.38 L139.84,667.01 L140.44,667.53 L141.03,667.96 L141.63,668.32 L142.22,668.62 L142.82,668.88 L143.42,669.10 L144.01,669.29 L144.61,669.46 L145.20,669.61 L145.80,669.73 L146.39,669.85 L146.99,669.95 L147.58,670.04 L148.18,670.12 L148.78,670.20 L149.37,670.27 L149.97,670.33 L150.56,670.39 L151.16,670.44 L151.75,670.49 L152.35,670.54 L152.94,670.58 L153.54,670.63 L154.14,670.66 L154.73,670.70 L155.33,670.74 L155.92,670.77 L156.52,670.80 L157.11,670.83 L157.71,670.86 L158.30,670.89 L158.90,670.92" fill="none" stroke="#f3cfcf" stroke-width="2.2" opacity="0.6"/>
<path d="M105.30,671.54 L105.90,671.51 L106.49,671.49 L107.09,671.46 L107.68,671.44 L108.28,671.41 L108.87,671.38 L109.47,671.36 L110.06,671.33 L110.66,671.30 L111.26,671.27 L111.85,671.24 L112.45,671.21 L113.04,671.18 L113.64,671.14 L114.23,671.11 L114.83,671.07 L115.42,671.03 L116.02,670.99 L116.62,670.94 L117.21,670.89 L117.81,670.84 L118.40,670.78 L119.00,670.71 L119.59,670.64 L120.19,670.55 L120.78,670.46 L121.38,670.35 L121.98,670.22 L122.57,670.07 L123.17,669.88 L123.76,669.66 L124.36,669.37 L124.95,669.02 L125.55,668.56 L126.14,667.96 L126.74,667.15 L127.34,666.03 L127.93,664.46 L128.53,662.19 L129.12,658.86 L129.72,653.95 L130.31,646.90 L130.91,637.79 L131.50,628.80 L132.10,624.77 L132.70,628.80 L133.29,637.79 L133.89,646.90 L134.48,653.95 L135.08,658.86 L135.67,662.19 L136.27,664.46 L136.86,666.03 L137.46,667.15 L138.06,667.96 L138.65,668.56 L139.25,669.02 L139.84,669.37 L140.44,669.66 L141.03,669.88 L141.63,670.07 L142.22,670.22 L142.82,670.35 L143.42,670.46 L144.01,670.55 L144.61,670.64 L145.20,670.71 L145.80,670.78 L146.39,670.84 L146.99,670.89 L147.58,670.94 L148.18,670.99 L148.78,671.03 L149.37,671.07 L149.97,671.11 L150.56,671.14 L151.16,671.18 L151.75,671.21 L152.35,671.24 L152.94,671.27 L153.54,671.30 L154.14,671.33 L154.73,671.36 L155.33,671.38 L155.92,671.41 L156.52,671.44 L157.11,671.46 L157.71,671.49 L158.30,671.51 L158.90,671.54" fill="none" stroke="#d3d6ee" stroke-width="2.2" opacity="0.6"/>
<path d="M105.30,670.92 L105.90,670.89 L106.49,670.86 L107.09,670.83 L107.68,670.80 L108.28,670.77 L108.87,670.74 L109.47,670.70 L110.06,670.66 L110.66,670.63 L111.26,670.58 L111.85,670.54 L112.45,670.49 L113.04,670.44 L113.64,670.39 L114.23,670.33 L114.83,670.27 L115.42,670.20 L116.02,670.12 L116.62,670.04 L117.21,669.95 L117.81,669.85 L118.40,669.73 L119.00,669.61 L119.59,669.46 L120.19,669.29 L120.78,669.10 L121.38,668.88 L121.98,668.62 L122.57,668.32 L123.17,667.96 L123.76,667.53 L124.36,667.01 L124.95,666.38 L125.55,665.61 L126.14,664.65 L126.74,663.45 L127.34,661.96 L127.93,660.09 L128.53,657.78 L129.12,654.96 L129.72,651.67 L130.31,648.11 L130.91,644.72 L131.50,642.19 L132.10,641.24 L132.70,642.19 L133.29,644.72 L133.89,648.11 L134.48,651.67 L135.08,654.96 L135.67,657.78 L136.27,660.09 L136.86,661.96 L137.46,663.45 L138.06,664.65 L138.65,665.61 L139.25,666.38 L139.84,667.01 L140.44,667.53 L141.03,667.96 L141.63,668.32 L142.22,668.62 L142.82,668.88 L143.42,669.10 L144.01,669.29 L144.61,669.46 L145.20,669.61 L145.80,669.73 L146.39,669.85 L146.99,669.95 L147.58,670.04 L148.18,670.12 L148.78,670.20 L149.37,670.27 L149.97,670.33 L150.56,670.39 L151.16,670.44 L151.75,670.49 L152.35,670.54 L152.94,670.58 L153.54,670.63 L154.14,670.66 L154.73,670.70 L155.33,670.74 L155.92,670.77 L156.52,670.80 L157.11,670.83 L157.71,670.86 L158.30,670.89 L158.90,670.92" fill="none" stroke="#c9564f" stroke-width="0.9"/>
<path d="M105.30,671.54 L105.90,671.51 L106.49,671.49 L107.09,671.46 L107.68,671.44 L108.28,671.41 L108.87,671.38 L109.47,671.36 L110.06,671.33 L110.66,671.30 L111.26,671.27 L111.85,671.24 L112.45,671.21 L113.04,671.18 L113.64,671.14 L114.23,671.11 L114.83,671.07 L115.42,671.03 L116.02,670.99 L116.62,670.94 L117.21,670.89 L117.81,670.84 L118.40,670.78 L119.00,670.71 L119.59,670.64 L120.19,670.55 L120.78,670.46 L121.38,670.35 L121.98,670.22 L122.57,670.07 L123.17,669.88 L123.76,669.66 L124.36,669.37 L124.95,669.02 L125.55,668.56 L126.14,667.96 L126.74,667.15 L127.34,666.03 L127.93,664.46 L128.53,662.19 L129.12,658.86 L129.72,653.95 L130.31,646.90 L130.91,637.79 L131.50,628.80 L132.10,624.77 L132.70,628.80 L133.29,637.79 L133.89,646.90 L134.48,653.95 L135.08,658.86 L135.67,662.19 L136.27,664.46 L136.86,666.03 L137.46,667.15 L138.06,667.96 L138.65,668.56 L139.25,669.02 L139.84,669.37 L140.44,669.66 L141.03,669.88 L141.63,670.07 L142.22,670.22 L142.82,670.35 L143.42,670.46 L144.01,670.55 L144.61,670.64 L145.20,670.71 L145.80,670.78 L146.39,670.84 L146.99,670.89 L147.58,670.94 L148.18,670.99 L148.78,671.03 L149.37,671.07 L149.97,671.11 L150.56,671.14 L151.16,671.18 L151.75,671.21 L152.35,671.24 L152.94,671.27 L153.54,671.30 L154.14,671.33 L154.73,671.36 L155.33,671.38 L155.92,671.41 L156.52,671.44 L157.11,671.46 L157.71,671.49 L158.30,671.51 L158.90,671.54" fill="none" stroke="#5e67ad" stroke-width="0.9"/>
<line x1="132.10" y1="673.50" x2="132.10" y2="674.70" stroke="#444" stroke-width="0.6"/>
<text x="104.00" y="681.00" font-size="6.9" text-anchor="middle">−2</text>
<text x="159.90" y="681.00" font-size="6.9" text-anchor="middle">2</text>
<line x1="107.70" y1="611.60" x2="109.90" y2="611.60" stroke="#5e67ad" stroke-width="0.9"/>
<text x="110.70" y="614.20" font-size="6.5">SMARCA4-WT</text>
<line x1="107.70" y1="618.80" x2="109.90" y2="618.80" stroke="#c9564f" stroke-width="0.9"/>
<text x="110.70" y="621.30" font-size="6.5">SMARCA4-KO</text>
<text x="90.20" y="682.00" font-size="6.9">Kb</text>
<rect x="171.00" y="608.20" width="59.00" height="66.00" fill="#fff" stroke="#333" stroke-width="1.0"/>
<text x="200.50" y="604.60" font-size="7.5" text-anchor="middle">SMARCA4</text>
<text x="167.20" y="611.70" font-size="6.9" text-anchor="end">8</text>
<text x="167.20" y="621.05" font-size="6.9" text-anchor="end">7</text>
<text x="167.20" y="630.40" font-size="6.9" text-anchor="end">6</text>
<text x="167.20" y="639.75" font-size="6.9" text-anchor="end">5</text>
<text x="167.20" y="649.10" font-size="6.9" text-anchor="end">4</text>
<text x="167.20" y="658.45" font-size="6.9" text-anchor="end">3</text>
<text x="167.20" y="667.80" font-size="6.9" text-anchor="end">2</text>
<path d="M171.80,671.78 L172.44,671.76 L173.08,671.73 L173.71,671.70 L174.35,671.68 L174.99,671.65 L175.63,671.62 L176.26,671.60 L176.90,671.57 L177.54,671.54 L178.18,671.52 L178.82,671.49 L179.45,671.46 L180.09,671.43 L180.73,671.41 L181.37,671.38 L182.00,671.35 L182.64,671.32 L183.28,671.29 L183.92,671.26 L184.56,671.22 L185.19,671.19 L185.83,671.16 L186.47,671.12 L187.11,671.08 L187.74,671.05 L188.38,671.00 L189.02,670.96 L189.66,670.91 L190.30,670.86 L190.93,670.81 L191.57,670.74 L192.21,670.67 L192.85,670.59 L193.48,670.50 L194.12,670.39 L194.76,670.25 L195.40,670.08 L196.04,669.87 L196.67,669.59 L197.31,669.24 L197.95,668.78 L198.59,668.21 L199.22,667.58 L199.86,667.03 L200.50,666.80 L201.14,667.03 L201.78,667.58 L202.41,668.21 L203.05,668.78 L203.69,669.24 L204.33,669.59 L204.96,669.87 L205.60,670.08 L206.24,670.25 L206.88,670.39 L207.52,670.50 L208.15,670.59 L208.79,670.67 L209.43,670.74 L210.07,670.81 L210.70,670.86 L211.34,670.91 L211.98,670.96 L212.62,671.00 L213.26,671.05 L213.89,671.08 L214.53,671.12 L215.17,671.16 L215.81,671.19 L216.44,671.22 L217.08,671.26 L217.72,671.29 L218.36,671.32 L219.00,671.35 L219.63,671.38 L220.27,671.41 L220.91,671.43 L221.55,671.46 L222.18,671.49 L222.82,671.52 L223.46,671.54 L224.10,671.57 L224.74,671.60 L225.37,671.62 L226.01,671.65 L226.65,671.68 L227.29,671.70 L227.92,671.73 L228.56,671.76 L229.20,671.78" fill="none" stroke="#f3cfcf" stroke-width="2.2" opacity="0.6"/>
<path d="M171.80,669.38 L172.44,669.28 L173.08,669.18 L173.71,669.08 L174.35,668.98 L174.99,668.88 L175.63,668.77 L176.26,668.67 L176.90,668.57 L177.54,668.47 L178.18,668.37 L178.82,668.27 L179.45,668.17 L180.09,668.07 L180.73,667.97 L181.37,667.86 L182.00,667.76 L182.64,667.66 L183.28,667.56 L183.92,667.46 L184.56,667.35 L185.19,667.24 L185.83,667.13 L186.47,667.00 L187.11,666.86 L187.74,666.70 L188.38,666.50 L189.02,666.24 L189.66,665.90 L190.30,665.45 L190.93,664.85 L191.57,664.07 L192.21,663.05 L192.85,661.77 L193.48,660.19 L194.12,658.29 L194.76,656.08 L195.40,653.60 L196.04,650.91 L196.67,648.13 L197.31,645.38 L197.95,642.82 L198.59,640.59 L199.22,638.84 L199.86,637.71 L200.50,637.25 L201.14,637.71 L201.78,638.84 L202.41,640.59 L203.05,642.82 L203.69,645.38 L204.33,648.13 L204.96,650.91 L205.60,653.60 L206.24,656.08 L206.88,658.29 L207.52,660.19 L208.15,661.77 L208.79,663.05 L209.43,664.07 L210.07,664.85 L210.70,665.45 L211.34,665.90 L211.98,666.24 L212.62,666.50 L213.26,666.70 L213.89,666.86 L214.53,667.00 L215.17,667.13 L215.81,667.24 L216.44,667.35 L217.08,667.46 L217.72,667.56 L218.36,667.66 L219.00,667.76 L219.63,667.86 L220.27,667.97 L220.91,668.07 L221.55,668.17 L222.18,668.27 L222.82,668.37 L223.46,668.47 L224.10,668.57 L224.74,668.67 L225.37,668.77 L226.01,668.88 L226.65,668.98 L227.29,669.08 L227.92,669.18 L228.56,669.28 L229.20,669.38" fill="none" stroke="#d3d6ee" stroke-width="2.2" opacity="0.6"/>
<path d="M171.80,671.78 L172.44,671.76 L173.08,671.73 L173.71,671.70 L174.35,671.68 L174.99,671.65 L175.63,671.62 L176.26,671.60 L176.90,671.57 L177.54,671.54 L178.18,671.52 L178.82,671.49 L179.45,671.46 L180.09,671.43 L180.73,671.41 L181.37,671.38 L182.00,671.35 L182.64,671.32 L183.28,671.29 L183.92,671.26 L184.56,671.22 L185.19,671.19 L185.83,671.16 L186.47,671.12 L187.11,671.08 L187.74,671.05 L188.38,671.00 L189.02,670.96 L189.66,670.91 L190.30,670.86 L190.93,670.81 L191.57,670.74 L192.21,670.67 L192.85,670.59 L193.48,670.50 L194.12,670.39 L194.76,670.25 L195.40,670.08 L196.04,669.87 L196.67,669.59 L197.31,669.24 L197.95,668.78 L198.59,668.21 L199.22,667.58 L199.86,667.03 L200.50,666.80 L201.14,667.03 L201.78,667.58 L202.41,668.21 L203.05,668.78 L203.69,669.24 L204.33,669.59 L204.96,669.87 L205.60,670.08 L206.24,670.25 L206.88,670.39 L207.52,670.50 L208.15,670.59 L208.79,670.67 L209.43,670.74 L210.07,670.81 L210.70,670.86 L211.34,670.91 L211.98,670.96 L212.62,671.00 L213.26,671.05 L213.89,671.08 L214.53,671.12 L215.17,671.16 L215.81,671.19 L216.44,671.22 L217.08,671.26 L217.72,671.29 L218.36,671.32 L219.00,671.35 L219.63,671.38 L220.27,671.41 L220.91,671.43 L221.55,671.46 L222.18,671.49 L222.82,671.52 L223.46,671.54 L224.10,671.57 L224.74,671.60 L225.37,671.62 L226.01,671.65 L226.65,671.68 L227.29,671.70 L227.92,671.73 L228.56,671.76 L229.20,671.78" fill="none" stroke="#c9564f" stroke-width="0.9"/>
<path d="M171.80,669.38 L172.44,669.28 L173.08,669.18 L173.71,669.08 L174.35,668.98 L174.99,668.88 L175.63,668.77 L176.26,668.67 L176.90,668.57 L177.54,668.47 L178.18,668.37 L178.82,668.27 L179.45,668.17 L180.09,668.07 L180.73,667.97 L181.37,667.86 L182.00,667.76 L182.64,667.66 L183.28,667.56 L183.92,667.46 L184.56,667.35 L185.19,667.24 L185.83,667.13 L186.47,667.00 L187.11,666.86 L187.74,666.70 L188.38,666.50 L189.02,666.24 L189.66,665.90 L190.30,665.45 L190.93,664.85 L191.57,664.07 L192.21,663.05 L192.85,661.77 L193.48,660.19 L194.12,658.29 L194.76,656.08 L195.40,653.60 L196.04,650.91 L196.67,648.13 L197.31,645.38 L197.95,642.82 L198.59,640.59 L199.22,638.84 L199.86,637.71 L200.50,637.25 L201.14,637.71 L201.78,638.84 L202.41,640.59 L203.05,642.82 L203.69,645.38 L204.33,648.13 L204.96,650.91 L205.60,653.60 L206.24,656.08 L206.88,658.29 L207.52,660.19 L208.15,661.77 L208.79,663.05 L209.43,664.07 L210.07,664.85 L210.70,665.45 L211.34,665.90 L211.98,666.24 L212.62,666.50 L213.26,666.70 L213.89,666.86 L214.53,667.00 L215.17,667.13 L215.81,667.24 L216.44,667.35 L217.08,667.46 L217.72,667.56 L218.36,667.66 L219.00,667.76 L219.63,667.86 L220.27,667.97 L220.91,668.07 L221.55,668.17 L222.18,668.27 L222.82,668.37 L223.46,668.47 L224.10,668.57 L224.74,668.67 L225.37,668.77 L226.01,668.88 L226.65,668.98 L227.29,669.08 L227.92,669.18 L228.56,669.28 L229.20,669.38" fill="none" stroke="#5e67ad" stroke-width="0.9"/>
<line x1="200.50" y1="674.20" x2="200.50" y2="675.40" stroke="#444" stroke-width="0.6"/>
<text x="170.50" y="681.00" font-size="6.9" text-anchor="middle">−2</text>
<text x="230.20" y="681.00" font-size="6.9" text-anchor="middle">2</text>
<text x="244.00" y="591.00" font-size="10.0" font-weight="bold" fill="#000" class="nc">N</text>
<text x="388.20" y="588.60" font-size="7.5" text-anchor="middle">GATA6 ChIP-seq peaks</text>
<line x1="257.90" y1="593.80" x2="518.00" y2="593.80" stroke="#707070" stroke-width="1.0"/>
<rect x="257.40" y="608.20" width="58.00" height="64.80" fill="#fff" stroke="#333" stroke-width="1.0"/>
<text x="286.40" y="604.60" font-size="7.5" text-anchor="middle">SMARCC1</text>
<text x="255.40" y="611.70" font-size="6.9" text-anchor="end">8</text>
<text x="255.40" y="621.05" font-size="6.9" text-anchor="end">7</text>
<text x="255.40" y="630.40" font-size="6.9" text-anchor="end">6</text>
<text x="255.40" y="639.75" font-size="6.9" text-anchor="end">5</text>
<text x="255.40" y="649.10" font-size="6.9" text-anchor="end">4</text>
<text x="255.40" y="658.45" font-size="6.9" text-anchor="end">3</text>
<text x="255.40" y="667.80" font-size="6.9" text-anchor="end">2</text>
<path d="M258.20,670.43 L258.83,670.41 L259.45,670.38 L260.08,670.35 L260.71,670.32 L261.33,670.28 L261.96,670.24 L262.59,670.19 L263.21,670.15 L263.84,670.10 L264.47,670.05 L265.09,670.00 L265.72,669.94 L266.35,669.88 L266.97,669.82 L267.60,669.76 L268.23,669.70 L268.85,669.63 L269.48,669.56 L270.11,669.49 L270.73,669.42 L271.36,669.34 L271.99,669.26 L272.61,669.17 L273.24,669.08 L273.87,668.97 L274.49,668.84 L275.12,668.70 L275.75,668.52 L276.37,668.31 L277.00,668.05 L277.63,667.73 L278.25,667.34 L278.88,666.88 L279.51,666.33 L280.13,665.70 L280.76,664.99 L281.39,664.22 L282.01,663.40 L282.64,662.56 L283.27,661.75 L283.89,660.99 L284.52,660.33 L285.15,659.79 L285.77,659.42 L286.40,659.22 L287.03,659.42 L287.65,659.79 L288.28,660.33 L288.91,660.99 L289.53,661.75 L290.16,662.56 L290.79,663.40 L291.41,664.22 L292.04,664.99 L292.67,665.70 L293.29,666.33 L293.92,666.88 L294.55,667.34 L295.17,667.73 L295.80,668.05 L296.43,668.31 L297.05,668.52 L297.68,668.70 L298.31,668.84 L298.93,668.97 L299.56,669.08 L300.19,669.17 L300.81,669.26 L301.44,669.34 L302.07,669.42 L302.69,669.49 L303.32,669.56 L303.95,669.63 L304.57,669.70 L305.20,669.76 L305.83,669.82 L306.45,669.88 L307.08,669.94 L307.71,670.00 L308.33,670.05 L308.96,670.10 L309.59,670.15 L310.21,670.19 L310.84,670.24 L311.47,670.28 L312.09,670.32 L312.72,670.35 L313.35,670.38 L313.97,670.41 L314.60,670.43" fill="none" stroke="#f3cfcf" stroke-width="2.2" opacity="0.6"/>
<path d="M258.20,667.60 L258.83,667.55 L259.45,667.48 L260.08,667.40 L260.71,667.31 L261.33,667.22 L261.96,667.11 L262.59,667.00 L263.21,666.88 L263.84,666.76 L264.47,666.63 L265.09,666.49 L265.72,666.34 L266.35,666.20 L266.97,666.04 L267.60,665.88 L268.23,665.72 L268.85,665.55 L269.48,665.37 L270.11,665.19 L270.73,665.00 L271.36,664.81 L271.99,664.61 L272.61,664.39 L273.24,664.16 L273.87,663.90 L274.49,663.60 L275.12,663.25 L275.75,662.82 L276.37,662.28 L277.00,661.58 L277.63,660.69 L278.25,659.52 L278.88,658.02 L279.51,656.10 L280.13,653.72 L280.76,650.82 L281.39,647.41 L282.01,643.57 L282.64,639.46 L283.27,635.37 L283.89,631.76 L284.52,629.36 L285.15,629.26 L285.77,630.31 L286.40,631.17 L287.03,630.31 L287.65,629.26 L288.28,629.36 L288.91,631.76 L289.53,635.37 L290.16,639.46 L290.79,643.57 L291.41,647.41 L292.04,650.82 L292.67,653.72 L293.29,656.10 L293.92,658.02 L294.55,659.52 L295.17,660.69 L295.80,661.58 L296.43,662.28 L297.05,662.82 L297.68,663.25 L298.31,663.60 L298.93,663.90 L299.56,664.16 L300.19,664.39 L300.81,664.61 L301.44,664.81 L302.07,665.00 L302.69,665.19 L303.32,665.37 L303.95,665.55 L304.57,665.72 L305.20,665.88 L305.83,666.04 L306.45,666.20 L307.08,666.34 L307.71,666.49 L308.33,666.63 L308.96,666.76 L309.59,666.88 L310.21,667.00 L310.84,667.11 L311.47,667.22 L312.09,667.31 L312.72,667.40 L313.35,667.48 L313.97,667.55 L314.60,667.60" fill="none" stroke="#d3d6ee" stroke-width="2.2" opacity="0.6"/>
<path d="M258.20,670.43 L258.83,670.41 L259.45,670.38 L260.08,670.35 L260.71,670.32 L261.33,670.28 L261.96,670.24 L262.59,670.19 L263.21,670.15 L263.84,670.10 L264.47,670.05 L265.09,670.00 L265.72,669.94 L266.35,669.88 L266.97,669.82 L267.60,669.76 L268.23,669.70 L268.85,669.63 L269.48,669.56 L270.11,669.49 L270.73,669.42 L271.36,669.34 L271.99,669.26 L272.61,669.17 L273.24,669.08 L273.87,668.97 L274.49,668.84 L275.12,668.70 L275.75,668.52 L276.37,668.31 L277.00,668.05 L277.63,667.73 L278.25,667.34 L278.88,666.88 L279.51,666.33 L280.13,665.70 L280.76,664.99 L281.39,664.22 L282.01,663.40 L282.64,662.56 L283.27,661.75 L283.89,660.99 L284.52,660.33 L285.15,659.79 L285.77,659.42 L286.40,659.22 L287.03,659.42 L287.65,659.79 L288.28,660.33 L288.91,660.99 L289.53,661.75 L290.16,662.56 L290.79,663.40 L291.41,664.22 L292.04,664.99 L292.67,665.70 L293.29,666.33 L293.92,666.88 L294.55,667.34 L295.17,667.73 L295.80,668.05 L296.43,668.31 L297.05,668.52 L297.68,668.70 L298.31,668.84 L298.93,668.97 L299.56,669.08 L300.19,669.17 L300.81,669.26 L301.44,669.34 L302.07,669.42 L302.69,669.49 L303.32,669.56 L303.95,669.63 L304.57,669.70 L305.20,669.76 L305.83,669.82 L306.45,669.88 L307.08,669.94 L307.71,670.00 L308.33,670.05 L308.96,670.10 L309.59,670.15 L310.21,670.19 L310.84,670.24 L311.47,670.28 L312.09,670.32 L312.72,670.35 L313.35,670.38 L313.97,670.41 L314.60,670.43" fill="none" stroke="#c9564f" stroke-width="0.9"/>
<path d="M258.20,667.60 L258.83,667.55 L259.45,667.48 L260.08,667.40 L260.71,667.31 L261.33,667.22 L261.96,667.11 L262.59,667.00 L263.21,666.88 L263.84,666.76 L264.47,666.63 L265.09,666.49 L265.72,666.34 L266.35,666.20 L266.97,666.04 L267.60,665.88 L268.23,665.72 L268.85,665.55 L269.48,665.37 L270.11,665.19 L270.73,665.00 L271.36,664.81 L271.99,664.61 L272.61,664.39 L273.24,664.16 L273.87,663.90 L274.49,663.60 L275.12,663.25 L275.75,662.82 L276.37,662.28 L277.00,661.58 L277.63,660.69 L278.25,659.52 L278.88,658.02 L279.51,656.10 L280.13,653.72 L280.76,650.82 L281.39,647.41 L282.01,643.57 L282.64,639.46 L283.27,635.37 L283.89,631.76 L284.52,629.36 L285.15,629.26 L285.77,630.31 L286.40,631.17 L287.03,630.31 L287.65,629.26 L288.28,629.36 L288.91,631.76 L289.53,635.37 L290.16,639.46 L290.79,643.57 L291.41,647.41 L292.04,650.82 L292.67,653.72 L293.29,656.10 L293.92,658.02 L294.55,659.52 L295.17,660.69 L295.80,661.58 L296.43,662.28 L297.05,662.82 L297.68,663.25 L298.31,663.60 L298.93,663.90 L299.56,664.16 L300.19,664.39 L300.81,664.61 L301.44,664.81 L302.07,665.00 L302.69,665.19 L303.32,665.37 L303.95,665.55 L304.57,665.72 L305.20,665.88 L305.83,666.04 L306.45,666.20 L307.08,666.34 L307.71,666.49 L308.33,666.63 L308.96,666.76 L309.59,666.88 L310.21,667.00 L310.84,667.11 L311.47,667.22 L312.09,667.31 L312.72,667.40 L313.35,667.48 L313.97,667.55 L314.60,667.60" fill="none" stroke="#5e67ad" stroke-width="0.9"/>
<line x1="286.40" y1="673.00" x2="286.40" y2="674.20" stroke="#444" stroke-width="0.6"/>
<text x="256.90" y="681.00" font-size="6.9" text-anchor="middle">−2</text>
<text x="315.60" y="681.00" font-size="6.9" text-anchor="middle">2</text>
<line x1="260.60" y1="611.60" x2="262.80" y2="611.60" stroke="#5e67ad" stroke-width="0.9"/>
<text x="263.60" y="614.20" font-size="6.5">SMARCA4-WT</text>
<line x1="260.60" y1="618.80" x2="262.80" y2="618.80" stroke="#c9564f" stroke-width="0.9"/>
<text x="263.60" y="621.30" font-size="6.5">SMARCA4-KO</text>
<text x="244.00" y="680.40" font-size="6.9">Kb</text>
<rect x="326.00" y="608.10" width="57.50" height="65.40" fill="#fff" stroke="#333" stroke-width="1.0"/>
<text x="354.75" y="604.60" font-size="7.5" text-anchor="middle">ARID1A</text>
<text x="323.60" y="611.70" font-size="6.9" text-anchor="end">8</text>
<text x="323.60" y="621.05" font-size="6.9" text-anchor="end">7</text>
<text x="323.60" y="630.40" font-size="6.9" text-anchor="end">6</text>
<text x="323.60" y="639.75" font-size="6.9" text-anchor="end">5</text>
<text x="323.60" y="649.10" font-size="6.9" text-anchor="end">4</text>
<text x="323.60" y="658.45" font-size="6.9" text-anchor="end">3</text>
<text x="323.60" y="667.80" font-size="6.9" text-anchor="end">2</text>
<path d="M326.80,670.71 L327.42,670.69 L328.04,670.66 L328.66,670.63 L329.28,670.60 L329.91,670.56 L330.53,670.52 L331.15,670.47 L331.77,670.43 L332.39,670.38 L333.01,670.33 L333.63,670.27 L334.25,670.22 L334.87,670.16 L335.50,670.10 L336.12,670.04 L336.74,669.97 L337.36,669.91 L337.98,669.84 L338.60,669.77 L339.22,669.69 L339.84,669.61 L340.46,669.53 L341.09,669.45 L341.71,669.36 L342.33,669.27 L342.95,669.17 L343.57,669.06 L344.19,668.94 L344.81,668.81 L345.43,668.66 L346.05,668.49 L346.68,668.30 L347.30,668.07 L347.92,667.79 L348.54,667.46 L349.16,667.07 L349.78,666.59 L350.40,666.00 L351.02,665.30 L351.64,664.45 L352.27,663.44 L352.89,662.26 L353.51,660.91 L354.13,659.44 L354.75,658.10 L355.37,659.44 L355.99,660.91 L356.61,662.26 L357.23,663.44 L357.86,664.45 L358.48,665.30 L359.10,666.00 L359.72,666.59 L360.34,667.07 L360.96,667.46 L361.58,667.79 L362.20,668.07 L362.82,668.30 L363.45,668.49 L364.07,668.66 L364.69,668.81 L365.31,668.94 L365.93,669.06 L366.55,669.17 L367.17,669.27 L367.79,669.36 L368.41,669.45 L369.04,669.53 L369.66,669.61 L370.28,669.69 L370.90,669.77 L371.52,669.84 L372.14,669.91 L372.76,669.97 L373.38,670.04 L374.00,670.10 L374.63,670.16 L375.25,670.22 L375.87,670.27 L376.49,670.33 L377.11,670.38 L377.73,670.43 L378.35,670.47 L378.97,670.52 L379.59,670.56 L380.22,670.60 L380.84,670.63 L381.46,670.66 L382.08,670.69 L382.70,670.71" fill="none" stroke="#f3cfcf" stroke-width="2.2" opacity="0.6"/>
<path d="M326.80,668.07 L327.42,668.01 L328.04,667.95 L328.66,667.87 L329.28,667.78 L329.91,667.68 L330.53,667.58 L331.15,667.47 L331.77,667.35 L332.39,667.22 L333.01,667.09 L333.63,666.95 L334.25,666.81 L334.87,666.66 L335.50,666.50 L336.12,666.34 L336.74,666.17 L337.36,665.99 L337.98,665.81 L338.60,665.62 L339.22,665.42 L339.84,665.21 L340.46,664.98 L341.09,664.75 L341.71,664.49 L342.33,664.20 L342.95,663.88 L343.57,663.53 L344.19,663.12 L344.81,662.65 L345.43,662.09 L346.05,661.43 L346.68,660.64 L347.30,659.68 L347.92,658.53 L348.54,657.13 L349.16,655.45 L349.78,653.42 L350.40,651.01 L351.02,648.15 L351.64,644.83 L352.27,641.02 L352.89,636.79 L353.51,632.25 L354.13,627.79 L354.75,624.68 L355.37,629.01 L355.99,633.40 L356.61,637.15 L357.23,641.06 L357.86,644.83 L358.48,648.15 L359.10,651.01 L359.72,653.42 L360.34,655.45 L360.96,657.13 L361.58,658.53 L362.20,659.68 L362.82,660.64 L363.45,661.43 L364.07,662.09 L364.69,662.65 L365.31,663.12 L365.93,663.53 L366.55,663.88 L367.17,664.20 L367.79,664.49 L368.41,664.75 L369.04,664.98 L369.66,665.21 L370.28,665.42 L370.90,665.62 L371.52,665.81 L372.14,665.99 L372.76,666.17 L373.38,666.34 L374.00,666.50 L374.63,666.66 L375.25,666.81 L375.87,666.95 L376.49,667.09 L377.11,667.22 L377.73,667.35 L378.35,667.47 L378.97,667.58 L379.59,667.68 L380.22,667.78 L380.84,667.87 L381.46,667.95 L382.08,668.01 L382.70,668.07" fill="none" stroke="#d3d6ee" stroke-width="2.2" opacity="0.6"/>
<path d="M326.80,670.71 L327.42,670.69 L328.04,670.66 L328.66,670.63 L329.28,670.60 L329.91,670.56 L330.53,670.52 L331.15,670.47 L331.77,670.43 L332.39,670.38 L333.01,670.33 L333.63,670.27 L334.25,670.22 L334.87,670.16 L335.50,670.10 L336.12,670.04 L336.74,669.97 L337.36,669.91 L337.98,669.84 L338.60,669.77 L339.22,669.69 L339.84,669.61 L340.46,669.53 L341.09,669.45 L341.71,669.36 L342.33,669.27 L342.95,669.17 L343.57,669.06 L344.19,668.94 L344.81,668.81 L345.43,668.66 L346.05,668.49 L346.68,668.30 L347.30,668.07 L347.92,667.79 L348.54,667.46 L349.16,667.07 L349.78,666.59 L350.40,666.00 L351.02,665.30 L351.64,664.45 L352.27,663.44 L352.89,662.26 L353.51,660.91 L354.13,659.44 L354.75,658.10 L355.37,659.44 L355.99,660.91 L356.61,662.26 L357.23,663.44 L357.86,664.45 L358.48,665.30 L359.10,666.00 L359.72,666.59 L360.34,667.07 L360.96,667.46 L361.58,667.79 L362.20,668.07 L362.82,668.30 L363.45,668.49 L364.07,668.66 L364.69,668.81 L365.31,668.94 L365.93,669.06 L366.55,669.17 L367.17,669.27 L367.79,669.36 L368.41,669.45 L369.04,669.53 L369.66,669.61 L370.28,669.69 L370.90,669.77 L371.52,669.84 L372.14,669.91 L372.76,669.97 L373.38,670.04 L374.00,670.10 L374.63,670.16 L375.25,670.22 L375.87,670.27 L376.49,670.33 L377.11,670.38 L377.73,670.43 L378.35,670.47 L378.97,670.52 L379.59,670.56 L380.22,670.60 L380.84,670.63 L381.46,670.66 L382.08,670.69 L382.70,670.71" fill="none" stroke="#c9564f" stroke-width="0.9"/>
<path d="M326.80,668.07 L327.42,668.01 L328.04,667.95 L328.66,667.87 L329.28,667.78 L329.91,667.68 L330.53,667.58 L331.15,667.47 L331.77,667.35 L332.39,667.22 L333.01,667.09 L333.63,666.95 L334.25,666.81 L334.87,666.66 L335.50,666.50 L336.12,666.34 L336.74,666.17 L337.36,665.99 L337.98,665.81 L338.60,665.62 L339.22,665.42 L339.84,665.21 L340.46,664.98 L341.09,664.75 L341.71,664.49 L342.33,664.20 L342.95,663.88 L343.57,663.53 L344.19,663.12 L344.81,662.65 L345.43,662.09 L346.05,661.43 L346.68,660.64 L347.30,659.68 L347.92,658.53 L348.54,657.13 L349.16,655.45 L349.78,653.42 L350.40,651.01 L351.02,648.15 L351.64,644.83 L352.27,641.02 L352.89,636.79 L353.51,632.25 L354.13,627.79 L354.75,624.68 L355.37,629.01 L355.99,633.40 L356.61,637.15 L357.23,641.06 L357.86,644.83 L358.48,648.15 L359.10,651.01 L359.72,653.42 L360.34,655.45 L360.96,657.13 L361.58,658.53 L362.20,659.68 L362.82,660.64 L363.45,661.43 L364.07,662.09 L364.69,662.65 L365.31,663.12 L365.93,663.53 L366.55,663.88 L367.17,664.20 L367.79,664.49 L368.41,664.75 L369.04,664.98 L369.66,665.21 L370.28,665.42 L370.90,665.62 L371.52,665.81 L372.14,665.99 L372.76,666.17 L373.38,666.34 L374.00,666.50 L374.63,666.66 L375.25,666.81 L375.87,666.95 L376.49,667.09 L377.11,667.22 L377.73,667.35 L378.35,667.47 L378.97,667.58 L379.59,667.68 L380.22,667.78 L380.84,667.87 L381.46,667.95 L382.08,668.01 L382.70,668.07" fill="none" stroke="#5e67ad" stroke-width="0.9"/>
<line x1="354.75" y1="673.50" x2="354.75" y2="674.70" stroke="#444" stroke-width="0.6"/>
<text x="325.50" y="681.00" font-size="6.9" text-anchor="middle">−2</text>
<text x="383.70" y="681.00" font-size="6.9" text-anchor="middle">2</text>
<rect x="393.50" y="608.10" width="57.30" height="65.40" fill="#fff" stroke="#333" stroke-width="1.0"/>
<text x="422.15" y="604.60" font-size="7.5" text-anchor="middle">PBRM1</text>
<text x="391.40" y="611.35" font-size="6.9" text-anchor="end">5</text>
<text x="391.40" y="628.30" font-size="6.9" text-anchor="end">4</text>
<text x="391.40" y="645.25" font-size="6.9" text-anchor="end">3</text>
<text x="391.40" y="662.20" font-size="6.9" text-anchor="end">2</text>
<path d="M394.30,670.62 L394.92,670.55 L395.54,670.48 L396.16,670.40 L396.78,670.33 L397.39,670.25 L398.01,670.18 L398.63,670.11 L399.25,670.03 L399.87,669.96 L400.49,669.88 L401.11,669.81 L401.73,669.73 L402.35,669.66 L402.96,669.58 L403.58,669.50 L404.20,669.42 L404.82,669.34 L405.44,669.25 L406.06,669.17 L406.68,669.08 L407.30,668.98 L407.92,668.89 L408.53,668.78 L409.15,668.67 L409.77,668.54 L410.39,668.41 L411.01,668.26 L411.63,668.09 L412.25,667.89 L412.87,667.67 L413.49,667.41 L414.10,667.11 L414.72,666.76 L415.34,666.34 L415.96,665.85 L416.58,665.26 L417.20,664.56 L417.82,663.73 L418.44,662.74 L419.06,661.57 L419.67,660.19 L420.29,658.57 L420.91,656.70 L421.53,654.58 L422.15,652.41 L422.77,654.58 L423.39,656.70 L424.01,658.57 L424.63,660.19 L425.24,661.57 L425.86,662.74 L426.48,663.73 L427.10,664.56 L427.72,665.26 L428.34,665.85 L428.96,666.34 L429.58,666.76 L430.20,667.11 L430.81,667.41 L431.43,667.67 L432.05,667.89 L432.67,668.09 L433.29,668.26 L433.91,668.41 L434.53,668.54 L435.15,668.67 L435.77,668.78 L436.38,668.89 L437.00,668.98 L437.62,669.08 L438.24,669.17 L438.86,669.25 L439.48,669.34 L440.10,669.42 L440.72,669.50 L441.34,669.58 L441.95,669.66 L442.57,669.73 L443.19,669.81 L443.81,669.88 L444.43,669.96 L445.05,670.03 L445.67,670.11 L446.29,670.18 L446.91,670.25 L447.52,670.33 L448.14,670.40 L448.76,670.48 L449.38,670.55 L450.00,670.62" fill="none" stroke="#f3cfcf" stroke-width="2.2" opacity="0.6"/>
<path d="M394.30,670.62 L394.92,670.55 L395.54,670.48 L396.16,670.40 L396.78,670.33 L397.39,670.26 L398.01,670.18 L398.63,670.11 L399.25,670.04 L399.87,669.96 L400.49,669.89 L401.11,669.82 L401.73,669.74 L402.35,669.67 L402.96,669.60 L403.58,669.52 L404.20,669.45 L404.82,669.38 L405.44,669.30 L406.06,669.23 L406.68,669.16 L407.30,669.08 L407.92,669.01 L408.53,668.93 L409.15,668.86 L409.77,668.77 L410.39,668.68 L411.01,668.57 L411.63,668.44 L412.25,668.25 L412.87,667.99 L413.49,667.61 L414.10,667.07 L414.72,666.30 L415.34,665.24 L415.96,663.81 L416.58,661.98 L417.20,659.73 L417.82,657.09 L418.44,654.14 L419.06,651.04 L419.67,647.99 L420.29,645.25 L420.91,643.05 L421.53,641.60 L422.15,641.06 L422.77,641.60 L423.39,643.05 L424.01,645.25 L424.63,647.99 L425.24,651.04 L425.86,654.14 L426.48,657.09 L427.10,659.73 L427.72,661.98 L428.34,663.81 L428.96,665.24 L429.58,666.30 L430.20,667.07 L430.81,667.61 L431.43,667.99 L432.05,668.25 L432.67,668.44 L433.29,668.57 L433.91,668.68 L434.53,668.77 L435.15,668.86 L435.77,668.93 L436.38,669.01 L437.00,669.08 L437.62,669.16 L438.24,669.23 L438.86,669.30 L439.48,669.38 L440.10,669.45 L440.72,669.52 L441.34,669.60 L441.95,669.67 L442.57,669.74 L443.19,669.82 L443.81,669.89 L444.43,669.96 L445.05,670.04 L445.67,670.11 L446.29,670.18 L446.91,670.26 L447.52,670.33 L448.14,670.40 L448.76,670.48 L449.38,670.55 L450.00,670.62" fill="none" stroke="#d3d6ee" stroke-width="2.2" opacity="0.6"/>
<path d="M394.30,670.62 L394.92,670.55 L395.54,670.48 L396.16,670.40 L396.78,670.33 L397.39,670.25 L398.01,670.18 L398.63,670.11 L399.25,670.03 L399.87,669.96 L400.49,669.88 L401.11,669.81 L401.73,669.73 L402.35,669.66 L402.96,669.58 L403.58,669.50 L404.20,669.42 L404.82,669.34 L405.44,669.25 L406.06,669.17 L406.68,669.08 L407.30,668.98 L407.92,668.89 L408.53,668.78 L409.15,668.67 L409.77,668.54 L410.39,668.41 L411.01,668.26 L411.63,668.09 L412.25,667.89 L412.87,667.67 L413.49,667.41 L414.10,667.11 L414.72,666.76 L415.34,666.34 L415.96,665.85 L416.58,665.26 L417.20,664.56 L417.82,663.73 L418.44,662.74 L419.06,661.57 L419.67,660.19 L420.29,658.57 L420.91,656.70 L421.53,654.58 L422.15,652.41 L422.77,654.58 L423.39,656.70 L424.01,658.57 L424.63,660.19 L425.24,661.57 L425.86,662.74 L426.48,663.73 L427.10,664.56 L427.72,665.26 L428.34,665.85 L428.96,666.34 L429.58,666.76 L430.20,667.11 L430.81,667.41 L431.43,667.67 L432.05,667.89 L432.67,668.09 L433.29,668.26 L433.91,668.41 L434.53,668.54 L435.15,668.67 L435.77,668.78 L436.38,668.89 L437.00,668.98 L437.62,669.08 L438.24,669.17 L438.86,669.25 L439.48,669.34 L440.10,669.42 L440.72,669.50 L441.34,669.58 L441.95,669.66 L442.57,669.73 L443.19,669.81 L443.81,669.88 L444.43,669.96 L445.05,670.03 L445.67,670.11 L446.29,670.18 L446.91,670.25 L447.52,670.33 L448.14,670.40 L448.76,670.48 L449.38,670.55 L450.00,670.62" fill="none" stroke="#c9564f" stroke-width="0.9"/>
<path d="M394.30,670.62 L394.92,670.55 L395.54,670.48 L396.16,670.40 L396.78,670.33 L397.39,670.26 L398.01,670.18 L398.63,670.11 L399.25,670.04 L399.87,669.96 L400.49,669.89 L401.11,669.82 L401.73,669.74 L402.35,669.67 L402.96,669.60 L403.58,669.52 L404.20,669.45 L404.82,669.38 L405.44,669.30 L406.06,669.23 L406.68,669.16 L407.30,669.08 L407.92,669.01 L408.53,668.93 L409.15,668.86 L409.77,668.77 L410.39,668.68 L411.01,668.57 L411.63,668.44 L412.25,668.25 L412.87,667.99 L413.49,667.61 L414.10,667.07 L414.72,666.30 L415.34,665.24 L415.96,663.81 L416.58,661.98 L417.20,659.73 L417.82,657.09 L418.44,654.14 L419.06,651.04 L419.67,647.99 L420.29,645.25 L420.91,643.05 L421.53,641.60 L422.15,641.06 L422.77,641.60 L423.39,643.05 L424.01,645.25 L424.63,647.99 L425.24,651.04 L425.86,654.14 L426.48,657.09 L427.10,659.73 L427.72,661.98 L428.34,663.81 L428.96,665.24 L429.58,666.30 L430.20,667.07 L430.81,667.61 L431.43,667.99 L432.05,668.25 L432.67,668.44 L433.29,668.57 L433.91,668.68 L434.53,668.77 L435.15,668.86 L435.77,668.93 L436.38,669.01 L437.00,669.08 L437.62,669.16 L438.24,669.23 L438.86,669.30 L439.48,669.38 L440.10,669.45 L440.72,669.52 L441.34,669.60 L441.95,669.67 L442.57,669.74 L443.19,669.82 L443.81,669.89 L444.43,669.96 L445.05,670.04 L445.67,670.11 L446.29,670.18 L446.91,670.26 L447.52,670.33 L448.14,670.40 L448.76,670.48 L449.38,670.55 L450.00,670.62" fill="none" stroke="#5e67ad" stroke-width="0.9"/>
<line x1="422.15" y1="673.50" x2="422.15" y2="674.70" stroke="#444" stroke-width="0.6"/>
<text x="393.00" y="681.00" font-size="6.9" text-anchor="middle">−2</text>
<text x="451.00" y="681.00" font-size="6.9" text-anchor="middle">2</text>
<rect x="460.00" y="608.10" width="57.60" height="65.40" fill="#fff" stroke="#333" stroke-width="1.0"/>
<text x="488.80" y="604.60" font-size="7.5" text-anchor="middle">BRD9</text>
<text x="457.60" y="611.35" font-size="6.9" text-anchor="end">5</text>
<text x="457.60" y="628.30" font-size="6.9" text-anchor="end">4</text>
<text x="457.60" y="645.25" font-size="6.9" text-anchor="end">3</text>
<text x="457.60" y="662.20" font-size="6.9" text-anchor="end">2</text>
<path d="M460.80,670.14 L461.42,670.08 L462.04,670.03 L462.67,669.97 L463.29,669.92 L463.91,669.86 L464.53,669.81 L465.16,669.75 L465.78,669.69 L466.40,669.64 L467.02,669.58 L467.64,669.53 L468.27,669.47 L468.89,669.41 L469.51,669.35 L470.13,669.29 L470.76,669.23 L471.38,669.17 L472.00,669.10 L472.62,669.04 L473.24,668.97 L473.87,668.89 L474.49,668.82 L475.11,668.73 L475.73,668.64 L476.36,668.54 L476.98,668.43 L477.60,668.30 L478.22,668.16 L478.84,667.99 L479.47,667.80 L480.09,667.58 L480.71,667.32 L481.33,667.01 L481.96,666.64 L482.58,666.21 L483.20,665.68 L483.82,665.06 L484.44,664.32 L485.07,663.43 L485.69,662.38 L486.31,661.13 L486.93,659.67 L487.56,657.98 L488.18,656.07 L488.80,654.11 L489.42,656.07 L490.04,657.98 L490.67,659.67 L491.29,661.13 L491.91,662.38 L492.53,663.43 L493.16,664.32 L493.78,665.06 L494.40,665.68 L495.02,666.21 L495.64,666.64 L496.27,667.01 L496.89,667.32 L497.51,667.58 L498.13,667.80 L498.76,667.99 L499.38,668.16 L500.00,668.30 L500.62,668.43 L501.24,668.54 L501.87,668.64 L502.49,668.73 L503.11,668.82 L503.73,668.89 L504.36,668.97 L504.98,669.04 L505.60,669.10 L506.22,669.17 L506.84,669.23 L507.47,669.29 L508.09,669.35 L508.71,669.41 L509.33,669.47 L509.96,669.53 L510.58,669.58 L511.20,669.64 L511.82,669.69 L512.44,669.75 L513.07,669.81 L513.69,669.86 L514.31,669.92 L514.93,669.97 L515.56,670.03 L516.18,670.08 L516.80,670.14" fill="none" stroke="#f3cfcf" stroke-width="2.2" opacity="0.6"/>
<path d="M460.80,663.17 L461.42,663.08 L462.04,662.97 L462.67,662.86 L463.29,662.73 L463.91,662.58 L464.53,662.42 L465.16,662.24 L465.78,662.04 L466.40,661.82 L467.02,661.57 L467.64,661.29 L468.27,660.99 L468.89,660.66 L469.51,660.28 L470.13,659.87 L470.76,659.42 L471.38,658.92 L472.00,658.38 L472.62,657.77 L473.24,657.11 L473.87,656.39 L474.49,655.60 L475.11,654.73 L475.73,653.79 L476.36,652.76 L476.98,651.64 L477.60,650.43 L478.22,649.13 L478.84,647.71 L479.47,646.20 L480.09,644.57 L480.71,642.84 L481.33,640.99 L481.96,639.04 L482.58,637.00 L483.20,634.87 L483.82,632.67 L484.44,630.46 L485.07,628.29 L485.69,626.33 L486.31,625.81 L486.93,625.90 L487.56,626.22 L488.18,626.81 L488.80,627.16 L489.42,626.81 L490.04,626.22 L490.67,625.90 L491.29,625.81 L491.91,626.33 L492.53,628.29 L493.16,630.46 L493.78,632.67 L494.40,634.87 L495.02,637.00 L495.64,639.04 L496.27,640.99 L496.89,642.84 L497.51,644.57 L498.13,646.20 L498.76,647.71 L499.38,649.13 L500.00,650.43 L500.62,651.64 L501.24,652.76 L501.87,653.79 L502.49,654.73 L503.11,655.60 L503.73,656.39 L504.36,657.11 L504.98,657.77 L505.60,658.38 L506.22,658.92 L506.84,659.42 L507.47,659.87 L508.09,660.28 L508.71,660.66 L509.33,660.99 L509.96,661.29 L510.58,661.57 L511.20,661.82 L511.82,662.04 L512.44,662.24 L513.07,662.42 L513.69,662.58 L514.31,662.73 L514.93,662.86 L515.56,662.97 L516.18,663.08 L516.80,663.17" fill="none" stroke="#d3d6ee" stroke-width="2.2" opacity="0.6"/>
<path d="M460.80,670.14 L461.42,670.08 L462.04,670.03 L462.67,669.97 L463.29,669.92 L463.91,669.86 L464.53,669.81 L465.16,669.75 L465.78,669.69 L466.40,669.64 L467.02,669.58 L467.64,669.53 L468.27,669.47 L468.89,669.41 L469.51,669.35 L470.13,669.29 L470.76,669.23 L471.38,669.17 L472.00,669.10 L472.62,669.04 L473.24,668.97 L473.87,668.89 L474.49,668.82 L475.11,668.73 L475.73,668.64 L476.36,668.54 L476.98,668.43 L477.60,668.30 L478.22,668.16 L478.84,667.99 L479.47,667.80 L480.09,667.58 L480.71,667.32 L481.33,667.01 L481.96,666.64 L482.58,666.21 L483.20,665.68 L483.82,665.06 L484.44,664.32 L485.07,663.43 L485.69,662.38 L486.31,661.13 L486.93,659.67 L487.56,657.98 L488.18,656.07 L488.80,654.11 L489.42,656.07 L490.04,657.98 L490.67,659.67 L491.29,661.13 L491.91,662.38 L492.53,663.43 L493.16,664.32 L493.78,665.06 L494.40,665.68 L495.02,666.21 L495.64,666.64 L496.27,667.01 L496.89,667.32 L497.51,667.58 L498.13,667.80 L498.76,667.99 L499.38,668.16 L500.00,668.30 L500.62,668.43 L501.24,668.54 L501.87,668.64 L502.49,668.73 L503.11,668.82 L503.73,668.89 L504.36,668.97 L504.98,669.04 L505.60,669.10 L506.22,669.17 L506.84,669.23 L507.47,669.29 L508.09,669.35 L508.71,669.41 L509.33,669.47 L509.96,669.53 L510.58,669.58 L511.20,669.64 L511.82,669.69 L512.44,669.75 L513.07,669.81 L513.69,669.86 L514.31,669.92 L514.93,669.97 L515.56,670.03 L516.18,670.08 L516.80,670.14" fill="none" stroke="#c9564f" stroke-width="0.9"/>
<path d="M460.80,663.17 L461.42,663.08 L462.04,662.97 L462.67,662.86 L463.29,662.73 L463.91,662.58 L464.53,662.42 L465.16,662.24 L465.78,662.04 L466.40,661.82 L467.02,661.57 L467.64,661.29 L468.27,660.99 L468.89,660.66 L469.51,660.28 L470.13,659.87 L470.76,659.42 L471.38,658.92 L472.00,658.38 L472.62,657.77 L473.24,657.11 L473.87,656.39 L474.49,655.60 L475.11,654.73 L475.73,653.79 L476.36,652.76 L476.98,651.64 L477.60,650.43 L478.22,649.13 L478.84,647.71 L479.47,646.20 L480.09,644.57 L480.71,642.84 L481.33,640.99 L481.96,639.04 L482.58,637.00 L483.20,634.87 L483.82,632.67 L484.44,630.46 L485.07,628.29 L485.69,626.33 L486.31,625.81 L486.93,625.90 L487.56,626.22 L488.18,626.81 L488.80,627.16 L489.42,626.81 L490.04,626.22 L490.67,625.90 L491.29,625.81 L491.91,626.33 L492.53,628.29 L493.16,630.46 L493.78,632.67 L494.40,634.87 L495.02,637.00 L495.64,639.04 L496.27,640.99 L496.89,642.84 L497.51,644.57 L498.13,646.20 L498.76,647.71 L499.38,649.13 L500.00,650.43 L500.62,651.64 L501.24,652.76 L501.87,653.79 L502.49,654.73 L503.11,655.60 L503.73,656.39 L504.36,657.11 L504.98,657.77 L505.60,658.38 L506.22,658.92 L506.84,659.42 L507.47,659.87 L508.09,660.28 L508.71,660.66 L509.33,660.99 L509.96,661.29 L510.58,661.57 L511.20,661.82 L511.82,662.04 L512.44,662.24 L513.07,662.42 L513.69,662.58 L514.31,662.73 L514.93,662.86 L515.56,662.97 L516.18,663.08 L516.80,663.17" fill="none" stroke="#5e67ad" stroke-width="0.9"/>
<line x1="488.80" y1="673.50" x2="488.80" y2="674.70" stroke="#444" stroke-width="0.6"/>
<text x="459.50" y="681.00" font-size="6.9" text-anchor="middle">−2</text>
<text x="517.80" y="681.00" font-size="6.9" text-anchor="middle">2</text>
</svg>
</body></html>
